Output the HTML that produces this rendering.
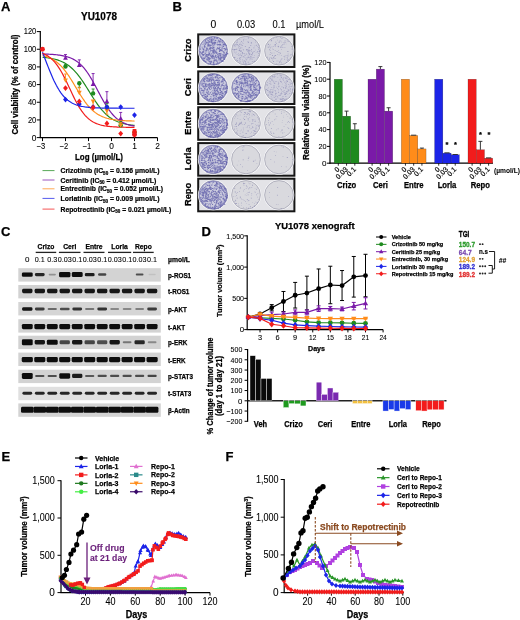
<!DOCTYPE html>
<html><head><meta charset="utf-8"><title>Figure</title>
<style>html,body{margin:0;padding:0;background:#fff;}body{width:520px;height:620px;overflow:hidden;}svg{display:block;}</style>
</head><body>
<svg width="520" height="620" viewBox="0 0 520 620" font-family='"Liberation Sans", Arial, sans-serif' font-weight="bold"><text x="1" y="10.6" font-size="13" stroke="#000" stroke-width="0.25">A</text>
<text x="99" y="20" font-size="11" stroke="#000" stroke-width="0.25" text-anchor="middle" textLength="36" lengthAdjust="spacingAndGlyphs">YU1078</text>
<line x1="40.3" y1="31.08" x2="40.3" y2="138.1" stroke="#000" stroke-width="1.2"/>
<line x1="39.8" y1="137.6" x2="157.5" y2="137.6" stroke="#000" stroke-width="1.2"/>
<line x1="36.8" y1="137.6" x2="40.3" y2="137.6" stroke="#000" stroke-width="1"/>
<text x="36.3" y="140.5" font-size="8.4" stroke="#000" stroke-width="0.08" font-weight="normal" text-anchor="end">0</text>
<line x1="36.8" y1="119.93" x2="40.3" y2="119.93" stroke="#000" stroke-width="1"/>
<text x="36.3" y="122.83" font-size="8.4" stroke="#000" stroke-width="0.08" font-weight="normal" text-anchor="end" textLength="8.41" lengthAdjust="spacingAndGlyphs">20</text>
<line x1="36.8" y1="102.26" x2="40.3" y2="102.26" stroke="#000" stroke-width="1"/>
<text x="36.3" y="105.16" font-size="8.4" stroke="#000" stroke-width="0.08" font-weight="normal" text-anchor="end" textLength="8.41" lengthAdjust="spacingAndGlyphs">40</text>
<line x1="36.8" y1="84.59" x2="40.3" y2="84.59" stroke="#000" stroke-width="1"/>
<text x="36.3" y="87.49" font-size="8.4" stroke="#000" stroke-width="0.08" font-weight="normal" text-anchor="end" textLength="8.41" lengthAdjust="spacingAndGlyphs">60</text>
<line x1="36.8" y1="66.92" x2="40.3" y2="66.92" stroke="#000" stroke-width="1"/>
<text x="36.3" y="69.82" font-size="8.4" stroke="#000" stroke-width="0.08" font-weight="normal" text-anchor="end" textLength="8.41" lengthAdjust="spacingAndGlyphs">80</text>
<line x1="36.8" y1="49.25" x2="40.3" y2="49.25" stroke="#000" stroke-width="1"/>
<text x="36.3" y="52.15" font-size="8.4" stroke="#000" stroke-width="0.08" font-weight="normal" text-anchor="end" textLength="12.61" lengthAdjust="spacingAndGlyphs">100</text>
<line x1="36.8" y1="31.58" x2="40.3" y2="31.58" stroke="#000" stroke-width="1"/>
<text x="36.3" y="34.48" font-size="8.4" stroke="#000" stroke-width="0.08" font-weight="normal" text-anchor="end" textLength="12.61" lengthAdjust="spacingAndGlyphs">120</text>
<line x1="42.5" y1="137.6" x2="42.5" y2="141.1" stroke="#000" stroke-width="1"/>
<text x="41" y="149.4" font-size="8.4" stroke="#000" stroke-width="0.08" font-weight="normal" text-anchor="middle" textLength="8.62" lengthAdjust="spacingAndGlyphs">−3</text>
<line x1="65.5" y1="137.6" x2="65.5" y2="141.1" stroke="#000" stroke-width="1"/>
<text x="64" y="149.4" font-size="8.4" stroke="#000" stroke-width="0.08" font-weight="normal" text-anchor="middle" textLength="8.62" lengthAdjust="spacingAndGlyphs">−2</text>
<line x1="88.5" y1="137.6" x2="88.5" y2="141.1" stroke="#000" stroke-width="1"/>
<text x="87" y="149.4" font-size="8.4" stroke="#000" stroke-width="0.08" font-weight="normal" text-anchor="middle" textLength="8.62" lengthAdjust="spacingAndGlyphs">−1</text>
<line x1="111.5" y1="137.6" x2="111.5" y2="141.1" stroke="#000" stroke-width="1"/>
<text x="111.5" y="149.4" font-size="8.4" stroke="#000" stroke-width="0.08" font-weight="normal" text-anchor="middle">0</text>
<line x1="134.5" y1="137.6" x2="134.5" y2="141.1" stroke="#000" stroke-width="1"/>
<text x="134.5" y="149.4" font-size="8.4" stroke="#000" stroke-width="0.08" font-weight="normal" text-anchor="middle">1</text>
<line x1="157.5" y1="137.6" x2="157.5" y2="141.1" stroke="#000" stroke-width="1"/>
<text x="157.5" y="149.4" font-size="8.4" stroke="#000" stroke-width="0.08" font-weight="normal" text-anchor="middle">2</text>
<text x="99" y="160.3" font-size="9" stroke="#000" stroke-width="0.25" text-anchor="middle" textLength="48" lengthAdjust="spacingAndGlyphs">Log (µmol/L)</text>
<text x="18.3" y="84.5" font-size="8.2" stroke="#000" stroke-width="0.25" text-anchor="middle" transform="rotate(-90 18.3 84.5)" textLength="100" lengthAdjust="spacingAndGlyphs">Cell viability (% of control)</text>
<path d="M42.5 57.27 L43.65 57.38 L44.8 57.49 L45.95 57.62 L47.1 57.76 L48.25 57.92 L49.4 58.09 L50.55 58.29 L51.7 58.5 L52.85 58.73 L54 58.99 L55.15 59.28 L56.3 59.59 L57.45 59.94 L58.6 60.32 L59.75 60.74 L60.9 61.2 L62.05 61.7 L63.2 62.25 L64.35 62.85 L65.5 63.5 L66.65 64.21 L67.8 64.98 L68.95 65.82 L70.1 66.72 L71.25 67.69 L72.4 68.74 L73.55 69.85 L74.7 71.04 L75.85 72.31 L77 73.65 L78.15 75.07 L79.3 76.56 L80.45 78.11 L81.6 79.73 L82.75 81.41 L83.9 83.14 L85.05 84.91 L86.2 86.71 L87.35 88.54 L88.5 90.39 L89.65 92.25 L90.8 94.09 L91.95 95.93 L93.1 97.74 L94.25 99.51 L95.4 101.24 L96.55 102.92 L97.7 104.55 L98.85 106.11 L100 107.6 L101.15 109.02 L102.3 110.37 L103.45 111.64 L104.6 112.84 L105.75 113.96 L106.9 115.01 L108.05 115.99 L109.2 116.9 L110.35 117.74 L111.5 118.51 L112.65 119.23 L113.8 119.89 L114.95 120.49 L116.1 121.04 L117.25 121.55 L118.4 122.01 L119.55 122.43 L120.7 122.82 L121.85 123.17 L123 123.48 L124.15 123.77 L125.3 124.03 L126.45 124.27 L127.6 124.48 L128.75 124.68 L129.9 124.85 L131.05 125.01 L132.2 125.15 L133.35 125.28 L134.5 125.4" stroke="#1f8a1f" stroke-width="1.2" fill="none"/>
<path d="M42.5 54 L43.65 54.04 L44.8 54.07 L45.95 54.11 L47.1 54.15 L48.25 54.2 L49.4 54.26 L50.55 54.32 L51.7 54.39 L52.85 54.47 L54 54.56 L55.15 54.66 L56.3 54.77 L57.45 54.9 L58.6 55.04 L59.75 55.2 L60.9 55.37 L62.05 55.57 L63.2 55.79 L64.35 56.04 L65.5 56.32 L66.65 56.62 L67.8 56.97 L68.95 57.35 L70.1 57.78 L71.25 58.25 L72.4 58.78 L73.55 59.36 L74.7 60.01 L75.85 60.72 L77 61.5 L78.15 62.36 L79.3 63.3 L80.45 64.33 L81.6 65.44 L82.75 66.65 L83.9 67.96 L85.05 69.37 L86.2 70.88 L87.35 72.48 L88.5 74.18 L89.65 75.98 L90.8 77.86 L91.95 79.82 L93.1 81.85 L94.25 83.94 L95.4 86.07 L96.55 88.24 L97.7 90.42 L98.85 92.61 L100 94.79 L101.15 96.93 L102.3 99.04 L103.45 101.09 L104.6 103.07 L105.75 104.98 L106.9 106.8 L108.05 108.53 L109.2 110.17 L110.35 111.71 L111.5 113.15 L112.65 114.49 L113.8 115.73 L114.95 116.88 L116.1 117.93 L117.25 118.9 L118.4 119.78 L119.55 120.59 L120.7 121.32 L121.85 121.99 L123 122.59 L124.15 123.13 L125.3 123.62 L126.45 124.07 L127.6 124.46 L128.75 124.82 L129.9 125.14 L131.05 125.43 L132.2 125.68 L133.35 125.91 L134.5 126.12" stroke="#7a1aa8" stroke-width="1.2" fill="none"/>
<path d="M42.5 55.49 L43.65 55.78 L44.8 56.1 L45.95 56.45 L47.1 56.85 L48.25 57.28 L49.4 57.76 L50.55 58.29 L51.7 58.87 L52.85 59.51 L54 60.21 L55.15 60.98 L56.3 61.81 L57.45 62.72 L58.6 63.7 L59.75 64.77 L60.9 65.91 L62.05 67.14 L63.2 68.45 L64.35 69.84 L65.5 71.32 L66.65 72.87 L67.8 74.5 L68.95 76.2 L70.1 77.96 L71.25 79.78 L72.4 81.64 L73.55 83.53 L74.7 85.45 L75.85 87.38 L77 89.3 L78.15 91.21 L79.3 93.1 L80.45 94.95 L81.6 96.75 L82.75 98.5 L83.9 100.18 L85.05 101.79 L86.2 103.32 L87.35 104.77 L88.5 106.14 L89.65 107.43 L90.8 108.63 L91.95 109.75 L93.1 110.79 L94.25 111.76 L95.4 112.64 L96.55 113.46 L97.7 114.2 L98.85 114.89 L100 115.51 L101.15 116.08 L102.3 116.59 L103.45 117.06 L104.6 117.48 L105.75 117.87 L106.9 118.21 L108.05 118.52 L109.2 118.81 L110.35 119.06 L111.5 119.29 L112.65 119.49 L113.8 119.68 L114.95 119.84 L116.1 119.99 L117.25 120.12 L118.4 120.24 L119.55 120.35 L120.7 120.44 L121.85 120.53 L123 120.61 L124.15 120.67 L125.3 120.74 L126.45 120.79 L127.6 120.84 L128.75 120.88 L129.9 120.92 L131.05 120.96 L132.2 120.99 L133.35 121.02 L134.5 121.04" stroke="#ff8c1a" stroke-width="1.2" fill="none"/>
<path d="M42.5 52.32 L43.65 55.25 L44.8 58.23 L45.95 61.21 L47.1 64.18 L48.25 67.12 L49.4 70.01 L50.55 72.83 L51.7 75.55 L52.85 78.17 L54 80.67 L55.15 83.03 L56.3 85.27 L57.45 87.36 L58.6 89.31 L59.75 91.12 L60.9 92.8 L62.05 94.33 L63.2 95.74 L64.35 97.03 L65.5 98.2 L66.65 99.26 L67.8 100.22 L68.95 101.08 L70.1 101.86 L71.25 102.56 L72.4 103.19 L73.55 103.75 L74.7 104.25 L75.85 104.7 L77 105.1 L78.15 105.46 L79.3 105.78 L80.45 106.06 L81.6 106.31 L82.75 106.53 L83.9 106.73 L85.05 106.91 L86.2 107.06 L87.35 107.2 L88.5 107.32 L89.65 107.43 L90.8 107.53 L91.95 107.61 L93.1 107.69 L94.25 107.76 L95.4 107.82 L96.55 107.87 L97.7 107.91 L98.85 107.96 L100 107.99 L101.15 108.02 L102.3 108.05 L103.45 108.08 L104.6 108.1 L105.75 108.12 L106.9 108.14 L108.05 108.15 L109.2 108.16 L110.35 108.18 L111.5 108.19 L112.65 108.2 L113.8 108.2 L114.95 108.21 L116.1 108.22 L117.25 108.22 L118.4 108.23 L119.55 108.23 L120.7 108.24 L121.85 108.24 L123 108.24 L124.15 108.25 L125.3 108.25 L126.45 108.25 L127.6 108.25 L128.75 108.26 L129.9 108.26 L131.05 108.26 L132.2 108.26 L133.35 108.26 L134.5 108.26" stroke="#1c24e8" stroke-width="1.2" fill="none"/>
<path d="M42.5 53.32 L43.65 53.79 L44.8 54.32 L45.95 54.91 L47.1 55.58 L48.25 56.31 L49.4 57.13 L50.55 58.04 L51.7 59.03 L52.85 60.13 L54 61.34 L55.15 62.66 L56.3 64.09 L57.45 65.64 L58.6 67.31 L59.75 69.1 L60.9 71.01 L62.05 73.03 L63.2 75.15 L64.35 77.37 L65.5 79.67 L66.65 82.03 L67.8 84.45 L68.95 86.9 L70.1 89.36 L71.25 91.81 L72.4 94.24 L73.55 96.62 L74.7 98.95 L75.85 101.19 L77 103.34 L78.15 105.4 L79.3 107.34 L80.45 109.17 L81.6 110.88 L82.75 112.47 L83.9 113.94 L85.05 115.29 L86.2 116.53 L87.35 117.67 L88.5 118.7 L89.65 119.63 L90.8 120.48 L91.95 121.24 L93.1 121.92 L94.25 122.54 L95.4 123.09 L96.55 123.58 L97.7 124.02 L98.85 124.41 L100 124.76 L101.15 125.07 L102.3 125.34 L103.45 125.58 L104.6 125.8 L105.75 125.99 L106.9 126.16 L108.05 126.31 L109.2 126.44 L110.35 126.56 L111.5 126.66 L112.65 126.76 L113.8 126.84 L114.95 126.91 L116.1 126.97 L117.25 127.03 L118.4 127.07 L119.55 127.12 L120.7 127.16 L121.85 127.19 L123 127.22 L124.15 127.25 L125.3 127.27 L126.45 127.29 L127.6 127.31 L128.75 127.32 L129.9 127.34 L131.05 127.35 L132.2 127.36 L133.35 127.37 L134.5 127.38" stroke="#f21c1c" stroke-width="1.2" fill="none"/>
<line x1="65.5" y1="66.48" x2="65.5" y2="64.71" stroke="#1f8a1f" stroke-width="0.9"/>
<line x1="64" y1="64.71" x2="67" y2="64.71" stroke="#1f8a1f" stroke-width="0.9"/>
<circle cx="65.5" cy="66.48" r="2.2" fill="#1f8a1f"/>
<line x1="79.3" y1="83.26" x2="79.3" y2="87.68" stroke="#1f8a1f" stroke-width="0.9"/>
<line x1="77.8" y1="87.68" x2="80.8" y2="87.68" stroke="#1f8a1f" stroke-width="0.9"/>
<circle cx="79.3" cy="83.26" r="2.2" fill="#1f8a1f"/>
<line x1="93.1" y1="93.42" x2="93.1" y2="89.01" stroke="#1f8a1f" stroke-width="0.9"/>
<line x1="91.6" y1="89.01" x2="94.6" y2="89.01" stroke="#1f8a1f" stroke-width="0.9"/>
<circle cx="93.1" cy="93.42" r="2.2" fill="#1f8a1f"/>
<line x1="106.9" y1="107.12" x2="106.9" y2="103.59" stroke="#1f8a1f" stroke-width="0.9"/>
<line x1="105.4" y1="103.59" x2="108.4" y2="103.59" stroke="#1f8a1f" stroke-width="0.9"/>
<circle cx="106.9" cy="107.12" r="2.2" fill="#1f8a1f"/>
<line x1="120.7" y1="125.23" x2="120.7" y2="121.7" stroke="#1f8a1f" stroke-width="0.9"/>
<line x1="119.2" y1="121.7" x2="122.2" y2="121.7" stroke="#1f8a1f" stroke-width="0.9"/>
<circle cx="120.7" cy="125.23" r="2.2" fill="#1f8a1f"/>
<line x1="134.5" y1="132.3" x2="134.5" y2="129.65" stroke="#1f8a1f" stroke-width="0.9"/>
<line x1="133" y1="129.65" x2="136" y2="129.65" stroke="#1f8a1f" stroke-width="0.9"/>
<circle cx="134.5" cy="132.3" r="2.2" fill="#1f8a1f"/>
<line x1="65.5" y1="58.08" x2="65.5" y2="54.55" stroke="#7a1aa8" stroke-width="0.9"/>
<line x1="64" y1="54.55" x2="67" y2="54.55" stroke="#7a1aa8" stroke-width="0.9"/>
<path d="M65.5 55.44L67.92 59.84L63.08 59.84Z" fill="#7a1aa8"/>
<line x1="79.3" y1="65.15" x2="79.3" y2="59.85" stroke="#7a1aa8" stroke-width="0.9"/>
<line x1="77.8" y1="59.85" x2="80.8" y2="59.85" stroke="#7a1aa8" stroke-width="0.9"/>
<path d="M79.3 62.51L81.72 66.91L76.88 66.91Z" fill="#7a1aa8"/>
<line x1="93.1" y1="84.15" x2="93.1" y2="73.55" stroke="#7a1aa8" stroke-width="0.9"/>
<line x1="91.6" y1="73.55" x2="94.6" y2="73.55" stroke="#7a1aa8" stroke-width="0.9"/>
<path d="M93.1 81.51L95.52 85.91L90.68 85.91Z" fill="#7a1aa8"/>
<line x1="106.9" y1="101.38" x2="106.9" y2="91.66" stroke="#7a1aa8" stroke-width="0.9"/>
<line x1="105.4" y1="91.66" x2="108.4" y2="91.66" stroke="#7a1aa8" stroke-width="0.9"/>
<path d="M106.9 98.74L109.32 103.14L104.48 103.14Z" fill="#7a1aa8"/>
<line x1="120.7" y1="118.6" x2="120.7" y2="112.42" stroke="#7a1aa8" stroke-width="0.9"/>
<line x1="119.2" y1="112.42" x2="122.2" y2="112.42" stroke="#7a1aa8" stroke-width="0.9"/>
<path d="M120.7 115.96L123.12 120.36L118.28 120.36Z" fill="#7a1aa8"/>
<line x1="134.5" y1="133.18" x2="134.5" y2="130.53" stroke="#7a1aa8" stroke-width="0.9"/>
<line x1="133" y1="130.53" x2="136" y2="130.53" stroke="#7a1aa8" stroke-width="0.9"/>
<path d="M134.5 130.54L136.92 134.94L132.08 134.94Z" fill="#7a1aa8"/>
<line x1="65.5" y1="80.17" x2="65.5" y2="73.99" stroke="#ff8c1a" stroke-width="0.9"/>
<line x1="64" y1="73.99" x2="67" y2="73.99" stroke="#ff8c1a" stroke-width="0.9"/>
<path d="M65.5 82.81L67.92 78.41L63.08 78.41Z" fill="#ff8c1a"/>
<line x1="79.3" y1="92.54" x2="79.3" y2="87.24" stroke="#ff8c1a" stroke-width="0.9"/>
<line x1="77.8" y1="87.24" x2="80.8" y2="87.24" stroke="#ff8c1a" stroke-width="0.9"/>
<path d="M79.3 95.18L81.72 90.78L76.88 90.78Z" fill="#ff8c1a"/>
<line x1="93.1" y1="101.38" x2="93.1" y2="105.79" stroke="#ff8c1a" stroke-width="0.9"/>
<line x1="91.6" y1="105.79" x2="94.6" y2="105.79" stroke="#ff8c1a" stroke-width="0.9"/>
<path d="M93.1 104.02L95.52 99.62L90.68 99.62Z" fill="#ff8c1a"/>
<line x1="106.9" y1="110.65" x2="106.9" y2="114.19" stroke="#ff8c1a" stroke-width="0.9"/>
<line x1="105.4" y1="114.19" x2="108.4" y2="114.19" stroke="#ff8c1a" stroke-width="0.9"/>
<path d="M106.9 113.29L109.32 108.89L104.48 108.89Z" fill="#ff8c1a"/>
<line x1="120.7" y1="125.23" x2="120.7" y2="122.58" stroke="#ff8c1a" stroke-width="0.9"/>
<line x1="119.2" y1="122.58" x2="122.2" y2="122.58" stroke="#ff8c1a" stroke-width="0.9"/>
<path d="M120.7 127.87L123.12 123.47L118.28 123.47Z" fill="#ff8c1a"/>
<line x1="134.5" y1="133.18" x2="134.5" y2="131.42" stroke="#ff8c1a" stroke-width="0.9"/>
<line x1="133" y1="131.42" x2="136" y2="131.42" stroke="#ff8c1a" stroke-width="0.9"/>
<path d="M134.5 135.82L136.92 131.42L132.08 131.42Z" fill="#ff8c1a"/>
<path d="M65.5 96.75L67.92 99.61L65.5 102.47L63.08 99.61Z" fill="#1c24e8"/>
<path d="M79.3 101.17L81.72 104.03L79.3 106.89L76.88 104.03Z" fill="#1c24e8"/>
<path d="M93.1 104.26L95.52 107.12L93.1 109.98L90.68 107.12Z" fill="#1c24e8"/>
<path d="M106.9 104.26L109.32 107.12L106.9 109.98L104.48 107.12Z" fill="#1c24e8"/>
<path d="M120.7 104.26L123.12 107.12L120.7 109.98L118.28 107.12Z" fill="#1c24e8"/>
<path d="M134.5 112.21L136.92 115.07L134.5 117.93L132.08 115.07Z" fill="#1c24e8"/>
<path d="M65.5 85.26L67.92 88.12L65.5 90.98L63.08 88.12Z" fill="#f21c1c"/>
<path d="M79.3 98.52L81.72 101.38L79.3 104.24L76.88 101.38Z" fill="#f21c1c"/>
<path d="M93.1 104.7L95.52 107.56L93.1 110.42L90.68 107.56Z" fill="#f21c1c"/>
<path d="M106.9 120.6L109.32 123.46L106.9 126.32L104.48 123.46Z" fill="#f21c1c"/>
<path d="M120.7 130.76L123.12 133.62L120.7 136.48L118.28 133.62Z" fill="#f21c1c"/>
<path d="M134.5 132.09L136.92 134.95L134.5 137.81L132.08 134.95Z" fill="#f21c1c"/>
<circle cx="42.5" cy="49.25" r="2.4" fill="#f21c1c"/>
<rect x="132.6" y="132.61" width="3.8" height="3.8" fill="#f21c1c"/>
<rect x="132.6" y="130.84" width="3.8" height="3.8" fill="#f21c1c"/>
<rect x="132.6" y="129.07" width="3.8" height="3.8" fill="#f21c1c"/>
<line x1="42.5" y1="170.6" x2="54.5" y2="170.6" stroke="#1f8a1f" stroke-width="1" opacity="0.75"/>
<text x="60.5" y="173.2" font-size="7.5" stroke="#000" stroke-width="0.22" textLength="99" lengthAdjust="spacingAndGlyphs">Crizotinib (IC<tspan font-size="5" dy="1.7">50</tspan><tspan dy="-1.7"> = 0.156 µmol/L)</tspan></text>
<line x1="42.5" y1="180" x2="54.5" y2="180" stroke="#7a1aa8" stroke-width="1" opacity="0.75"/>
<text x="60.5" y="182.6" font-size="7.5" stroke="#000" stroke-width="0.22" textLength="95.7" lengthAdjust="spacingAndGlyphs">Ceritinib (IC<tspan font-size="5" dy="1.7">50</tspan><tspan dy="-1.7"> = 0.412 µmol/L)</tspan></text>
<line x1="42.5" y1="188.8" x2="54.5" y2="188.8" stroke="#ff8c1a" stroke-width="1" opacity="0.75"/>
<text x="60.5" y="191.4" font-size="7.5" stroke="#000" stroke-width="0.22" textLength="102.5" lengthAdjust="spacingAndGlyphs">Entrectinib (IC<tspan font-size="5" dy="1.7">50</tspan><tspan dy="-1.7"> = 0.052 µmol/L)</tspan></text>
<line x1="42.5" y1="198.4" x2="54.5" y2="198.4" stroke="#1c24e8" stroke-width="1" opacity="0.75"/>
<text x="60.5" y="201" font-size="7.5" stroke="#000" stroke-width="0.22" textLength="99" lengthAdjust="spacingAndGlyphs">Lorlatinib (IC<tspan font-size="5" dy="1.7">50</tspan><tspan dy="-1.7"> = 0.009 µmol/L)</tspan></text>
<line x1="42.5" y1="209.1" x2="54.5" y2="209.1" stroke="#f21c1c" stroke-width="1" opacity="0.75"/>
<text x="60.5" y="211.7" font-size="7.5" stroke="#000" stroke-width="0.22" textLength="110.7" lengthAdjust="spacingAndGlyphs">Repotrectinib (IC<tspan font-size="5" dy="1.7">50</tspan><tspan dy="-1.7"> = 0.021 µmol/L)</tspan></text>
<text x="172.5" y="10.6" font-size="13" stroke="#000" stroke-width="0.25">B</text>
<text x="213.5" y="27.8" font-size="10.4" stroke="#000" stroke-width="0.08" font-weight="normal" text-anchor="middle">0</text>
<text x="246" y="27.8" font-size="10.4" stroke="#000" stroke-width="0.08" font-weight="normal" text-anchor="middle" textLength="18.22" lengthAdjust="spacingAndGlyphs">0.03</text>
<text x="279" y="27.8" font-size="10.4" stroke="#000" stroke-width="0.08" font-weight="normal" text-anchor="middle" textLength="13.01" lengthAdjust="spacingAndGlyphs">0.1</text>
<text x="296" y="27.8" font-size="10" stroke="#000" stroke-width="0.08" font-weight="normal" textLength="28" lengthAdjust="spacingAndGlyphs">µmol/L</text>
<rect x="198.2" y="34.4" width="96.2" height="32.6" fill="#e3e3e7" stroke="#161616" stroke-width="2"/>
<text x="191.3" y="50.1" font-size="9.3" stroke="#000" stroke-width="0.25" text-anchor="middle" transform="rotate(-90 191.3 50.1)">Crizo</text>
<circle cx="213.2" cy="50.7" r="15.3" fill="#fafafc"/>
<circle cx="213.2" cy="50.7" r="14.4" fill="#cbcbde" stroke="#9c9cac" stroke-width="0.7"/>
<path d="M217.78 57.08h0.6v0.6h-0.6zM223.58 57.67h1.5v0.6h-1.5zM216.1 63.54h0.6v1.2h-0.6zM213.72 59.61h1.5v1.2h-1.5zM210.12 49.36h0.8v0.6h-0.8zM204.85 57.04h0.8v0.6h-0.8zM220.1 58.34h1.2v0.8h-1.2zM204.04 46.33h1.5v0.8h-1.5zM209.21 48.78h0.8v1h-0.8zM212.18 46.51h1.5v0.6h-1.5zM202.35 50.94h1.5v1.2h-1.5zM201.32 53.31h1.2v1h-1.2zM215.28 43.44h0.8v0.6h-0.8zM202.87 49.05h1v1.2h-1zM220.55 49.78h0.6v1.2h-0.6zM210.14 55.39h1.2v1.2h-1.2zM211.86 48.32h1.5v1h-1.5zM208.46 57.21h1.2v1.2h-1.2zM216.21 52.71h1v1.2h-1zM223.77 55.28h1v1.2h-1zM207.65 55.54h1v0.6h-1zM204.97 61.25h1.5v0.6h-1.5zM215.12 60.2h1v0.8h-1zM203.7 57.8h1.2v0.6h-1.2zM208.61 53.96h1v0.8h-1zM221.4 41.28h1v1.2h-1zM207.58 38.2h1.2v0.8h-1.2zM215.6 55.5h0.8v0.8h-0.8zM213.94 49.38h0.8v1h-0.8zM217.67 56.51h1.5v1h-1.5zM208.7 60.49h0.8v0.6h-0.8zM219.63 43.94h1.5v1.2h-1.5zM206.35 56.07h1.2v1.2h-1.2zM216.34 52.11h0.8v1.2h-0.8zM210.22 55.39h0.6v0.6h-0.6zM213.32 50.87h0.6v1h-0.6zM222.97 55.32h0.8v1.2h-0.8zM213.12 56.02h1v1h-1zM220.31 57h1.2v1.2h-1.2zM209.58 59.55h0.8v0.6h-0.8zM212.48 38.77h1.2v0.8h-1.2zM215.95 60.23h1.5v1h-1.5zM208.11 49.28h0.6v1h-0.6zM222.12 40.37h1v1h-1zM205.09 61.06h0.8v1h-0.8zM204.86 43.51h0.8v0.8h-0.8zM212.41 38.24h0.8v0.8h-0.8zM207.09 58.52h0.6v0.6h-0.6zM201.12 52.83h0.8v1h-0.8zM221.72 47.14h1v1h-1zM216.34 53.04h1.2v0.8h-1.2zM205.23 51.57h1.5v0.6h-1.5zM207.73 42.87h0.6v0.6h-0.6zM215.85 37.81h0.8v1.2h-0.8zM201.29 55.95h1v0.6h-1zM225.35 48.51h1.2v1.2h-1.2zM221.46 47.83h0.8v0.8h-0.8zM226.75 53.07h1.5v1.2h-1.5zM220.72 60.55h1.5v1.2h-1.5zM206.6 59.73h1.5v0.8h-1.5zM213.82 48.78h0.6v0.8h-0.6zM219.49 44.14h0.8v0.6h-0.8zM211.35 57.37h0.8v1h-0.8zM207.06 54.12h0.8v0.6h-0.8zM205.21 61.16h1.2v1.2h-1.2zM222.25 42h0.8v0.8h-0.8zM223.12 51.87h1.2v0.8h-1.2zM214.95 40.08h0.8v0.8h-0.8zM209.4 47.17h0.6v0.6h-0.6zM205.37 49.79h1.5v1.2h-1.5zM222.8 58.26h1.5v0.6h-1.5zM212.04 57.48h0.6v1.2h-0.6zM213.85 40.38h0.6v1.2h-0.6zM220.96 49.39h1.5v0.8h-1.5zM202.23 54.09h1.5v1.2h-1.5zM213.34 60.53h1.5v1h-1.5zM223.56 42.43h0.8v1.2h-0.8zM216.89 54.24h1.2v1h-1.2zM213.42 54.41h0.6v0.8h-0.6zM215.59 39.66h0.8v1h-0.8zM217.07 47.2h1.2v0.8h-1.2zM223.1 57.35h1.2v0.8h-1.2zM220 38.77h0.8v1.2h-0.8zM201.88 58.52h1.2v0.8h-1.2zM220.1 55.21h1v0.6h-1zM205.45 52.76h0.6v1.2h-0.6zM207.54 45.12h1.5v0.6h-1.5zM217.24 48.43h0.8v0.6h-0.8zM212.65 54.66h0.8v1h-0.8zM218.29 39.84h1v1.2h-1zM217.86 48.11h1.5v1.2h-1.5zM222.97 56.86h0.6v0.8h-0.6zM221.28 54.66h0.6v0.6h-0.6zM223.88 56.91h0.8v0.6h-0.8zM218.32 55.61h0.6v1h-0.6zM201.24 57.5h1v0.8h-1zM212.48 47.92h0.6v0.8h-0.6zM216.16 57.11h1v1h-1zM215.95 60.37h1.2v0.8h-1.2zM215.58 43.93h1v0.6h-1zM213.02 49h1.5v0.8h-1.5zM213.47 60.59h1.2v0.6h-1.2zM206.62 41.64h1.2v1.2h-1.2zM208.37 63.41h0.8v0.8h-0.8zM217.19 43.68h0.8v1.2h-0.8zM226.84 49.14h0.8v0.6h-0.8zM212.99 47.04h1v1.2h-1zM218.01 53.52h1.2v1h-1.2zM209.44 40.71h0.6v1.2h-0.6zM212.49 56.6h0.6v1h-0.6zM209.24 58.02h1.5v1h-1.5zM219.86 49.24h1v0.8h-1zM221.44 50.76h1.2v0.6h-1.2zM203.69 50.53h0.8v0.8h-0.8zM223 51h1v0.6h-1zM208.73 47.98h1.2v0.6h-1.2zM208.02 45.2h0.6v0.8h-0.6zM210.83 39.76h1.5v1.2h-1.5zM210.99 38.84h1.2v0.8h-1.2zM207.8 45.71h0.8v0.6h-0.8zM210.47 38.47h1.5v1.2h-1.5zM217.7 39.77h0.8v0.6h-0.8zM202.36 44.38h0.8v0.6h-0.8zM214.83 52.51h1v0.6h-1zM205.12 53.25h0.6v0.6h-0.6zM208.59 40.8h1.2v1h-1.2zM213.43 49.94h1.5v0.6h-1.5zM223.45 55.22h1.2v1h-1.2zM220.25 40.48h0.8v0.8h-0.8zM209.3 45.34h1.2v1.2h-1.2zM224.44 56.58h1v0.6h-1zM206.44 42.23h0.6v0.8h-0.6zM208.59 44.22h1v0.8h-1zM214.63 51.27h1v0.6h-1zM208.03 40.45h1v1h-1zM204 52.67h0.6v0.8h-0.6zM219.81 54.66h1.2v0.6h-1.2zM219.79 54.13h1.5v1.2h-1.5zM202.77 59.68h0.8v0.6h-0.8zM219.82 58.88h1.5v1h-1.5zM222.26 60.67h1.5v1h-1.5zM209.44 38.26h0.8v1.2h-0.8zM200.17 51.84h0.6v0.8h-0.6zM212.37 50.74h1.2v1.2h-1.2zM218.01 56.56h1v1.2h-1zM217.37 44.16h0.6v1h-0.6zM219.55 40.57h0.6v0.8h-0.6zM222.69 43.94h1v1h-1zM206.62 55.95h1.5v0.6h-1.5zM205.74 54.32h1v0.6h-1zM220.13 53.03h1v0.8h-1zM212.52 57.56h1.5v1h-1.5zM208.99 55h1.2v0.6h-1.2zM204.74 41.59h1.5v0.8h-1.5zM224.35 54.28h1.2v1.2h-1.2zM220.17 58.98h1v1.2h-1zM215.94 49.34h0.8v0.8h-0.8zM207.94 58.59h1v1h-1zM224.93 48.94h1v1.2h-1zM209.69 61.31h1.5v1.2h-1.5zM210.23 46.96h0.6v0.8h-0.6zM216.9 41.66h1.5v0.8h-1.5zM208.58 58.76h1.2v1.2h-1.2zM215.03 55.52h0.6v0.8h-0.6zM219.98 55.07h0.8v1h-0.8zM206.85 47.73h0.6v1.2h-0.6zM212.98 42.16h0.8v1.2h-0.8zM213.3 43.53h1.2v1h-1.2zM206.53 58.75h1.5v0.8h-1.5zM216.55 48.16h1.2v1.2h-1.2zM203.11 55.31h1v0.6h-1zM208.81 52.93h1.2v1.2h-1.2zM213.06 50.82h1.5v1.2h-1.5zM213.33 64.31h0.6v0.8h-0.6zM207.83 49.94h0.6v1.2h-0.6zM213.88 46.73h0.6v0.8h-0.6zM219.03 47.49h1v0.8h-1zM202.45 48.77h1.2v0.6h-1.2zM211.85 54.84h1.5v0.8h-1.5zM214.62 59.18h1.5v0.6h-1.5zM212.75 52.04h1.2v1h-1.2zM204.89 40.04h0.8v1.2h-0.8zM203.62 47.79h0.6v1.2h-0.6zM209.11 61.54h0.6v0.8h-0.6zM208.75 42.04h1.2v0.6h-1.2zM209.73 44.62h1v0.8h-1zM209.97 41.57h1.2v1h-1.2zM216.85 61.5h1v0.6h-1zM219.34 49.52h1v0.8h-1zM214.38 57.22h1v0.6h-1zM199.74 51.06h0.8v0.8h-0.8zM221.33 45.57h0.6v0.8h-0.6zM225.68 55.14h0.6v0.8h-0.6zM210.98 42.09h0.8v1.2h-0.8zM211.01 41.71h1v0.6h-1zM225.73 44.96h1v0.8h-1zM218.67 48.37h1.2v0.6h-1.2zM212.01 43.09h1v1h-1zM220.31 56.5h0.6v1h-0.6zM209.76 52.59h0.6v0.8h-0.6zM214.2 42.25h1v1.2h-1zM212.07 46.77h0.8v1h-0.8zM203.62 54.06h1v1h-1zM201.5 52.59h1.2v0.8h-1.2zM214.5 38.33h0.6v1.2h-0.6zM215.58 51.69h0.6v1h-0.6zM218.82 53.04h1.5v1h-1.5zM208.97 57.86h1.5v0.6h-1.5zM211.73 43.79h1v1h-1zM211.86 43.29h1.5v0.6h-1.5zM213.42 52.84h1.2v1.2h-1.2zM203.01 59.52h1v1.2h-1zM221.57 59.92h1.2v0.8h-1.2zM214.37 50.16h1v0.8h-1zM208.15 60.19h1v1.2h-1zM214.87 42.57h0.6v0.8h-0.6zM217.83 57.99h1.2v0.6h-1.2zM202.15 51.98h1.5v1h-1.5zM208.25 53.16h0.6v0.6h-0.6zM219.33 54.28h0.6v1.2h-0.6zM210.76 41.27h1.2v0.8h-1.2zM207.41 54.03h1.5v0.8h-1.5zM220.03 40.91h0.6v1h-0.6zM206.37 47.65h1v1h-1zM216.92 61.96h0.8v0.8h-0.8zM217.1 56.31h1.5v0.8h-1.5zM206.94 55.49h0.8v0.8h-0.8zM222.18 57.27h1.2v0.6h-1.2zM208.84 51.4h0.8v1.2h-0.8zM225.97 54.01h1v0.8h-1zM214.97 55.13h1.5v0.8h-1.5zM203.95 60.27h0.8v1.2h-0.8zM214.88 40.12h0.6v0.6h-0.6zM210.44 40.03h1v0.8h-1zM211.77 52.95h0.6v0.8h-0.6zM226.6 53.98h0.8v0.6h-0.8zM202.7 57.46h1v0.8h-1zM222.8 55.81h0.6v1.2h-0.6zM222.62 54.66h0.6v1.2h-0.6zM219.55 59.98h1.5v0.6h-1.5zM204.27 57.38h1v1.2h-1zM206.43 38.77h1.2v0.6h-1.2zM206.15 47.57h1v1.2h-1zM219.06 43.99h1v0.8h-1zM206.07 55.55h0.6v1.2h-0.6zM201.57 56.74h0.6v1.2h-0.6zM206.28 58.58h0.8v0.8h-0.8zM211.61 50.17h1.2v0.6h-1.2zM222.57 46.09h1.5v0.8h-1.5zM212.11 55.86h1.5v0.8h-1.5zM223.49 59.08h1.2v0.8h-1.2zM217.15 44.23h0.6v1.2h-0.6zM207.16 45.86h1.2v0.6h-1.2zM203.65 41.7h0.8v0.8h-0.8zM205.03 43.52h0.8v1.2h-0.8zM214.37 56.48h1.2v0.8h-1.2zM219.32 56.67h0.8v0.8h-0.8zM210.61 49.63h0.6v1h-0.6zM209.36 47.93h1.5v1h-1.5zM209.22 61.08h0.8v1.2h-0.8zM207.41 57.07h1.5v1.2h-1.5zM219.03 50.83h1.2v1.2h-1.2zM213.77 44.03h1.2v0.8h-1.2zM203.13 57.98h0.6v0.8h-0.6zM207.72 56.89h1.2v0.6h-1.2zM215.1 52.73h1v0.6h-1zM209.99 50.62h1.2v0.8h-1.2zM215.23 51.6h1.5v0.6h-1.5zM219.23 50h1.2v1h-1.2zM224.86 43.91h0.8v0.8h-0.8zM211.11 53.55h1v0.8h-1zM207.26 45.56h1.2v0.8h-1.2zM219.98 49.15h1.2v0.8h-1.2zM205.27 43.64h0.8v1h-0.8zM215.86 58.69h1.2v0.8h-1.2zM211.26 61.54h1v1.2h-1zM214.43 45.17h0.6v0.6h-0.6zM206.19 59.19h1.2v0.6h-1.2zM206.45 49.16h1.2v1h-1.2zM220.29 50.28h1.5v0.8h-1.5zM213.96 42.45h1.2v0.8h-1.2zM212.97 44.9h0.6v1h-0.6zM212.91 63.19h1.5v1h-1.5zM212.99 38.89h0.8v0.8h-0.8zM207.96 45.42h1.2v1h-1.2zM222.02 60.33h0.8v0.6h-0.8zM215.26 50.73h1v1h-1zM210.39 54.22h0.8v1.2h-0.8zM204.27 45.1h0.8v1h-0.8zM202.43 52.41h0.8v0.6h-0.8zM213.74 64.04h0.8v1.2h-0.8zM210.44 47.44h1v1.2h-1zM225.37 48.15h0.6v1h-0.6zM203.83 45.66h1.5v1.2h-1.5zM218.85 46.78h0.6v0.6h-0.6zM204.84 56.3h0.8v0.8h-0.8zM213.8 47.42h0.6v0.8h-0.6zM214.82 55.65h1.5v1.2h-1.5zM218.88 61.78h1v0.6h-1zM220.41 52.97h1.2v0.6h-1.2zM205.41 53.98h1.2v0.6h-1.2zM201.84 54.2h0.8v0.6h-0.8zM208.84 45.15h0.6v1h-0.6zM224.81 44.8h1v0.6h-1zM206.49 48.34h1.2v1h-1.2zM219.96 47.44h0.8v0.6h-0.8zM226.09 51.94h1v0.8h-1zM216.9 62.81h0.8v1h-0.8zM208.57 54.59h1.5v0.8h-1.5zM218.28 43.88h1.5v1.2h-1.5zM203.89 48.89h0.6v0.6h-0.6zM211.75 41.69h1.5v1h-1.5zM203.68 58.42h1.5v0.6h-1.5zM218.11 59.84h0.6v0.6h-0.6zM209.87 47.5h0.8v1h-0.8zM209.04 37.71h0.6v0.6h-0.6zM210.02 46.67h0.6v0.6h-0.6zM224.05 55.46h1.5v1h-1.5zM219.11 48.97h1.5v0.6h-1.5zM213.67 37.77h1.2v0.6h-1.2zM215.19 57.26h0.6v0.6h-0.6zM224.6 43.58h0.6v1h-0.6zM219.61 57.76h0.8v1h-0.8zM206.28 54.29h0.6v1h-0.6zM211.78 57.55h1v1h-1zM203.5 43.46h1.2v1h-1.2zM223.85 52.8h1.2v0.6h-1.2zM214.51 41.68h1v1.2h-1zM201.94 47.97h0.8v0.6h-0.8zM210.78 60.88h1.2v0.6h-1.2zM210.82 60.4h0.6v0.6h-0.6zM219.91 55.3h0.8v1.2h-0.8zM223.44 47.88h1.5v1h-1.5zM218.88 59.52h0.8v0.8h-0.8zM220.71 56.91h0.6v1.2h-0.6zM209.21 39.12h0.6v1h-0.6zM206.5 55.48h1.2v0.6h-1.2zM207.74 43.59h1v0.8h-1zM206.37 54.02h1.5v0.8h-1.5zM219.54 45.04h0.8v1.2h-0.8zM209.12 47.96h1.5v0.6h-1.5zM209.43 57.92h0.8v1.2h-0.8zM212.63 39.49h0.8v1.2h-0.8zM214.54 41.66h1.5v0.8h-1.5zM208.44 51.86h0.8v0.8h-0.8zM213.41 43.57h1.5v0.8h-1.5zM224.79 48.85h1v1h-1zM210.59 55.58h0.8v1h-0.8zM211.38 37.19h0.6v0.8h-0.6zM224.07 58.77h1.2v0.8h-1.2zM217.01 37.55h1v1.2h-1zM218.78 55.28h0.6v1h-0.6zM208.41 54.75h0.6v0.6h-0.6zM215.42 42.27h0.8v1h-0.8zM219.1 58.01h1.5v1.2h-1.5zM213.25 51.72h1.2v1.2h-1.2zM206.94 39.66h1.5v0.8h-1.5zM206.03 41.86h1.2v1.2h-1.2zM207.85 45.13h0.6v1.2h-0.6zM207.7 54.69h0.8v1h-0.8zM200.56 52.08h0.6v1.2h-0.6zM207.94 42.28h0.8v1h-0.8zM203.88 58.54h1.2v0.6h-1.2zM210.6 49.97h0.8v0.8h-0.8zM221.2 56.6h1.5v1.2h-1.5zM211.13 40.76h1.5v0.6h-1.5zM218.45 41h1.5v1h-1.5zM221.57 47.86h0.8v0.8h-0.8zM213.89 42.08h0.6v1h-0.6zM213.03 61.72h1.2v1.2h-1.2zM216.25 52.26h1.2v1h-1.2zM221.33 57.36h1v1.2h-1zM200.01 48.43h0.8v1.2h-0.8zM218 58.76h0.6v0.8h-0.6zM204.46 47.11h0.8v0.8h-0.8zM207.93 44.42h1.2v1.2h-1.2zM214.06 36.95h0.8v1.2h-0.8zM218.06 44.07h1v1.2h-1zM224.58 49.47h0.8v1.2h-0.8zM213.07 49.99h1v1h-1zM211.02 57.17h1.2v1.2h-1.2zM207.32 43.84h1v0.8h-1zM221.31 40.16h0.6v0.6h-0.6zM223.62 43.69h0.8v1h-0.8zM224.13 51.73h0.6v0.8h-0.6zM205.7 39.52h1v0.6h-1zM219.59 42.37h0.8v1.2h-0.8zM217.86 57.35h1.2v0.8h-1.2zM209.11 40.73h0.6v1h-0.6zM211.04 44.96h1.5v0.6h-1.5zM202.19 55.17h0.6v0.6h-0.6zM213.9 57.76h0.8v1.2h-0.8zM222.24 54.18h1.2v0.8h-1.2zM213.45 62.25h0.8v0.6h-0.8zM210.83 55.69h1.5v1.2h-1.5zM219.27 41.22h1v1.2h-1zM221.86 48.51h0.6v0.8h-0.6zM205.97 42.39h0.6v0.6h-0.6zM208.77 40.88h1v0.6h-1zM203.38 51.65h0.8v0.6h-0.8zM207.7 53.92h0.8v1h-0.8zM210.91 47.13h1v1.2h-1zM201.72 46.64h0.8v1h-0.8zM205.16 54.97h1.5v0.6h-1.5zM209.86 62.79h1.2v1.2h-1.2zM221.13 49.91h1.5v1h-1.5zM205.51 39.45h0.6v1h-0.6zM211.81 44.81h0.8v0.6h-0.8zM225.04 53.74h1.5v1.2h-1.5zM222.9 53.83h1v0.6h-1zM213.6 51.71h1.2v0.6h-1.2zM223.54 44.12h1.5v1.2h-1.5zM205.62 42.95h1.5v0.6h-1.5zM210.03 45.18h1.2v0.8h-1.2zM215.04 54.69h0.6v1.2h-0.6zM223.62 44.46h0.6v1h-0.6zM221.49 60.56h1v1h-1zM218.31 62.45h0.6v1h-0.6zM211.4 49.9h1.5v0.6h-1.5zM203.56 49.35h0.6v1.2h-0.6zM222.33 45.58h1.2v0.6h-1.2zM211.96 51.77h1.5v0.8h-1.5zM205.09 55.68h0.6v0.6h-0.6zM215.8 61.47h0.8v0.6h-0.8zM222.2 51.23h0.6v0.6h-0.6zM217.86 55.15h1.2v0.6h-1.2zM206.63 47.66h1.2v0.8h-1.2zM204.38 60.6h0.8v0.6h-0.8zM206.21 48.06h1.2v1.2h-1.2zM221.9 43.5h0.6v0.6h-0.6z" fill="#5250a2" opacity="0.72"/>
<circle cx="213.2" cy="50.7" r="13.9" fill="none" stroke="#5a58b0" stroke-width="0.9" opacity="0.55"/>
<circle cx="246" cy="50.7" r="15.3" fill="#fafafc"/>
<circle cx="246" cy="50.7" r="14.4" fill="#d0d0dc" stroke="#9c9cac" stroke-width="0.7"/>
<path d="M247.47 50.84h0.9v0.9h-0.9zM256.94 56.69h0.7v0.7h-0.7zM251.94 60.88h0.7v0.9h-0.7zM243.73 53.19h0.9v0.9h-0.9zM241.95 42.51h0.5v0.5h-0.5zM240.9 44.13h0.9v0.7h-0.9zM247.67 41.32h0.7v0.7h-0.7zM234.84 45.72h0.7v0.7h-0.7zM249.35 50.15h0.9v0.9h-0.9zM239.74 45.79h0.5v0.5h-0.5zM242.15 60.68h0.7v0.5h-0.7zM242.63 42.93h0.9v0.5h-0.9zM243.42 62.83h0.5v0.7h-0.5zM239.74 54.01h0.9v0.5h-0.9zM250.7 56.43h0.9v0.5h-0.9zM250.29 44.89h0.9v0.9h-0.9zM233.84 50.7h0.9v0.5h-0.9zM235.91 51.67h0.7v0.5h-0.7zM243.87 38.64h0.5v0.7h-0.5zM241.28 41.04h0.7v0.9h-0.7zM245.81 56.97h0.5v0.7h-0.5zM253.97 55.6h0.7v0.5h-0.7zM240.16 47.51h0.7v0.9h-0.7zM238.19 50.4h0.5v0.5h-0.5zM251.33 54.18h0.9v0.7h-0.9zM238.36 47.43h0.7v0.9h-0.7zM246.3 63.47h0.7v0.7h-0.7zM237.11 59.97h0.7v0.5h-0.7zM241.53 47.57h0.7v0.7h-0.7zM255.86 51.98h0.5v0.5h-0.5zM255.15 40.46h0.7v0.9h-0.7zM245.24 61.07h0.7v0.7h-0.7zM241.94 52.11h0.9v0.9h-0.9zM245.66 64.24h0.5v0.7h-0.5zM248.61 56.31h0.5v0.5h-0.5zM243.08 49.6h0.9v0.7h-0.9zM251.44 42.76h0.5v0.9h-0.5zM255.74 45.51h0.9v0.5h-0.9zM239.57 47.94h0.9v0.5h-0.9zM239.48 38.88h0.7v0.5h-0.7zM250.96 58.49h0.5v0.9h-0.5zM252.31 52.26h0.7v0.7h-0.7zM242.82 49.6h0.5v0.5h-0.5zM239.02 50.11h0.9v0.9h-0.9zM234.02 51.95h0.5v0.5h-0.5zM253.77 50.98h0.5v0.9h-0.5zM235.91 44.32h0.7v0.9h-0.7zM243.99 54.71h0.7v0.7h-0.7zM241.17 51.27h0.5v0.7h-0.5zM250.19 55.98h0.9v0.5h-0.9zM254.05 45.77h0.5v0.5h-0.5zM248.45 63.76h0.9v0.7h-0.9zM254.31 60.71h0.7v0.5h-0.7zM236.03 59.48h0.5v0.9h-0.5zM249.73 50.05h0.7v0.5h-0.7zM239.39 43.82h0.5v0.7h-0.5zM252.09 52.97h0.9v0.7h-0.9zM252.31 58.8h0.5v0.7h-0.5zM246.18 59.62h0.5v0.7h-0.5zM242.99 60.68h0.5v0.7h-0.5zM241.99 59.5h0.7v0.5h-0.7zM240.61 50.24h0.9v0.9h-0.9zM233.66 45.82h0.7v0.5h-0.7zM248.1 57.39h0.7v0.7h-0.7zM259.74 50.53h0.5v0.5h-0.5zM238.56 55.06h0.5v0.5h-0.5zM258.48 49.01h0.5v0.9h-0.5zM246.61 49.06h0.7v0.9h-0.7zM251.17 50.76h0.9v0.7h-0.9zM240.54 53.05h0.7v0.5h-0.7zM249.06 57.28h0.5v0.9h-0.5zM243.11 38.94h0.5v0.9h-0.5zM249.31 52.73h0.9v0.9h-0.9zM244.55 60.3h0.5v0.5h-0.5zM243.17 40.28h0.5v0.9h-0.5zM253.64 51.18h0.9v0.9h-0.9zM251.39 42.34h0.5v0.9h-0.5zM239.66 61.39h0.9v0.7h-0.9zM242.5 52.93h0.7v0.5h-0.7zM244.69 63.52h0.5v0.9h-0.5zM237.55 60.03h0.5v0.9h-0.5zM239.04 45.98h0.5v0.7h-0.5zM236.62 54.03h0.9v0.5h-0.9zM244.94 46.02h0.7v0.9h-0.7zM234.59 44.77h0.5v0.7h-0.5zM258.36 47.03h0.7v0.7h-0.7zM236.29 48.82h0.9v0.5h-0.9zM247.94 50.3h0.5v0.9h-0.5zM250.71 54.24h0.7v0.9h-0.7zM258.25 53.04h0.5v0.9h-0.5zM245.15 62.53h0.9v0.9h-0.9zM235.63 49.2h0.9v0.7h-0.9zM249.02 47.46h0.9v0.5h-0.9zM248.1 52.75h0.7v0.9h-0.7zM244.19 60.3h0.5v0.5h-0.5zM251.73 57.36h0.9v0.5h-0.9zM253.71 60.93h0.9v0.7h-0.9zM252.11 60.94h0.5v0.9h-0.5zM238.45 54.82h0.9v0.9h-0.9zM248.58 50.22h0.5v0.7h-0.5zM246.49 58.71h0.7v0.9h-0.7zM255.04 49.63h0.7v0.7h-0.7zM257.99 54.89h0.9v0.5h-0.9zM258.37 45.28h0.5v0.7h-0.5zM257.21 51.52h0.5v0.9h-0.5zM243.31 56.04h0.5v0.9h-0.5zM247.73 61.85h0.7v0.7h-0.7zM257.22 46.01h0.9v0.5h-0.9zM255.28 42.45h0.5v0.5h-0.5zM236.69 41.86h0.9v0.9h-0.9zM239.04 48.81h0.5v0.9h-0.5zM249.16 53.73h0.5v0.7h-0.5zM252.51 52.35h0.5v0.7h-0.5zM250.05 57.75h0.5v0.9h-0.5zM257.89 44.27h0.7v0.5h-0.7zM236.79 48.71h0.5v0.7h-0.5zM249.29 54.27h0.7v0.7h-0.7zM244.42 61.07h0.9v0.5h-0.9zM243.25 62.25h0.7v0.9h-0.7zM248.04 62.02h0.7v0.5h-0.7zM239.15 58.29h0.9v0.7h-0.9zM235.4 52.79h0.7v0.5h-0.7zM247.21 57.38h0.9v0.9h-0.9zM238.67 46.32h0.5v0.7h-0.5zM251.31 49.05h0.7v0.9h-0.7zM245.02 58.51h0.5v0.7h-0.5zM249.26 51.15h0.9v0.5h-0.9zM239.8 59.47h0.9v0.5h-0.9zM251.01 42.14h0.7v0.9h-0.7zM234.05 49.12h0.9v0.9h-0.9zM234.45 57.36h0.9v0.7h-0.9zM247.52 55.64h0.9v0.7h-0.9zM233.57 49.31h0.9v0.9h-0.9zM259.25 50.33h0.7v0.9h-0.7zM255.99 44.77h0.5v0.7h-0.5zM258.87 51.05h0.9v0.9h-0.9zM242.22 53.54h0.9v0.5h-0.9zM247.87 41.98h0.9v0.9h-0.9zM248.74 47.01h0.9v0.7h-0.9zM241.55 56.62h0.7v0.7h-0.7zM237.74 45.05h0.9v0.7h-0.9zM245.97 49.57h0.7v0.7h-0.7zM249.69 59.12h0.7v0.5h-0.7zM239.48 57.06h0.5v0.5h-0.5zM239.97 61.66h0.9v0.5h-0.9zM249.83 63.66h0.7v0.5h-0.7zM245.91 52.91h0.7v0.7h-0.7zM247.95 37.61h0.9v0.9h-0.9zM232.29 49.19h0.9v0.9h-0.9zM237.22 58.01h0.7v0.5h-0.7zM239.68 59.27h0.5v0.9h-0.5zM246.47 54.28h0.7v0.7h-0.7zM240.19 42.85h0.9v0.5h-0.9zM258.62 47.83h0.7v0.7h-0.7zM239.51 44.24h0.9v0.7h-0.9zM245.75 39.23h0.5v0.5h-0.5zM240.44 56.88h0.5v0.7h-0.5zM253.59 57.02h0.7v0.9h-0.7zM253.43 47.51h0.9v0.7h-0.9zM235.16 49.05h0.9v0.5h-0.9zM249.72 59.77h0.5v0.5h-0.5zM237.27 44.09h0.7v0.9h-0.7zM237 40.29h0.5v0.9h-0.5zM248.07 42.09h0.7v0.9h-0.7zM257.47 50.98h0.7v0.7h-0.7zM235.15 44.17h0.9v0.5h-0.9zM239.88 50.78h0.9v0.9h-0.9zM241.7 45.03h0.9v0.9h-0.9zM233.7 44.49h0.7v0.9h-0.7zM248.66 54.71h0.9v0.5h-0.9zM248.09 51.78h0.9v0.7h-0.9zM236.51 42.54h0.5v0.9h-0.5zM246.2 49.17h0.7v0.5h-0.7zM238.91 59.97h0.5v0.5h-0.5zM251.78 54.87h0.9v0.5h-0.9zM238.25 53.23h0.7v0.5h-0.7zM248.49 48.65h0.9v0.5h-0.9zM239.34 44.43h0.5v0.5h-0.5zM248.62 49.48h0.5v0.7h-0.5zM246.73 49.9h0.7v0.7h-0.7zM245.89 59.63h0.7v0.5h-0.7zM240.76 55.04h0.9v0.9h-0.9zM243.64 56.75h0.9v0.7h-0.9zM247.4 49.18h0.5v0.5h-0.5zM241.88 54.62h0.5v0.7h-0.5zM240.34 57.29h0.7v0.9h-0.7zM239.38 61.75h0.9v0.5h-0.9zM234.05 57.05h0.7v0.9h-0.7zM248.47 57.07h0.7v0.7h-0.7zM252.56 52.16h0.9v0.5h-0.9zM250.49 57.39h0.9v0.5h-0.9zM245.48 54.87h0.5v0.9h-0.5zM250.74 42.83h0.5v0.5h-0.5z" fill="#6c6aa4" opacity="0.55"/>
<circle cx="279" cy="50.7" r="15.3" fill="#fafafc"/>
<circle cx="279" cy="50.7" r="14.4" fill="#d4d4dc" stroke="#9c9cac" stroke-width="0.7"/>
<path d="M280.75 58.89h0.7v0.7h-0.7zM269.43 45.38h0.7v0.7h-0.7zM280.4 60.41h0.7v0.9h-0.7zM277.65 45.89h0.7v0.9h-0.7zM267.84 43.86h0.7v0.9h-0.7zM273.67 46.39h0.5v0.5h-0.5zM288.24 59.69h0.9v0.5h-0.9zM277.7 60.78h0.7v0.5h-0.7zM268.81 46.08h0.7v0.5h-0.7zM286.39 55.13h0.5v0.5h-0.5zM274.92 44.03h0.5v0.5h-0.5zM272.33 58.61h0.9v0.7h-0.9zM277.82 44.76h0.5v0.5h-0.5zM282.02 43.93h0.7v0.7h-0.7zM283.6 43.87h0.7v0.9h-0.7zM287.34 40.78h0.5v0.7h-0.5zM275.12 55.01h0.9v0.9h-0.9zM272.02 54.97h0.9v0.9h-0.9zM279.11 62.24h0.7v0.7h-0.7zM289.74 58.27h0.7v0.5h-0.7zM273.43 46.16h0.5v0.9h-0.5zM269.62 57.1h0.9v0.5h-0.9zM279.4 41.65h0.5v0.7h-0.5zM267.78 46.87h0.9v0.9h-0.9zM266.7 45.42h0.5v0.9h-0.5zM269.35 49.43h0.7v0.9h-0.7zM272.35 59.98h0.5v0.5h-0.5zM281.09 38.27h0.7v0.5h-0.7zM267.89 44.12h0.9v0.5h-0.9zM273.28 38.34h0.5v0.7h-0.5zM284.43 47.46h0.9v0.5h-0.9zM278.66 41.79h0.9v0.9h-0.9zM276.56 63.02h0.5v0.7h-0.5zM267.08 56.87h0.7v0.9h-0.7zM275.31 41.64h0.9v0.9h-0.9zM287.75 53.81h0.9v0.5h-0.9zM269.99 50.03h0.5v0.7h-0.5zM290.59 53.97h0.9v0.9h-0.9zM272.24 48.67h0.9v0.5h-0.9zM279.02 60.88h0.5v0.5h-0.5zM271.98 55.05h0.5v0.9h-0.5zM284.03 56.52h0.9v0.7h-0.9zM279.86 61.97h0.5v0.5h-0.5zM269.68 54.05h0.9v0.7h-0.9zM286.71 59.27h0.9v0.5h-0.9zM279.61 61.26h0.9v0.5h-0.9zM279.67 40.5h0.5v0.9h-0.5zM269.83 44.15h0.7v0.7h-0.7zM288.46 58.99h0.7v0.5h-0.7zM281.24 58.68h0.5v0.7h-0.5zM284.84 55.57h0.7v0.7h-0.7zM286.16 62.19h0.7v0.7h-0.7zM276.44 60.79h0.9v0.5h-0.9zM276.11 51.28h0.7v0.5h-0.7zM273.14 61.09h0.9v0.9h-0.9zM274.65 45.09h0.7v0.7h-0.7zM273.21 49.09h0.5v0.7h-0.5zM270.86 40.27h0.9v0.9h-0.9zM271.33 39.78h0.7v0.9h-0.7zM283.41 55.94h0.5v0.5h-0.5zM285.48 40.43h0.7v0.7h-0.7zM275.15 46.16h0.9v0.5h-0.9zM278.14 46.37h0.7v0.9h-0.7zM271.13 58.15h0.9v0.7h-0.9zM273.71 56.44h0.9v0.7h-0.9zM278.72 63.33h0.5v0.5h-0.5zM280.47 46.43h0.9v0.7h-0.9zM291.35 46.25h0.7v0.7h-0.7zM284.36 58.85h0.7v0.9h-0.7zM288.21 55.78h0.9v0.5h-0.9zM273.77 52.65h0.7v0.5h-0.7zM287.07 39.69h0.7v0.5h-0.7zM274.51 55.33h0.5v0.9h-0.5zM281.93 38.28h0.7v0.5h-0.7zM275.13 44.46h0.9v0.9h-0.9zM274.26 58.3h0.7v0.5h-0.7zM284.18 40.7h0.9v0.5h-0.9zM287.49 50.92h0.9v0.9h-0.9zM281.74 58.37h0.5v0.9h-0.5zM271.39 52.63h0.9v0.9h-0.9zM291.67 48.64h0.9v0.9h-0.9zM280.44 47.04h0.9v0.9h-0.9zM274.68 44.03h0.9v0.9h-0.9zM272.93 57.28h0.9v0.9h-0.9zM282.38 46.88h0.9v0.9h-0.9zM279.86 52.83h0.9v0.9h-0.9zM286.94 55.41h0.9v0.9h-0.9zM271.64 46.61h0.7v0.7h-0.7zM269.78 46.72h0.7v0.7h-0.7zM280.97 54.93h0.5v0.9h-0.5zM281.15 62.46h0.7v0.9h-0.7zM274.83 49.88h0.7v0.9h-0.7zM269.9 47.49h0.5v0.9h-0.5zM286.92 57.51h0.9v0.9h-0.9zM285.19 42.35h0.9v0.5h-0.9zM287.21 59.92h0.9v0.9h-0.9zM284.19 42.35h0.5v0.9h-0.5zM276.56 37.18h0.5v0.7h-0.5zM269.21 58.59h0.5v0.5h-0.5zM280.62 40.47h0.5v0.7h-0.5zM290.37 55h0.5v0.5h-0.5zM287.38 51.5h0.9v0.5h-0.9zM285.8 57.13h0.5v0.7h-0.5zM290.21 57.59h0.5v0.9h-0.5zM278.36 46.07h0.7v0.5h-0.7zM283.54 43.68h0.9v0.9h-0.9zM278.95 52.19h0.5v0.7h-0.5zM269.23 49.17h0.7v0.9h-0.7zM282.92 41.88h0.7v0.5h-0.7zM275.15 57.98h0.9v0.5h-0.9zM281.16 49.34h0.5v0.7h-0.5zM276.17 42.99h0.5v0.9h-0.5zM281.34 41.85h0.7v0.5h-0.7zM278.8 54.44h0.5v0.9h-0.5zM288.34 41.21h0.9v0.7h-0.9zM268.27 44.05h0.7v0.9h-0.7zM279.99 36.95h0.7v0.7h-0.7zM278.11 52.06h0.5v0.7h-0.5zM285.83 43.7h0.5v0.5h-0.5zM281.45 45.34h0.9v0.9h-0.9zM270.45 52.01h0.5v0.9h-0.5zM269.05 58.57h0.9v0.9h-0.9zM277.18 54.04h0.5v0.7h-0.5zM267.95 43.76h0.5v0.5h-0.5zM275.35 55.06h0.7v0.7h-0.7zM271.01 57.49h0.7v0.7h-0.7zM278.06 50.19h0.7v0.5h-0.7zM277.09 51.2h0.9v0.5h-0.9zM277.42 39.85h0.5v0.7h-0.5z" fill="#6c6aa4" opacity="0.55"/>
<rect x="198.2" y="71.4" width="96.2" height="32.6" fill="#e3e3e7" stroke="#161616" stroke-width="2"/>
<text x="191.3" y="87.1" font-size="9.3" stroke="#000" stroke-width="0.25" text-anchor="middle" transform="rotate(-90 191.3 87.1)">Ceri</text>
<circle cx="213.2" cy="87.7" r="15.3" fill="#fafafc"/>
<circle cx="213.2" cy="87.7" r="14.4" fill="#cbcbde" stroke="#9c9cac" stroke-width="0.7"/>
<path d="M221.08 91.02h1v1h-1zM202.95 85.87h0.8v0.6h-0.8zM224.01 80.12h0.6v0.8h-0.6zM205.06 78.69h0.6v1h-0.6zM216.48 75.87h0.8v0.8h-0.8zM209.41 98.44h1v1h-1zM206.7 80.31h1v1.2h-1zM210.94 80.05h1v1.2h-1zM220.91 81.66h0.8v1h-0.8zM214.68 92.85h1.2v1.2h-1.2zM204.83 83.84h1v0.8h-1zM219.74 96h1v1h-1zM202.04 83.98h1v0.6h-1zM201.73 81.08h0.6v0.8h-0.6zM208.59 93.76h1.2v1h-1.2zM208.22 75.05h0.6v1.2h-0.6zM216.73 94.65h1v0.6h-1zM204.78 79.12h0.8v0.6h-0.8zM207.99 91.5h0.8v1h-0.8zM205.54 77.41h0.8v0.8h-0.8zM224.71 84.99h1.5v0.6h-1.5zM214.62 84.08h1.5v1h-1.5zM224.9 88.07h1v0.6h-1zM222.97 82.56h0.8v1h-0.8zM213.17 79.81h1.2v1.2h-1.2zM216.55 77.46h0.8v0.6h-0.8zM216.87 75.42h0.6v1h-0.6zM225.32 86.77h1.2v1h-1.2zM222.56 78.14h0.6v1h-0.6zM223.53 86.89h0.6v1.2h-0.6zM211.45 77.03h1v0.8h-1zM215.55 91.21h0.8v0.6h-0.8zM207.87 94h1v0.8h-1zM204.21 81.03h1v0.8h-1zM212.62 99.57h1.2v0.6h-1.2zM208.78 99.02h1.5v1.2h-1.5zM206.55 95.6h1.5v1h-1.5zM218.2 87.98h1.2v0.6h-1.2zM214.89 76.66h1v0.8h-1zM215.08 101.3h0.6v0.6h-0.6zM221.05 95.28h1.5v0.8h-1.5zM217.47 97.05h1.5v1h-1.5zM222.91 80.91h0.8v0.6h-0.8zM211.15 79.79h1.2v1.2h-1.2zM218.63 84.37h1.2v1.2h-1.2zM214.77 81.54h0.6v0.6h-0.6zM224.36 88.79h1.2v1h-1.2zM210.09 86.37h1.2v1.2h-1.2zM203.84 78.09h0.8v0.6h-0.8zM212.66 94.61h1.2v0.8h-1.2zM215.12 94.05h1.2v1h-1.2zM220.73 87.43h0.8v0.8h-0.8zM221.92 83.85h1v0.8h-1zM210.66 99.96h1v0.6h-1zM220.65 81.62h0.8v1h-0.8zM203.87 81.14h1.2v0.8h-1.2zM220.98 80.65h0.8v1h-0.8zM213.64 84.77h1.2v0.8h-1.2zM219.01 94.7h1v0.6h-1zM220.36 97.8h0.6v0.8h-0.6zM220.89 98.4h1v0.6h-1zM201.54 90.35h1.2v0.6h-1.2zM207.63 80.78h1.2v1h-1.2zM226.57 90.5h0.8v0.8h-0.8zM208.64 76.3h0.6v0.8h-0.6zM214.33 97.44h1.2v0.6h-1.2zM224.44 91.22h1v0.6h-1zM222.6 96.58h1.2v0.8h-1.2zM223.2 87.86h0.8v0.8h-0.8zM202.66 84.6h0.6v1h-0.6zM225.39 84.34h0.6v1h-0.6zM221.41 76.86h0.8v0.6h-0.8zM216.38 94.17h1v1h-1zM216.69 88.67h1.5v0.6h-1.5zM204.94 84.63h1v1h-1zM212.66 86.39h1.2v1h-1.2zM209.45 78.19h1v1.2h-1zM204.52 85.47h1.2v0.8h-1.2zM206.74 93.36h1.2v0.8h-1.2zM204.55 77.89h0.8v1h-0.8zM211.76 76.3h0.8v0.8h-0.8zM222.81 93.53h1.5v0.6h-1.5zM225.72 91.73h1.5v1h-1.5zM202.52 91.74h1v1.2h-1zM226.8 87.78h1.2v1h-1.2zM223.81 87.35h0.8v1.2h-0.8zM220.77 90.92h1.5v1h-1.5zM208.43 78.01h1v0.6h-1zM202.65 84.77h0.8v1h-0.8zM217.03 81.76h1v1.2h-1zM223.63 87.66h0.6v1h-0.6zM203.36 85.98h1v0.8h-1zM219.72 96.97h1.2v0.8h-1.2zM218.36 77.94h0.6v1h-0.6zM217.4 80.29h1.2v0.6h-1.2zM210.61 79.25h1.2v0.6h-1.2zM208.87 80.58h1.5v1h-1.5zM221.1 92.58h1.2v1h-1.2zM208.53 74.74h1.2v1.2h-1.2zM218.59 98.19h1.5v0.8h-1.5zM213.92 88.48h1.2v0.8h-1.2zM202.43 86.11h1.2v1h-1.2zM213.76 89.45h1.5v1h-1.5zM214.64 90.69h1.5v1h-1.5zM212.73 100.91h1v1.2h-1zM210.46 84.55h0.6v0.8h-0.6zM217.97 86.42h1v1h-1zM210.51 74.74h1.2v1h-1.2zM213.25 84.88h1.2v1.2h-1.2zM217.34 77.39h1v0.8h-1zM205.66 83.63h1.5v0.8h-1.5zM221.34 76.75h1.5v1h-1.5zM214.21 91.02h0.6v0.6h-0.6zM204.48 95.95h1.5v1.2h-1.5zM221.11 82.05h0.6v0.6h-0.6zM202.87 90.18h1.2v1.2h-1.2zM204.43 89.17h0.6v1.2h-0.6zM218.94 94.24h0.6v0.8h-0.6zM203.52 94.58h0.6v1h-0.6zM214.44 77.5h1.2v0.6h-1.2zM215.59 84.32h1.5v0.6h-1.5zM216.94 90.02h0.8v1.2h-0.8zM211.84 84.76h1v1.2h-1zM201.02 83.71h1.2v0.8h-1.2zM218.82 75.11h0.8v1h-0.8zM205.27 86.79h0.6v0.8h-0.6zM211.08 101.26h1v0.6h-1zM212.96 95.42h1v1.2h-1zM204.55 92.44h0.6v1h-0.6zM218.3 82.04h1.2v1h-1.2zM218.36 93.31h0.8v1h-0.8zM205.8 76.62h1.5v0.8h-1.5zM215.85 79.79h0.8v1.2h-0.8zM200.78 83.13h0.6v1h-0.6zM214.36 88.22h1.5v1h-1.5zM213.69 90.25h1.2v1h-1.2zM214.76 93.68h1.5v1.2h-1.5zM211.98 78.99h0.8v0.8h-0.8zM210.17 89.04h0.6v0.6h-0.6zM216.92 84.2h1.5v1.2h-1.5zM218.37 84.96h1.5v0.8h-1.5zM208.72 79.05h1v0.8h-1zM218.66 96.18h0.8v0.6h-0.8zM216.02 96.69h0.6v0.6h-0.6zM208.39 80.23h1v1.2h-1zM219.63 97.15h0.6v0.8h-0.6zM214.65 85.28h1v0.8h-1zM216.97 75.36h1.5v0.8h-1.5zM212.81 95.37h1.5v0.8h-1.5zM214.84 82.58h0.8v1.2h-0.8zM206.82 99.73h0.8v1h-0.8zM206.95 85.85h0.6v0.8h-0.6zM211.92 78.38h1.2v1h-1.2zM221.76 95.19h1v0.6h-1zM215.95 98.55h1.5v0.6h-1.5zM208.9 93.78h1.2v0.6h-1.2zM212.04 93.77h1v0.6h-1zM207.11 88.84h0.8v1h-0.8zM211.18 86.26h0.6v1h-0.6zM216.71 92.67h1v0.6h-1zM209.83 92.33h1.2v0.8h-1.2zM208 93.67h0.6v1h-0.6zM211.16 75.46h1.2v0.6h-1.2zM222.25 95.47h0.8v1.2h-0.8zM222.36 89.67h1.5v0.6h-1.5zM210.27 79.33h1.2v1h-1.2zM212.67 83.93h0.8v1h-0.8zM218.51 85.66h1v0.6h-1zM222.07 78.66h1.2v1h-1.2zM217.62 90.67h0.8v0.6h-0.8zM212.51 93.05h1.5v0.6h-1.5zM213.4 95.56h1.5v0.6h-1.5zM206.62 94.99h0.8v1h-0.8zM215.73 96.1h0.8v0.8h-0.8zM201.72 85.15h0.8v0.6h-0.8zM214.79 87.11h1.2v0.8h-1.2zM214.69 99.06h0.8v0.8h-0.8zM225.86 87.55h1.2v1.2h-1.2zM221.62 94.63h1.5v0.6h-1.5zM209.67 85.8h0.8v0.8h-0.8zM215.46 77.29h0.6v0.8h-0.6zM211.26 90.88h0.6v0.6h-0.6zM214.12 81.37h0.8v1h-0.8zM216.2 80.21h1.2v0.8h-1.2zM214.53 87.18h1.2v1.2h-1.2zM213.8 85.29h0.8v0.8h-0.8zM210.2 92.15h0.8v0.8h-0.8zM214.36 93.73h1v0.6h-1zM216.76 74.39h1.2v0.6h-1.2zM214.98 78.13h0.6v0.6h-0.6zM208.85 83.34h1v1.2h-1zM212.35 83.59h1v0.8h-1zM200.84 88.28h1.2v0.8h-1.2zM210.76 81.11h1v0.6h-1zM219.1 77.35h1.5v0.8h-1.5zM217.34 79.59h1.5v1h-1.5zM203.27 81.08h0.6v0.6h-0.6zM216.37 74.49h1v0.8h-1zM207.44 84.16h1.5v0.8h-1.5zM201.68 81.83h0.6v1.2h-0.6zM204.33 94.6h1v1.2h-1zM220.71 92.28h1v1.2h-1zM225.48 88.05h1.2v0.6h-1.2zM222.91 78.38h1.2v1.2h-1.2zM210.5 96.12h0.8v1h-0.8zM222.03 92.78h1.2v1.2h-1.2zM210.36 98.18h0.6v1h-0.6zM217.79 83.88h1.2v0.8h-1.2zM211.24 83.32h0.6v1.2h-0.6zM218.24 99.16h1v1h-1zM204.44 97.98h0.8v1h-0.8zM203.18 79.39h1.2v1h-1.2zM222.58 85.02h1.5v0.8h-1.5zM225.72 85.17h1.2v0.6h-1.2zM213.32 87.93h0.8v1.2h-0.8zM207.48 79.04h1v0.6h-1zM211.87 74.07h1.5v1.2h-1.5zM213.31 82.63h1v1.2h-1zM210.5 85.03h1.2v1h-1.2zM204.47 98.01h1.2v0.6h-1.2zM200.06 87.86h1v0.6h-1zM214.87 84.86h0.6v1.2h-0.6zM213.26 78.47h0.8v1.2h-0.8zM212.02 90h0.8v0.6h-0.8zM223.66 79.21h0.8v0.8h-0.8zM203.83 82.79h0.6v1.2h-0.6zM208.34 84.63h1v0.8h-1zM206.04 85.65h1.2v1.2h-1.2zM216.96 77.24h1.2v1.2h-1.2zM209.81 74.59h1v1h-1zM208.26 85.17h0.6v1h-0.6zM217.17 100.13h0.6v0.8h-0.6zM205.6 86.72h1v0.6h-1zM223.61 85.81h1v0.8h-1zM218.78 83.15h1.2v0.8h-1.2zM222.98 82.95h1.2v0.6h-1.2zM205.84 96.4h1v1.2h-1zM201.09 89.81h0.6v0.8h-0.6zM203.68 78.45h1.5v1.2h-1.5zM215.17 76.86h1v0.6h-1zM213.44 82.32h1.2v1.2h-1.2zM211.3 99.52h1v1.2h-1zM210.8 97.45h0.6v1h-0.6zM222.43 88.38h1.5v1h-1.5zM220.83 84.68h1v0.8h-1zM222.42 78.55h0.6v1.2h-0.6zM210.2 75.46h1v0.8h-1zM224.05 85.44h0.6v1.2h-0.6zM221.27 84.53h1v1.2h-1zM216.17 79.58h1v0.8h-1zM220.43 96.83h1.5v1.2h-1.5zM222.4 81.15h0.8v0.8h-0.8zM220.55 90.93h1.2v0.6h-1.2zM219.04 79.86h0.8v1.2h-0.8zM205.36 83.78h1v0.8h-1zM210.66 82.97h0.8v0.6h-0.8zM223.72 79.93h1.2v1h-1.2zM211.78 82.91h1.2v1h-1.2zM214.77 76.16h1.5v1h-1.5zM222.05 81.59h1v0.6h-1zM205.69 84.22h0.6v1h-0.6zM211.11 87.47h0.6v1h-0.6zM206.98 89.39h0.8v1.2h-0.8zM219.94 90.33h1.2v0.6h-1.2zM214.48 85.27h0.6v1.2h-0.6zM208.71 82.95h1v1h-1zM214.44 97.68h1.5v0.8h-1.5zM220.43 86.5h1.5v0.6h-1.5zM216.23 93.47h1.5v1h-1.5zM221.49 91.17h1v0.6h-1zM204.66 93.9h1.5v1.2h-1.5zM217.62 82.85h0.6v1h-0.6zM206.72 99.58h1v0.6h-1zM203.37 82.64h1.2v1.2h-1.2zM223.13 78.42h1.5v1.2h-1.5zM208.7 83.69h0.6v1.2h-0.6zM213.54 82.09h0.6v0.6h-0.6zM216.15 96.35h0.8v1h-0.8zM213.42 81.51h1v0.6h-1zM210.93 74.66h0.6v0.6h-0.6zM206.06 91.75h1.5v1h-1.5zM206.03 80.3h1.5v1h-1.5zM208.48 100.61h0.6v0.8h-0.6zM203.11 93.16h0.6v1.2h-0.6zM206.51 97.82h0.8v1h-0.8zM201.23 89.89h0.6v1h-0.6zM201.03 89.53h0.8v0.6h-0.8zM213.12 97.73h1.2v0.8h-1.2zM208.64 80.87h0.8v1h-0.8zM226.52 86.06h1.2v1.2h-1.2zM217.6 84.34h1.2v0.8h-1.2zM217.13 91h1.5v1.2h-1.5zM214.09 85.59h0.6v1.2h-0.6zM216.68 99.38h1.5v0.6h-1.5zM206.45 98.56h1.5v1.2h-1.5zM207.05 80.32h0.8v0.6h-0.8zM218.85 83.9h1.2v0.6h-1.2zM216.31 84.69h0.8v1.2h-0.8zM205.19 82.93h1.2v0.6h-1.2zM211.2 77.47h1.2v0.8h-1.2zM209.13 79.97h0.8v1.2h-0.8zM201.9 89.73h0.8v0.6h-0.8zM202.51 80.03h0.6v0.8h-0.6zM222.67 79.79h0.6v1.2h-0.6zM212.89 77.32h0.8v0.6h-0.8zM218.89 83.99h0.8v0.6h-0.8zM215.77 88.51h0.8v0.8h-0.8zM224.89 91.03h1.5v1.2h-1.5zM217.24 93.51h0.6v1.2h-0.6zM222.74 94.99h0.6v0.8h-0.6zM208.06 86.75h1.5v1h-1.5zM214.23 83.33h1.2v0.6h-1.2zM216.84 88.39h0.6v0.6h-0.6zM207.08 77.85h1.5v1h-1.5zM208.74 79.5h1.5v0.8h-1.5zM214.23 85.82h1.2v0.8h-1.2zM210.37 83.8h0.8v1.2h-0.8zM202.8 78.8h0.6v1h-0.6zM222.87 93.66h0.8v0.6h-0.8zM212.58 91.79h1v1h-1zM209.04 84.41h1v0.8h-1zM214.22 88.22h0.6v0.8h-0.6zM203.63 90.44h1.2v0.8h-1.2zM211.77 74.57h0.6v0.6h-0.6zM210.58 75.35h0.6v0.8h-0.6zM201.66 93.06h0.6v0.8h-0.6zM210.28 98.15h1v0.8h-1zM211.03 94.29h1v0.6h-1zM219.71 92.11h1.2v0.8h-1.2zM205.45 76.44h1.2v1h-1.2zM213.21 94.93h1.2v0.6h-1.2zM205.45 85.5h1v1h-1zM213.28 87.13h0.8v1h-0.8zM201.15 85.24h0.6v0.6h-0.6zM208.32 99.25h1v1h-1zM215.72 90.12h1.2v0.8h-1.2zM219.19 89.79h1.5v0.8h-1.5zM202.03 95.04h1.5v0.6h-1.5zM215.41 98.58h0.6v1h-0.6zM219.87 93.83h0.8v1.2h-0.8zM218.62 97.06h1v1.2h-1zM212.89 94.57h0.6v0.6h-0.6zM216.11 98.8h1v0.8h-1zM204.07 81.25h1.2v1h-1.2zM212.71 83.88h1.5v0.6h-1.5zM216.54 89.39h1.5v0.6h-1.5zM206.21 78.28h1.5v1h-1.5zM200.61 91.79h0.6v1h-0.6zM206.81 91.81h0.8v1.2h-0.8zM223.09 78.18h1.2v1h-1.2zM215.34 95.24h1.2v0.8h-1.2zM214.35 92.06h1v1h-1zM220.46 88.15h0.8v0.6h-0.8zM220.37 98.7h1.5v1h-1.5zM217.94 97.87h0.8v1.2h-0.8zM217.47 87.23h1.2v1h-1.2zM203.1 82.98h0.8v0.6h-0.8zM216.7 88.03h0.8v1h-0.8zM211.78 79.5h0.8v1h-0.8zM213.07 99.95h1v0.8h-1zM220.83 94.13h0.8v0.8h-0.8zM207.8 92.72h0.6v0.8h-0.6zM221.61 80.44h1.2v1h-1.2zM218.5 83.48h1v0.6h-1zM211.6 85.04h1v0.8h-1zM205.98 88.96h1.2v0.6h-1.2zM208.9 86.14h1.2v0.6h-1.2zM204.46 88.53h0.8v0.8h-0.8zM221.56 91.05h0.8v0.6h-0.8zM206.52 90.16h0.8v1h-0.8zM222.46 92.16h0.8v1.2h-0.8zM202.21 83.12h1.2v0.6h-1.2zM210.13 89.1h0.6v0.8h-0.6zM203.26 87.04h1v0.8h-1zM208.85 88.32h1.2v1.2h-1.2zM221.47 96.7h1.2v1h-1.2zM212.37 91.94h1v0.6h-1zM217.95 87.23h1.2v1h-1.2zM219.04 88.1h1.5v0.6h-1.5zM208.93 77.49h0.6v0.8h-0.6zM206.99 77.28h0.8v1h-0.8zM214.94 82.74h1v0.6h-1zM204.59 97.14h0.8v0.8h-0.8zM211.53 88.15h0.6v1.2h-0.6zM219.47 89.14h1.2v0.8h-1.2zM208.96 99.61h1v0.8h-1zM202.28 95.43h0.8v0.6h-0.8zM204.96 88.52h0.6v1.2h-0.6zM218.3 80.98h1.2v0.8h-1.2zM215.48 98.34h1.2v0.8h-1.2zM214.84 80.2h1v0.8h-1zM213.7 74.08h0.6v1.2h-0.6zM208.23 90.72h0.6v1h-0.6zM214.08 99.78h0.6v0.8h-0.6zM212.67 98.44h1.2v1.2h-1.2zM210.74 77.65h0.8v1h-0.8zM218.12 92.35h1.2v0.8h-1.2zM226.37 87.57h0.8v1h-0.8zM225.37 92.25h0.8v1.2h-0.8zM208.35 84.81h1.2v1.2h-1.2zM206.92 84.74h0.8v0.8h-0.8zM211.6 101.1h1.2v0.6h-1.2zM215.9 86.1h0.6v0.6h-0.6zM225.05 93.33h0.8v0.8h-0.8zM204.41 86.06h1v0.6h-1zM203.98 87.72h1.5v1h-1.5zM225.92 84.64h0.8v1.2h-0.8zM216.24 85.42h1.5v1.2h-1.5zM211.11 82.21h1v0.8h-1zM221.73 85.3h1v0.6h-1zM224.02 91.76h1.2v0.8h-1.2zM216.67 76.93h0.6v1.2h-0.6zM209.04 79.14h0.8v1.2h-0.8zM216.2 74.53h0.8v1.2h-0.8zM217.25 86.95h1.5v1.2h-1.5zM219.02 94.22h0.8v1h-0.8zM205.68 96.83h1.2v1h-1.2zM214.05 92.56h0.8v1h-0.8zM208.57 87.41h1.2v1.2h-1.2zM202.31 89.81h1.2v1h-1.2zM206.74 95.95h1.2v1h-1.2zM207.46 88.36h0.6v0.8h-0.6zM219.62 93.52h1v0.8h-1zM210.13 77.15h0.8v1h-0.8zM209.41 99.17h1v0.8h-1zM203.13 80.28h1.5v0.6h-1.5zM219.32 88.28h1.5v1.2h-1.5zM211.55 99.34h0.6v0.6h-0.6zM224.04 94.18h0.8v0.6h-0.8zM215.83 92.82h0.8v0.6h-0.8z" fill="#5250a2" opacity="0.72"/>
<circle cx="213.2" cy="87.7" r="13.9" fill="none" stroke="#5a58b0" stroke-width="0.9" opacity="0.55"/>
<circle cx="246" cy="87.7" r="15.3" fill="#fafafc"/>
<circle cx="246" cy="87.7" r="14.4" fill="#cbcbde" stroke="#9c9cac" stroke-width="0.7"/>
<path d="M247.85 88.76h0.6v0.8h-0.6zM243.28 92.27h1.5v1h-1.5zM239.22 91.57h1.2v1h-1.2zM253.15 84.18h1v0.8h-1zM252.55 90.46h0.6v1h-0.6zM249.39 84.01h1v1h-1zM252.18 95.27h1.5v0.6h-1.5zM252.34 77.56h1.2v1.2h-1.2zM253.46 88.48h1v0.6h-1zM256.26 94.6h1.5v0.8h-1.5zM244.42 81.88h1.2v0.8h-1.2zM250.93 77.99h1.2v1.2h-1.2zM247.81 92.5h1.5v0.8h-1.5zM242.98 84.32h0.8v1h-0.8zM236.32 86.36h1v0.6h-1zM245.61 85.31h0.8v1h-0.8zM244.73 81.48h1.2v0.8h-1.2zM249.68 100.28h1v1h-1zM250.62 89.6h1.2v1h-1.2zM243.36 75.43h1v1.2h-1zM244.6 80.08h0.6v1h-0.6zM249.93 88.95h1.5v0.8h-1.5zM250.88 85.47h0.8v1.2h-0.8zM244.97 89.87h1.5v1h-1.5zM234.7 89.38h1v0.6h-1zM250.07 89.62h1.2v1.2h-1.2zM245.84 97.29h1.5v0.8h-1.5zM251.55 80.29h1.2v1h-1.2zM247.88 77.78h1v0.6h-1zM241.7 88.93h1v0.8h-1zM248.65 87.38h1.5v0.8h-1.5zM244.6 84.52h0.6v1h-0.6zM252.71 78.75h1v1.2h-1zM252.11 95.56h0.6v0.6h-0.6zM248.08 86.38h0.8v0.6h-0.8zM241.35 98.27h1.5v1.2h-1.5zM248.62 92.73h1.2v1h-1.2zM252.44 82.45h1.2v0.6h-1.2zM249.91 86.23h1.2v1.2h-1.2zM248.61 93.73h1v1.2h-1zM248.58 95.96h0.8v0.8h-0.8zM232.82 88.44h1.5v1h-1.5zM258.17 89.84h1.5v1.2h-1.5zM241.81 75.98h1.5v1h-1.5zM245 80.04h1v0.8h-1zM256.51 91.59h0.6v0.8h-0.6zM256.44 88.38h1v0.6h-1zM258.5 83.81h1v0.8h-1zM251.33 76.16h1v1h-1zM240.41 82.59h1.2v1.2h-1.2zM252.88 85.11h0.6v1.2h-0.6zM247.48 75.79h1.5v0.8h-1.5zM238.31 77.88h0.6v0.8h-0.6zM250.62 76.64h1v1h-1zM250.55 80.5h0.8v0.8h-0.8zM240.77 96.38h0.6v1h-0.6zM252.1 99.25h1v0.8h-1zM258.26 84.11h1.5v0.6h-1.5zM252.76 77.43h1.2v1h-1.2zM236.81 89.95h0.8v1h-0.8zM253.63 90.95h0.6v1h-0.6zM256.66 80.26h0.6v0.8h-0.6zM239.71 82.15h1.2v0.6h-1.2zM240.03 89.15h1.2v1h-1.2zM257.85 84.18h1v1.2h-1zM241.62 94.14h1v1h-1zM254.22 94.15h1.5v0.6h-1.5zM237.69 92.51h0.8v0.8h-0.8zM239.93 86.03h0.6v0.6h-0.6zM237.5 83.75h0.6v0.8h-0.6zM253.56 92.66h1.5v1h-1.5zM249.02 75.57h1v0.6h-1zM245.79 81.2h0.6v0.8h-0.6zM253.81 84.73h1.2v0.8h-1.2zM243.88 79.46h1.2v0.8h-1.2zM253.88 87.28h1.5v0.8h-1.5zM246.13 78.03h0.6v0.8h-0.6zM238.27 95.14h1.5v0.8h-1.5zM250.99 84.54h1.5v0.6h-1.5zM237.7 97.52h0.6v0.8h-0.6zM253.98 82h0.8v1.2h-0.8zM233.61 82.8h0.8v0.8h-0.8zM249.61 77.35h1.2v0.8h-1.2zM245.39 98.39h1v0.8h-1zM237.08 86.96h1.2v0.6h-1.2zM250.19 87.85h1v0.8h-1zM246.97 99.6h1v0.8h-1zM250.48 96.55h1.5v0.8h-1.5zM249.9 100.23h1.5v0.6h-1.5zM243.18 76.09h0.8v1h-0.8zM234.78 93.47h1.5v0.6h-1.5zM255.64 87.81h0.6v0.6h-0.6zM233.82 82.94h1.2v0.8h-1.2zM249.69 94.58h0.8v1h-0.8zM244.44 79.02h0.8v0.8h-0.8zM241.32 90.67h1.5v1.2h-1.5zM249.99 94.16h0.8v1.2h-0.8zM247.41 91.47h1v0.6h-1zM249.97 96.66h1.2v1.2h-1.2zM235.87 81.09h1.2v1h-1.2zM249.04 96.67h1.5v0.8h-1.5zM247.05 97.4h1v1.2h-1zM234.85 95.44h1v1.2h-1zM243.77 80.02h1.2v0.8h-1.2zM250.77 79.59h1.5v0.6h-1.5zM246.6 84.95h1.2v1h-1.2zM243.69 78.13h1.2v1.2h-1.2zM252.02 96.74h0.6v0.8h-0.6zM241.22 77.88h1.2v1h-1.2zM241.32 78.19h1v0.8h-1zM237.63 93.58h0.8v1h-0.8zM249.75 84.89h0.6v1h-0.6zM234.45 92.2h1v1h-1zM255.89 88.94h1.5v1h-1.5zM235.08 89.29h1v1h-1zM239.36 82.26h1v0.6h-1zM239.61 93.15h1v0.6h-1zM242.41 94h1.2v0.8h-1.2zM236.41 97.02h0.6v0.8h-0.6zM245.47 81.4h0.8v0.8h-0.8zM247.48 95.25h1.2v1h-1.2zM250.74 86.83h0.6v0.8h-0.6zM255.04 82.88h0.6v0.8h-0.6zM249.19 96.21h1.2v1.2h-1.2zM239.84 81.18h0.8v0.8h-0.8zM259.25 90.93h0.6v0.8h-0.6zM250.82 88.36h0.8v0.6h-0.8zM253.35 93.56h0.8v1h-0.8zM257.11 85.55h1v0.6h-1zM233.49 93.17h1.2v1.2h-1.2zM246.76 94.6h0.6v0.8h-0.6zM250.39 84.2h1v0.6h-1zM239.37 81.3h0.6v1.2h-0.6zM253.63 80.92h0.6v1.2h-0.6zM255.05 89.02h1v1.2h-1zM251.93 95.59h0.6v0.8h-0.6zM242.33 78.69h0.8v0.6h-0.8zM254.64 83.15h1.5v0.6h-1.5zM237.8 97.37h0.8v1.2h-0.8zM236.1 94.09h1.2v0.8h-1.2zM240.46 93.13h1v0.8h-1zM248.91 75.77h0.6v1h-0.6zM246.37 79.92h1v1h-1zM249.44 83.42h1.2v1h-1.2zM258.75 86.8h1.2v0.6h-1.2zM246.37 82.38h1.5v1.2h-1.5zM234.75 80.9h1.2v0.6h-1.2zM246.69 83.68h0.6v1.2h-0.6zM251.48 92.45h1.2v1.2h-1.2zM250.74 75.63h0.6v1.2h-0.6zM255.09 94.1h1.2v1h-1.2zM242.38 82.43h1v1h-1zM239.75 87.39h1.5v1.2h-1.5zM241.73 76.38h1v1.2h-1zM241.43 97.78h1.2v0.6h-1.2zM247.53 85.15h1v0.6h-1zM253.08 79.67h0.8v1h-0.8zM238.14 95.41h0.8v1h-0.8zM258.19 90.28h1.2v0.6h-1.2zM248.42 84.43h0.6v0.8h-0.6zM236.77 89.52h0.6v1h-0.6zM253.37 84.39h0.8v0.8h-0.8zM246.54 76.63h0.8v1h-0.8zM250.13 94.56h0.8v1.2h-0.8zM248.09 100.31h1v0.6h-1zM251.4 84.1h1.5v1h-1.5zM247.8 74.22h1.2v1.2h-1.2zM240.5 90.89h1.2v1h-1.2zM245.62 76.31h0.8v1.2h-0.8zM236.6 85.91h0.8v1h-0.8zM243.77 82.64h1.5v1h-1.5zM250.34 95.34h0.8v1.2h-0.8zM254.64 83.85h1.5v1h-1.5zM241.66 87.77h1.5v1h-1.5zM250.19 84.05h1v1.2h-1zM259.43 86.15h0.8v1.2h-0.8zM256.3 85.52h1.2v0.8h-1.2zM253.61 89.08h0.8v1.2h-0.8zM244.96 92.45h1v1h-1zM254.65 83.6h0.8v0.8h-0.8zM239.45 82.63h1v1h-1zM246.49 101.28h1.5v0.6h-1.5zM248.25 96.36h0.6v0.8h-0.6zM240.83 79.25h0.8v0.6h-0.8zM256.22 82.62h0.8v0.6h-0.8zM253.04 86.58h0.6v1h-0.6zM238.98 84.48h0.6v1.2h-0.6zM243.98 79.79h1.5v0.8h-1.5zM246.46 89.21h0.8v0.8h-0.8zM250.01 85.88h1v1h-1zM237.54 95.24h0.6v0.6h-0.6zM242.56 77.61h1.2v0.6h-1.2zM255.8 79.83h1.5v0.8h-1.5zM252.21 81.15h0.6v0.6h-0.6zM259.75 87.15h1.5v1.2h-1.5zM245.17 82.22h1.5v0.8h-1.5zM252.69 82.84h1v0.8h-1zM249.22 92.24h0.6v0.6h-0.6zM240.48 87.6h1.5v0.6h-1.5zM237.18 93.09h1.5v0.6h-1.5zM247.02 99.43h0.8v0.8h-0.8zM259.27 88.18h1v0.8h-1zM252.17 77.25h1.5v1.2h-1.5zM237.06 89.04h0.6v0.8h-0.6zM259.62 87.06h0.6v1.2h-0.6zM246.96 101.38h0.6v0.8h-0.6zM245.62 93.83h1v0.6h-1zM253.07 91.52h1v0.6h-1zM255.1 83.87h0.8v0.8h-0.8zM240.79 90.07h0.6v1.2h-0.6zM234.64 80.78h1.2v0.6h-1.2zM244.7 74.03h0.8v0.6h-0.8zM253.14 89.52h0.6v0.6h-0.6zM245.88 77.74h0.8v1.2h-0.8zM243.26 82.75h1.2v1h-1.2zM255.42 93.8h1.2v0.6h-1.2zM239.92 77.87h0.6v0.8h-0.6zM237.41 85.71h1v1h-1zM245.19 95.65h1v0.8h-1zM243.67 89.04h1.2v0.6h-1.2zM250.92 90.03h1.5v0.8h-1.5zM258.03 81.08h0.6v1.2h-0.6zM236.25 88.41h0.8v0.6h-0.8zM234.71 88.01h1.2v1h-1.2zM243.06 85.85h1.2v0.8h-1.2zM240.84 88.23h0.8v0.6h-0.8zM235.84 82.27h0.6v0.6h-0.6zM243.97 91.87h0.6v0.8h-0.6zM244.22 77.31h1v0.8h-1zM238.3 96.25h1v0.8h-1zM233.38 92.89h0.6v0.8h-0.6zM245.38 83.57h0.8v0.8h-0.8zM245.25 98.88h0.6v0.6h-0.6zM256.39 94.47h0.8v0.6h-0.8zM249.8 83.86h0.6v1h-0.6zM240.27 100.23h1.5v1.2h-1.5zM237.61 77.01h1.5v0.8h-1.5zM248.19 95.08h1v0.8h-1zM237.58 87.14h1.5v0.8h-1.5zM240.15 78.55h0.8v0.6h-0.8zM241.41 80.04h0.8v0.6h-0.8zM244.38 97.63h1.2v1h-1.2zM246.06 97.63h1.5v1.2h-1.5zM243.28 97.51h0.6v1h-0.6zM244.87 78.18h0.8v1.2h-0.8zM242.76 75.3h1.2v1h-1.2zM243.41 90.82h0.8v0.8h-0.8zM233.54 93.36h1v1h-1zM244.36 99.07h0.6v1h-0.6zM254.12 89.37h1.5v1h-1.5zM247.61 99.97h1v1.2h-1zM247.29 83.34h0.8v1.2h-0.8zM247.44 91.87h1.2v0.6h-1.2zM255.22 80.58h1.2v1.2h-1.2zM250.15 93.84h0.8v0.8h-0.8zM239.02 97.03h0.6v0.8h-0.6zM250.74 81.32h0.6v1.2h-0.6zM251.17 95.05h1v0.6h-1zM245.38 92.26h1.5v1.2h-1.5zM259.73 86.7h0.6v1.2h-0.6zM239.74 93.63h0.6v1h-0.6zM243.99 91.9h0.8v0.6h-0.8zM250.12 97.8h0.6v0.8h-0.6zM248.3 94.82h0.8v0.8h-0.8zM247.32 78.32h1v0.6h-1zM244.8 90.04h1.5v0.6h-1.5zM253.08 94.55h0.8v1.2h-0.8zM239.34 91.56h1v0.6h-1zM255.78 96.43h1.2v0.8h-1.2zM236.14 92.93h1v0.8h-1zM254.24 89.7h1.5v1h-1.5zM247.17 80.64h1.2v1.2h-1.2zM258.92 92.29h1.2v1.2h-1.2zM241.34 83.04h1.5v1.2h-1.5zM238.24 94.35h0.6v1h-0.6zM245.84 75.68h0.6v1h-0.6zM248.19 96.82h0.6v0.6h-0.6zM249.55 89.98h1v0.6h-1zM236.93 87.26h1v1h-1zM255.85 86.57h0.8v0.6h-0.8zM236.15 88.09h1v1h-1zM249.22 100.09h1.2v1h-1.2zM235.81 80.1h1.5v1h-1.5zM252.34 91.42h1v0.6h-1zM254.31 86.87h1v0.8h-1zM250.45 81.16h1v0.8h-1zM254.59 85.31h1v0.8h-1zM250.6 95.15h0.8v1.2h-0.8zM245.56 95.98h0.8v1.2h-0.8zM250.85 84.91h0.6v0.6h-0.6zM252.44 82.2h1v1.2h-1zM234.66 87.91h1.2v0.8h-1.2zM255.26 91.88h0.8v0.8h-0.8zM241.68 82.17h0.8v0.8h-0.8zM253.65 79.52h1v0.8h-1zM244.73 76.09h0.6v0.8h-0.6zM243.73 94.55h0.8v0.8h-0.8zM245.5 76.4h1v0.8h-1zM238.14 96.73h1.2v0.8h-1.2zM238.83 77.45h0.6v0.6h-0.6zM256.56 89.94h1.5v0.8h-1.5zM250.04 81.82h0.8v0.6h-0.8zM247.34 86.6h1.2v0.6h-1.2zM241.26 76.05h1.5v0.8h-1.5zM249.73 99.96h1v0.6h-1zM242.51 91.29h0.6v0.6h-0.6zM253.91 95.2h0.8v1h-0.8zM242.46 98.44h0.6v0.8h-0.6zM233.23 92.74h1v0.6h-1zM244.61 75.35h0.8v1h-0.8zM249.72 85.81h1.5v1.2h-1.5zM252.99 79.47h0.8v1.2h-0.8zM234.75 90.29h1.2v0.8h-1.2zM248.47 100.85h1v0.8h-1zM244.28 92.43h0.6v0.8h-0.6zM242.05 89.27h1v1.2h-1zM236.15 87.62h0.6v1h-0.6zM250.69 95.08h1.2v1.2h-1.2zM246.49 82.27h1.2v0.8h-1.2zM236.53 87.29h0.8v0.8h-0.8zM249.14 80.12h0.6v1h-0.6zM241.23 82.24h1.2v1h-1.2zM238.54 83.68h0.8v1h-0.8zM255.13 87.81h1v1h-1zM253.96 97.06h1.5v0.8h-1.5zM251.57 97.82h0.6v1.2h-0.6zM234.51 92.53h1.2v0.8h-1.2zM253.07 98.26h0.8v0.8h-0.8zM241.21 81.57h1.2v1.2h-1.2zM251.89 91.96h1.5v0.8h-1.5zM241.25 84.84h0.8v1.2h-0.8zM234.95 88.66h0.6v0.6h-0.6zM255.44 77.82h1.2v0.6h-1.2zM238.09 77.36h0.6v1.2h-0.6zM247.25 81.38h1v0.8h-1zM252.3 99.5h1v1h-1zM247.56 83.53h0.8v1h-0.8zM240.87 86.01h0.6v0.6h-0.6zM254.68 78.51h0.6v0.8h-0.6zM251.94 91.17h1v0.6h-1zM248.92 94.15h0.6v1h-0.6zM248.22 100.73h0.8v1.2h-0.8zM246.77 92.3h0.6v0.6h-0.6zM252.16 92.68h1.2v0.6h-1.2zM249.51 101.02h0.6v1h-0.6zM235.79 94.02h1.5v1.2h-1.5zM240.32 90.92h1.5v1.2h-1.5zM236.22 81.93h1.5v1.2h-1.5zM249.4 81.32h1.2v0.8h-1.2zM235.56 83.59h1.2v0.8h-1.2zM232.25 86.96h0.6v0.6h-0.6zM255.21 80.94h1.2v0.6h-1.2zM244.89 86.56h0.8v0.8h-0.8zM252.43 94.64h1v1.2h-1zM244.42 76.16h0.8v0.8h-0.8zM239.88 78.48h1v0.6h-1zM244.41 79.32h1.5v0.8h-1.5zM251.55 93.47h0.6v1h-0.6zM245.2 90.45h1.5v0.8h-1.5zM245.45 83.04h0.6v1h-0.6zM245.64 85.54h1v0.8h-1zM238.92 79.5h1.2v0.6h-1.2zM241.38 88.76h1.2v1.2h-1.2zM238.15 91.08h0.8v1.2h-0.8zM240.08 99.93h1.2v1.2h-1.2zM236.67 84.26h0.6v0.6h-0.6zM245.12 98.81h0.8v0.8h-0.8zM246.74 78.57h1v1h-1zM240.65 87.05h1.2v0.8h-1.2zM256.68 79.66h0.8v0.6h-0.8zM237.06 92.89h0.6v1.2h-0.6zM248.78 76.81h1.5v1.2h-1.5zM256.73 92.19h0.6v1.2h-0.6zM244.39 80.3h0.6v1.2h-0.6zM248.5 79.76h0.6v0.6h-0.6zM243.73 87.65h0.6v0.6h-0.6zM237.87 81.44h0.6v0.8h-0.6zM253.29 86.26h1.2v1h-1.2zM241.94 97.45h0.6v0.6h-0.6zM240.35 79.24h1v0.6h-1zM256.35 95.27h0.6v0.8h-0.6zM244.08 77.3h1v1.2h-1zM239.37 84.35h0.6v1h-0.6zM241.75 96h1.5v1h-1.5zM234.99 87.07h0.6v1.2h-0.6zM240.53 93.61h1v1h-1zM237.78 96.04h1.2v1h-1.2zM237.32 81.53h0.8v1.2h-0.8zM245.4 101.09h1.5v0.8h-1.5zM241.16 86.21h0.8v0.6h-0.8zM248.54 84.75h0.8v1h-0.8zM240.77 83.01h0.8v1.2h-0.8zM243.87 78.56h0.6v1h-0.6zM254.89 94.55h1.2v1.2h-1.2zM247.04 90.37h1.2v1.2h-1.2z" fill="#5250a2" opacity="0.72"/>
<circle cx="246" cy="87.7" r="13.9" fill="none" stroke="#5a58b0" stroke-width="0.9" opacity="0.55"/>
<circle cx="279" cy="87.7" r="15.3" fill="#fafafc"/>
<circle cx="279" cy="87.7" r="14.4" fill="#d0d0dc" stroke="#9c9cac" stroke-width="0.7"/>
<path d="M282.82 98.46h0.9v0.9h-0.9zM289.23 86.16h0.7v0.7h-0.7zM269.95 94.29h0.7v0.5h-0.7zM284.46 94.37h0.9v0.7h-0.9zM265.57 90.65h0.5v0.5h-0.5zM289.13 92.95h0.9v0.5h-0.9zM288.15 79.04h0.7v0.7h-0.7zM275.36 96.49h0.7v0.5h-0.7zM272.85 76.61h0.5v0.5h-0.5zM274.04 85.44h0.5v0.7h-0.5zM285.4 92.51h0.5v0.5h-0.5zM280.93 99.23h0.7v0.7h-0.7zM278.17 95.25h0.7v0.5h-0.7zM281.53 100.91h0.7v0.5h-0.7zM272.79 80.97h0.5v0.5h-0.5zM280.83 101.1h0.7v0.5h-0.7zM280.74 88.96h0.9v0.7h-0.9zM268.48 87.43h0.5v0.7h-0.5zM286.26 86.32h0.7v0.9h-0.7zM289.39 78.73h0.5v0.9h-0.5zM278.51 85.76h0.9v0.7h-0.9zM282.94 78.26h0.5v0.9h-0.5zM273.69 95.44h0.5v0.5h-0.5zM283.12 87.28h0.9v0.9h-0.9zM271.69 90.94h0.5v0.7h-0.5zM274.22 96.92h0.9v0.7h-0.9zM288.54 90.03h0.7v0.9h-0.7zM290.15 83.54h0.7v0.9h-0.7zM272.46 90.77h0.9v0.7h-0.9zM269.95 89.6h0.9v0.7h-0.9zM274.02 75.43h0.5v0.5h-0.5zM276.22 81.41h0.9v0.5h-0.9zM280.61 93.81h0.9v0.7h-0.9zM276.01 92.88h0.9v0.7h-0.9zM288.17 90.46h0.5v0.5h-0.5zM284.12 90.35h0.7v0.5h-0.7zM277.17 87.92h0.7v0.9h-0.7zM267.46 94.66h0.5v0.5h-0.5zM279.81 98.24h0.7v0.9h-0.7zM271.35 93.63h0.9v0.9h-0.9zM280.3 88.01h0.7v0.5h-0.7zM285.47 87.16h0.5v0.5h-0.5zM286.65 77.61h0.7v0.9h-0.7zM272.21 94.61h0.5v0.9h-0.5zM275.6 95.48h0.7v0.9h-0.7zM273.88 82.84h0.5v0.7h-0.5zM271.79 94.86h0.7v0.5h-0.7zM286.03 92.95h0.9v0.7h-0.9zM268.93 80.56h0.5v0.9h-0.5zM286.36 79.96h0.7v0.5h-0.7zM269.55 92.8h0.9v0.7h-0.9zM290.28 87.9h0.7v0.5h-0.7zM270.98 89.31h0.5v0.7h-0.5zM270.28 81.08h0.5v0.7h-0.5zM279.73 95.31h0.9v0.7h-0.9zM266.93 82.38h0.9v0.5h-0.9zM285.71 81.62h0.9v0.9h-0.9zM285.38 96.06h0.9v0.7h-0.9zM285.22 83.32h0.5v0.9h-0.5zM275.27 81.28h0.5v0.7h-0.5zM275.49 76.62h0.5v0.5h-0.5zM285.72 99.02h0.7v0.5h-0.7zM285.16 77.62h0.9v0.9h-0.9zM290.6 86.2h0.7v0.9h-0.7zM289.14 84.72h0.5v0.5h-0.5zM285.91 81.71h0.7v0.5h-0.7zM284.62 98.72h0.9v0.7h-0.9zM292.26 89.26h0.7v0.7h-0.7zM281.27 89.89h0.5v0.7h-0.5zM273.74 76.23h0.9v0.5h-0.9zM286.11 91.11h0.7v0.5h-0.7zM266.14 84.24h0.5v0.9h-0.5zM286.81 77.39h0.7v0.9h-0.7zM267.08 88.66h0.5v0.5h-0.5zM286.39 98.4h0.7v0.5h-0.7zM291.36 92.08h0.7v0.5h-0.7zM284.42 99.6h0.7v0.9h-0.7zM282.49 78.37h0.7v0.5h-0.7zM273.85 99.9h0.9v0.7h-0.9zM285.64 78.42h0.9v0.7h-0.9zM278.93 94.94h0.9v0.5h-0.9zM282.22 83.78h0.5v0.5h-0.5zM290.41 89.17h0.5v0.5h-0.5zM280.25 75.59h0.7v0.7h-0.7zM278.14 91.94h0.9v0.7h-0.9zM267 84.59h0.7v0.5h-0.7zM275.57 90.13h0.5v0.5h-0.5zM284.73 85.12h0.5v0.5h-0.5zM268.3 95.35h0.5v0.5h-0.5zM287.79 90.72h0.7v0.9h-0.7zM288.08 89.5h0.7v0.5h-0.7zM280.63 81.11h0.9v0.7h-0.9zM267.02 85.28h0.9v0.5h-0.9zM290.79 92.98h0.7v0.7h-0.7zM284.52 92.71h0.7v0.7h-0.7zM282.51 96.2h0.9v0.7h-0.9zM273.54 82.41h0.5v0.5h-0.5zM270.55 83.93h0.7v0.7h-0.7zM271.33 93.64h0.5v0.9h-0.5zM271.69 78.75h0.9v0.7h-0.9zM285.02 87.93h0.7v0.7h-0.7zM285.04 93.63h0.9v0.9h-0.9zM289.52 82.19h0.9v0.5h-0.9zM271.38 86.98h0.7v0.7h-0.7zM269.97 89.53h0.9v0.7h-0.9zM271.19 80.25h0.5v0.7h-0.5zM286.68 79.77h0.7v0.9h-0.7zM292.57 89.85h0.9v0.7h-0.9zM283.01 80.27h0.5v0.7h-0.5zM267.26 90.06h0.7v0.9h-0.7zM280.89 81.88h0.9v0.5h-0.9zM283.08 87.13h0.5v0.7h-0.5zM271.73 92.02h0.9v0.9h-0.9zM291.26 83.3h0.9v0.7h-0.9zM285.51 92.91h0.5v0.7h-0.5zM270.39 82.74h0.7v0.7h-0.7zM268.86 82.9h0.9v0.5h-0.9zM274.28 82.87h0.9v0.9h-0.9zM272.42 99.76h0.7v0.7h-0.7zM277.39 74h0.5v0.7h-0.5zM281.76 97.68h0.5v0.5h-0.5zM278.03 90.83h0.5v0.5h-0.5zM280.27 81.11h0.7v0.9h-0.7zM286.82 91.8h0.9v0.5h-0.9zM280.53 93.23h0.5v0.7h-0.5zM273.69 86.77h0.9v0.7h-0.9zM284.22 94.15h0.7v0.9h-0.7zM285.41 94.06h0.5v0.7h-0.5zM284.06 81.68h0.7v0.9h-0.7zM270.87 96.21h0.5v0.7h-0.5zM281.48 93.11h0.7v0.9h-0.7zM279.74 74.62h0.5v0.9h-0.5zM283.41 76.9h0.9v0.5h-0.9zM284.94 86.71h0.9v0.7h-0.9zM272.52 79.99h0.5v0.9h-0.5zM279.97 95.62h0.7v0.5h-0.7zM278.51 86.45h0.7v0.9h-0.7zM275.28 98.79h0.5v0.9h-0.5zM275.51 98.74h0.9v0.9h-0.9zM279.54 79.55h0.9v0.7h-0.9zM291.41 86.58h0.7v0.5h-0.7zM292.68 88.56h0.5v0.9h-0.5zM271.22 94.28h0.9v0.7h-0.9zM270.06 91.55h0.9v0.9h-0.9zM281.69 98.03h0.5v0.7h-0.5zM281.41 99.58h0.7v0.5h-0.7zM275.99 98.81h0.9v0.5h-0.9zM268.68 91.54h0.9v0.9h-0.9zM282.08 98.56h0.9v0.7h-0.9zM277.58 77.12h0.5v0.7h-0.5zM287.62 88.92h0.7v0.7h-0.7zM283.62 100.07h0.5v0.5h-0.5zM277.04 96.36h0.7v0.9h-0.7zM283.36 90.72h0.7v0.9h-0.7zM273.45 80.78h0.7v0.7h-0.7zM273.77 76.82h0.9v0.7h-0.9zM285.62 85.53h0.9v0.5h-0.9zM279.84 94.15h0.5v0.7h-0.5zM275.13 93.62h0.9v0.9h-0.9zM286.64 88.35h0.7v0.5h-0.7zM283.72 91.95h0.7v0.7h-0.7zM281.04 92.01h0.7v0.5h-0.7zM269.1 91.18h0.7v0.7h-0.7zM280.51 77.81h0.9v0.5h-0.9zM286.04 83.71h0.7v0.9h-0.7zM273.12 87.74h0.5v0.5h-0.5zM268.91 79.53h0.5v0.5h-0.5zM289.07 79.05h0.5v0.5h-0.5zM279.86 99.22h0.9v0.9h-0.9zM271.56 97.87h0.7v0.7h-0.7zM282.99 98.22h0.9v0.5h-0.9zM287.94 86.71h0.5v0.5h-0.5zM290.25 90.68h0.7v0.7h-0.7zM281.81 91.51h0.9v0.5h-0.9zM269.86 77.8h0.9v0.9h-0.9zM275.21 91.44h0.7v0.5h-0.7zM273.67 96.79h0.5v0.7h-0.5zM272.57 92.5h0.7v0.5h-0.7zM289.51 79.12h0.5v0.5h-0.5zM288.51 84.02h0.5v0.9h-0.5zM280.93 75.13h0.9v0.5h-0.9zM287.65 93.99h0.5v0.5h-0.5zM273.38 85.53h0.9v0.7h-0.9zM286.32 91.61h0.5v0.9h-0.5zM281.63 86.53h0.7v0.7h-0.7zM282.62 78.94h0.7v0.9h-0.7zM283.81 99.32h0.5v0.5h-0.5zM275.52 92.87h0.9v0.7h-0.9zM278.14 81.77h0.5v0.9h-0.5zM277.87 83.9h0.9v0.5h-0.9zM289.69 88.76h0.7v0.7h-0.7zM271.87 76.37h0.7v0.7h-0.7zM267.83 94.74h0.9v0.7h-0.9zM277.69 97.64h0.7v0.5h-0.7zM281.96 99.19h0.5v0.5h-0.5zM272.33 76.45h0.9v0.7h-0.9zM274.73 90.29h0.5v0.7h-0.5zM287.37 90.83h0.5v0.7h-0.5zM286.31 76.38h0.9v0.5h-0.9zM284.77 94.33h0.7v0.5h-0.7zM273.76 87.3h0.5v0.9h-0.5zM267.68 93.93h0.7v0.5h-0.7zM272.47 89.39h0.9v0.7h-0.9zM287.03 81.06h0.9v0.9h-0.9zM288.86 87.01h0.5v0.5h-0.5zM278.16 89.27h0.7v0.5h-0.7zM274.77 90.09h0.5v0.5h-0.5zM265.82 89h0.9v0.9h-0.9zM282.14 100.23h0.7v0.7h-0.7zM270.98 78.83h0.5v0.9h-0.5zM267.9 90.27h0.7v0.5h-0.7zM276.33 86.73h0.5v0.7h-0.5zM289.05 96.94h0.5v0.7h-0.5zM278.26 83.26h0.9v0.7h-0.9zM281.05 76.78h0.9v0.9h-0.9z" fill="#6c6aa4" opacity="0.55"/>
<rect x="198.2" y="107.2" width="96.2" height="32.6" fill="#e3e3e7" stroke="#161616" stroke-width="2"/>
<text x="191.3" y="122.9" font-size="9.3" stroke="#000" stroke-width="0.25" text-anchor="middle" transform="rotate(-90 191.3 122.9)">Entre</text>
<circle cx="213.2" cy="123.5" r="15.3" fill="#fafafc"/>
<circle cx="213.2" cy="123.5" r="14.4" fill="#cbcbde" stroke="#9c9cac" stroke-width="0.7"/>
<path d="M222.3 118.57h0.6v1h-0.6zM202.62 123.91h1.2v0.6h-1.2zM208.77 125.73h1.2v0.6h-1.2zM204.78 120.11h1v1.2h-1zM212.83 128.79h1v0.6h-1zM209.13 131.7h0.6v1.2h-0.6zM217.61 132.16h0.6v1h-0.6zM210.77 122.44h0.8v0.6h-0.8zM210.21 136.53h1.2v1h-1.2zM224.25 116.35h0.8v0.8h-0.8zM217.42 115.28h1.2v1.2h-1.2zM214.09 132.04h1v0.6h-1zM216.55 116.06h1.2v0.8h-1.2zM201.12 129.69h0.8v0.6h-0.8zM202.15 127.47h1.5v1.2h-1.5zM224.49 118.75h1.5v0.8h-1.5zM209.5 121.2h1.2v1.2h-1.2zM219.41 120.51h0.6v0.8h-0.6zM215.06 132.46h1v0.6h-1zM216.75 115.07h0.8v1h-0.8zM211.22 110.08h0.6v1h-0.6zM226 125.03h1v1.2h-1zM219.25 135.4h1.5v1h-1.5zM201.2 127.57h1v0.8h-1zM211.23 128.86h1.5v0.8h-1.5zM200.16 122.25h1v1h-1zM211.8 114.38h1v1h-1zM215.88 134.74h1.5v0.8h-1.5zM203.27 127.14h0.8v1h-0.8zM215.6 118.28h1v1.2h-1zM225.85 121.96h0.8v1h-0.8zM201.5 129.42h1v0.8h-1zM199.73 121.34h0.8v1.2h-0.8zM219.48 111.36h0.8v1h-0.8zM218.99 110.98h1.5v0.8h-1.5zM210.04 119.48h1.5v1h-1.5zM213.04 122.85h1.2v0.8h-1.2zM212.98 127.12h0.8v0.6h-0.8zM201.29 119.63h1v0.8h-1zM219.4 111.28h1v0.6h-1zM221.85 115.87h0.6v0.6h-0.6zM211.29 122.66h1.5v0.6h-1.5zM202.46 117.08h1.2v0.8h-1.2zM219.95 122.72h1v1.2h-1zM216.14 123.16h1v0.6h-1zM214.82 114.95h1.5v1h-1.5zM212.94 111.88h1.5v1h-1.5zM212.17 130.76h0.6v0.8h-0.6zM226.39 127.19h1.5v1.2h-1.5zM216.36 131.03h1.2v1h-1.2zM213.39 136.81h0.8v1h-0.8zM217.31 119.34h0.6v0.8h-0.6zM211.57 125.28h1.5v1.2h-1.5zM218.05 121.96h1.2v1.2h-1.2zM209.3 127.53h0.6v0.6h-0.6zM218.97 113.98h0.6v0.6h-0.6zM221.62 132.33h1v0.6h-1zM218.57 131.72h1.2v0.8h-1.2zM210.35 133.26h0.8v0.8h-0.8zM204.49 126.61h0.8v0.8h-0.8zM218.2 129.21h1v0.8h-1zM215.92 115.16h0.6v1h-0.6zM202.85 126.37h0.6v0.6h-0.6zM205.17 116.9h0.8v1h-0.8zM206.65 127.8h1.5v0.6h-1.5zM212 119.28h1.2v1h-1.2zM217.95 129.66h1v0.6h-1zM208.55 130.51h0.8v1.2h-0.8zM216.76 114.84h1v1h-1zM205.41 122.85h1v0.6h-1zM210.35 115.81h1.2v1h-1.2zM201.89 119.4h1v1.2h-1zM218.61 118.72h1v0.6h-1zM206.85 113.92h1.2v0.6h-1.2zM215.68 122.28h1v0.8h-1zM204.93 120.39h0.6v0.8h-0.6zM223.76 131.47h0.8v1.2h-0.8zM217.05 113.15h0.6v0.8h-0.6zM216.33 123.71h0.8v0.8h-0.8zM219.38 117.7h0.8v0.8h-0.8zM221.2 113.59h1.5v1.2h-1.5zM218.11 110.84h0.6v0.8h-0.6zM209.4 134.23h1.2v0.6h-1.2zM219.32 117.86h1.5v1.2h-1.5zM209.18 120.6h1.5v1h-1.5zM226.71 124.11h1.2v0.8h-1.2zM211.91 123.68h1.2v1h-1.2zM223.44 125.29h1.2v0.6h-1.2zM200.24 126.05h0.6v1.2h-0.6zM212.65 131.31h1.2v0.6h-1.2zM204.27 121.26h1.5v1.2h-1.5zM202.88 121.51h1.5v1h-1.5zM218.78 115.66h0.8v1.2h-0.8zM215.9 126.15h1v0.8h-1zM222.09 118.58h0.8v0.8h-0.8zM214.34 129.9h0.6v1.2h-0.6zM219.97 126.01h1.5v1.2h-1.5zM209.71 116.79h1.5v1.2h-1.5zM209.91 133.65h1.5v0.8h-1.5zM203.97 125.63h1v1.2h-1zM210.5 124.09h1.5v1h-1.5zM217 118.91h0.6v1.2h-0.6zM214.73 136.26h1v0.6h-1zM206.31 119.6h1v1.2h-1zM221.32 130.42h1v1h-1zM206.92 135.06h1v0.8h-1zM218.85 122.26h1.5v0.6h-1.5zM222.52 122.5h1v0.8h-1zM223.81 131.61h1v0.8h-1zM199.74 120.5h1v1h-1zM222.19 128.08h1.5v1h-1.5zM205.91 114.59h0.6v1.2h-0.6zM212.65 136.41h0.6v1h-0.6zM221.56 120.44h1v0.6h-1zM205.92 119.39h0.8v1.2h-0.8zM216.93 121.45h0.6v1h-0.6zM218.25 129.89h0.6v1.2h-0.6zM214.01 132.72h0.8v1h-0.8zM206.04 134.76h1.2v1h-1.2zM204.97 120.31h0.8v0.6h-0.8zM225.84 125.47h1.5v0.6h-1.5zM217.86 121.02h1.2v1h-1.2zM208.16 126.63h1.5v1h-1.5zM222.24 123.67h0.6v0.8h-0.6zM208.58 125.23h1.5v0.8h-1.5zM224.81 122.37h0.6v1h-0.6zM220.45 126.39h1v0.8h-1zM218.54 127.69h1.2v0.8h-1.2zM204.67 113.26h0.8v0.6h-0.8zM218.59 127.35h1.5v0.6h-1.5zM210.04 130.7h1.2v0.8h-1.2zM201.1 125.73h0.8v1h-0.8zM205.14 126.23h1.5v0.6h-1.5zM222.54 130h1.5v1.2h-1.5zM213.09 119.03h1v0.8h-1zM211.41 119.92h1.2v1.2h-1.2zM203.41 132.99h0.8v1.2h-0.8zM221.99 119.35h1v0.6h-1zM226.26 123.07h1.5v0.8h-1.5zM214.55 131.29h0.8v0.8h-0.8zM216.99 115.1h1.2v1.2h-1.2zM207.94 116.05h0.8v0.8h-0.8zM216.52 117.81h1v0.6h-1zM215.92 125.98h0.8v1.2h-0.8zM223.11 118.82h1.2v0.6h-1.2zM205.51 119.3h1.5v1.2h-1.5zM219.15 122.91h0.8v0.8h-0.8zM206.51 133.46h1v0.8h-1zM207.18 117.85h1.5v1h-1.5zM218.28 119.94h0.8v1h-0.8zM219.92 113.67h0.6v0.6h-0.6zM224.42 124.47h0.6v0.6h-0.6zM203.79 131.23h1.5v1.2h-1.5zM205.82 132.86h0.6v1.2h-0.6zM218.26 124.64h1.2v1h-1.2zM214.26 113.12h1.5v1.2h-1.5zM212.15 125.14h1v0.6h-1zM216.75 123.01h1.2v0.6h-1.2zM219.41 115.68h1.2v0.6h-1.2zM222.11 131.95h0.6v1.2h-0.6zM215.51 119.98h1.5v0.8h-1.5zM214.74 132.04h1v0.6h-1zM201.83 122.13h1.5v0.8h-1.5zM215.3 109.95h0.6v0.6h-0.6zM213.82 129.26h0.8v1h-0.8zM202.5 132.19h0.6v1h-0.6zM219.51 130.06h1.2v0.8h-1.2zM201.73 122.04h0.8v1h-0.8zM216.93 136.65h1.2v0.8h-1.2zM217.64 117.24h1.2v0.8h-1.2zM205.15 119.9h0.6v0.6h-0.6zM211.58 127.49h0.6v1.2h-0.6zM212.57 120.52h1.5v0.6h-1.5zM212.1 117.33h1.5v0.8h-1.5zM203.64 128.69h0.8v1h-0.8zM208.11 117.19h1v1.2h-1zM219.47 135.26h1v1.2h-1zM212.12 126.68h1.5v0.8h-1.5zM221.27 118.35h1.5v1h-1.5zM212.07 112.44h1.5v0.8h-1.5zM216.94 123.33h0.8v0.6h-0.8zM216.16 128.18h1.5v1h-1.5zM216.72 115.93h1.2v0.6h-1.2zM208.3 112.05h1v0.8h-1zM207.54 130.35h1v0.8h-1zM214.2 121.87h1.5v1.2h-1.5zM206.62 114.4h0.6v1.2h-0.6zM215.78 132.47h1.2v0.8h-1.2zM208.38 123.47h1.5v0.6h-1.5zM213.6 124.41h1.5v0.8h-1.5zM205.24 116h1.2v0.6h-1.2zM216.95 134.05h1.5v1h-1.5zM213.66 119.72h0.8v1.2h-0.8zM215.69 131.23h1.2v1h-1.2zM212.36 136.82h1.5v0.6h-1.5zM214.36 134.76h1.2v1.2h-1.2zM214.46 119.32h0.8v0.8h-0.8zM212.31 128.51h0.8v0.8h-0.8zM222.47 120.66h0.8v0.8h-0.8zM208.61 127.26h1.2v1h-1.2zM208.35 133.93h0.6v0.8h-0.6zM216.35 122h0.6v0.6h-0.6zM203.09 118.38h1.5v0.6h-1.5zM210.14 126.76h1.5v1.2h-1.5zM207.82 131.98h1.2v1.2h-1.2zM223.53 123.34h0.8v0.6h-0.8zM214.05 109.93h0.8v0.8h-0.8zM203.54 127.36h0.8v1.2h-0.8zM215.4 135.5h0.6v1.2h-0.6zM202.75 129.86h1v1h-1zM226.93 123.41h1v1.2h-1zM224.29 126.58h1.2v1h-1.2zM207.64 115.48h0.8v1h-0.8zM205.67 124h0.6v0.6h-0.6zM201.17 128.32h1v1.2h-1zM203.62 121.66h1.2v0.8h-1.2zM206.63 116.85h0.6v1h-0.6zM208.83 129.37h1v1h-1zM201.32 124.01h0.6v0.8h-0.6zM214.57 128.34h1v0.8h-1zM206.64 129.25h1.5v1.2h-1.5zM202.73 122.22h0.6v0.8h-0.6zM220.98 125.29h0.8v0.6h-0.8zM208.51 135.72h1.2v1.2h-1.2zM219.6 119.89h1v0.8h-1zM218.89 119.02h0.8v1.2h-0.8zM206.04 124.09h1.5v0.6h-1.5zM200.02 126.09h0.6v1.2h-0.6zM209.59 114.38h1v0.6h-1zM216.84 120.48h1v1.2h-1zM200.94 125.7h1.2v1h-1.2zM217.29 129.19h1.2v0.8h-1.2zM214.78 126.14h0.8v1.2h-0.8zM220.68 133.91h1.2v1h-1.2zM220.56 129.42h1v0.8h-1zM205.59 117.25h0.6v1h-0.6zM223.31 126.81h0.8v0.8h-0.8zM204.94 116.11h1.5v1.2h-1.5zM218.24 123.8h0.8v1h-0.8zM217.05 116.86h0.6v1h-0.6zM225.63 129.25h1.2v1h-1.2zM212.81 132.75h0.6v0.8h-0.6zM219.96 122.37h0.8v1.2h-0.8zM210.99 128.69h1v1.2h-1zM217.98 134.76h1v1.2h-1zM212.05 122.54h0.6v0.6h-0.6zM202.6 129.02h0.8v0.8h-0.8zM222.6 130.75h0.8v0.6h-0.8zM208.69 117.07h1.2v1h-1.2zM211.8 119.42h1.5v0.8h-1.5zM221.47 129.35h1.5v1.2h-1.5zM223.69 130.51h1v0.6h-1zM216.96 126.46h0.6v0.8h-0.6zM208.57 118.14h0.6v1h-0.6zM222.31 132.54h1.2v0.8h-1.2zM221.06 130.73h0.8v0.8h-0.8zM213.83 124.21h0.6v0.6h-0.6zM214.93 126.92h1.5v1h-1.5zM218.68 120.36h0.6v1h-0.6zM201.12 118.52h1.5v0.6h-1.5zM215.17 129.04h1.2v0.6h-1.2zM214 128.09h0.6v0.6h-0.6zM210.34 135.03h1.2v1.2h-1.2zM221.23 121.64h1.5v0.8h-1.5zM209.72 124.6h0.6v1h-0.6zM202.13 126.08h1.2v1.2h-1.2zM208.09 120.6h1v1.2h-1zM214.11 124.75h1.5v1h-1.5zM206.92 118.99h1.2v0.6h-1.2zM212.92 130.91h1.5v0.6h-1.5zM214.88 133.43h1.2v0.8h-1.2zM213.01 131.73h1v1h-1zM219.4 126.47h1.5v0.6h-1.5zM214.86 122.01h1v1h-1zM212.3 134.3h1v0.8h-1zM214.28 131.92h0.6v1.2h-0.6zM221.61 129.88h0.8v1h-0.8zM209.05 135.59h1.5v1.2h-1.5zM200.7 119.05h1.2v1.2h-1.2zM212.1 124.98h0.6v1.2h-0.6zM216.21 122.45h1.2v0.6h-1.2zM220.78 121.57h0.6v0.6h-0.6zM203.47 125h0.8v0.8h-0.8zM217.2 124.28h1.2v0.6h-1.2zM202.05 123.47h0.6v1.2h-0.6zM217.94 115.53h1.5v0.8h-1.5zM215.26 125.54h0.6v0.8h-0.6zM216.44 118.38h0.6v1h-0.6zM216.68 114.77h1v0.8h-1zM208.04 120.65h1v0.6h-1zM217.57 121.63h1.5v1.2h-1.5zM223.4 131.43h1.5v1h-1.5zM210.3 128.62h0.8v1.2h-0.8zM222.45 116.44h0.8v0.8h-0.8zM223.96 129.03h1.5v1.2h-1.5zM199.86 124.17h0.6v1h-0.6zM218.57 133.76h1.5v0.8h-1.5zM208.72 132.09h1v0.8h-1zM211.7 132.74h1.2v1h-1.2zM214.78 135.06h0.8v1h-0.8zM207.95 115.46h0.6v1h-0.6zM222.09 126.98h1v0.6h-1zM209.17 123.85h1v0.6h-1zM226.33 119.25h1.2v1.2h-1.2zM216.42 135.42h1.5v0.8h-1.5zM209.52 124.18h1v1h-1zM201.62 118.21h1.5v1.2h-1.5zM205.98 129.95h1.5v0.6h-1.5zM204.8 131.13h1v0.6h-1zM219.28 132.85h0.8v1h-0.8zM220.1 129.49h0.8v1h-0.8zM216.07 116.58h0.8v1h-0.8zM212.19 124.58h1.5v0.6h-1.5zM202.34 118.26h1v1.2h-1zM204.11 122.9h1.2v0.6h-1.2zM216.05 124.9h0.8v0.6h-0.8zM212.67 133.22h0.8v0.6h-0.8zM220.64 120.42h1v1h-1zM216.34 133.75h0.6v1h-0.6zM206 121.63h0.6v1.2h-0.6zM205.3 132.6h1v0.6h-1zM203.77 116.56h0.8v0.6h-0.8zM209.17 112.84h0.8v1.2h-0.8zM208.12 136.23h1v1h-1zM207.16 135.07h0.6v0.6h-0.6zM216.85 132.47h1v1.2h-1zM226.93 124.72h1.5v0.8h-1.5zM210.03 122.22h1.5v0.8h-1.5zM216.52 119.78h1v0.8h-1zM210.41 110.36h1.5v1.2h-1.5zM217.54 111.75h1.5v0.8h-1.5zM224.86 128.9h1.2v0.8h-1.2zM220.63 123.21h0.6v0.6h-0.6zM211.59 126.53h0.6v0.8h-0.6zM206.89 128.84h0.6v0.8h-0.6zM203.01 127.54h1.2v1h-1.2zM209.12 113.11h0.8v0.8h-0.8zM207.93 123.28h1.2v1.2h-1.2zM210.8 125.07h0.8v0.6h-0.8zM200.22 119.29h1v1.2h-1zM208.78 124.55h1.2v1h-1.2zM204.52 122.36h1v0.6h-1zM218.13 136.04h0.8v1h-0.8zM209.72 128.47h1v1h-1zM218.64 121.27h1.2v0.8h-1.2zM205.6 121.88h1v1.2h-1zM210.9 114.95h1v0.8h-1zM204.47 120.23h1.5v1.2h-1.5zM210.66 132.09h1.2v0.8h-1.2zM207.01 118.19h1v0.8h-1zM214.52 136.58h0.8v0.8h-0.8zM210.33 114.56h1.5v1h-1.5zM216.78 125.27h1.2v1.2h-1.2zM214.45 110.71h1.5v1.2h-1.5zM220.1 113.84h1.2v1h-1.2zM217.42 125.62h1.2v0.6h-1.2zM204.24 132.68h1v1h-1zM214.5 121.99h0.6v0.8h-0.6zM226.32 120.35h1.2v0.8h-1.2zM225.68 125.44h0.8v0.8h-0.8zM222.77 113.79h1.5v1h-1.5zM203.2 127.73h1.2v0.8h-1.2zM201.93 123.98h0.8v0.6h-0.8zM206.61 126.67h1.5v1h-1.5zM205.93 113.26h0.6v0.6h-0.6zM209.42 118.45h1.5v1h-1.5zM215.03 126.23h1.5v0.8h-1.5zM204.76 122.84h0.8v0.6h-0.8zM208.77 118.54h0.6v0.6h-0.6zM200.02 119.88h1v0.6h-1zM208.98 132.45h1.2v0.6h-1.2zM204.26 123.2h0.6v1.2h-0.6zM201.82 117.28h1v0.6h-1zM216.04 130.29h1.2v0.6h-1.2zM216.36 133.26h0.6v0.8h-0.6zM219.37 133.6h1.5v0.6h-1.5zM217.49 116.04h0.8v0.6h-0.8zM205.85 111.9h1.5v0.8h-1.5zM214.73 123.09h1.2v0.6h-1.2zM219.23 121.39h0.6v0.8h-0.6zM214.49 118.86h1.5v1.2h-1.5zM211.27 117.34h0.8v1.2h-0.8zM204.72 115.78h1.2v1h-1.2zM222.29 126.06h1v0.8h-1zM219.11 119.64h0.6v0.8h-0.6zM216.71 116.28h1.2v1.2h-1.2zM209.76 136.37h1.2v0.8h-1.2zM215.65 123.71h1.2v0.6h-1.2zM220.19 130.72h0.6v0.8h-0.6zM210.25 126.48h1.2v0.6h-1.2zM222.93 120.24h1.5v0.6h-1.5zM203.35 125.9h1.2v0.8h-1.2zM221.96 130.89h1.2v0.6h-1.2zM207.05 131.6h0.6v0.6h-0.6zM213.46 113.48h1.5v0.8h-1.5zM205.07 125.21h0.8v1.2h-0.8zM208.05 124.51h0.8v1h-0.8zM223.89 122.1h0.8v1.2h-0.8zM217.43 115.68h1.2v1.2h-1.2zM211.9 124.45h1.2v1.2h-1.2zM205.71 132.35h1.2v0.6h-1.2zM209.5 128.7h1.5v1h-1.5zM216.83 136.52h0.6v0.6h-0.6zM216.78 128.63h0.6v0.8h-0.6zM212.82 126.3h1.5v1h-1.5zM211.2 128.9h1.2v0.8h-1.2zM222.89 131.57h1.5v0.6h-1.5zM222.63 129.38h1.5v1.2h-1.5zM212.94 115.83h1.5v0.8h-1.5zM202.91 115.29h0.8v1.2h-0.8zM211.5 117.81h0.8v0.6h-0.8zM222.96 125.87h1.2v0.6h-1.2zM211.11 135.39h1.5v1.2h-1.5zM219.51 126.73h0.8v0.8h-0.8zM216.17 114.44h0.6v1h-0.6zM211.17 111.89h1v0.6h-1zM221.74 132.47h0.6v0.6h-0.6zM224 127.51h0.8v1h-0.8zM214.02 124.31h1v1h-1zM209.26 124.22h1v1.2h-1zM201.35 124.03h1.5v0.6h-1.5zM218.16 120.67h0.8v0.8h-0.8zM210.75 128.63h0.8v0.8h-0.8zM221.08 124.71h0.6v1h-0.6zM218.07 114.26h0.6v1h-0.6zM200.51 122.89h0.8v1.2h-0.8zM223.42 120.59h1v0.8h-1zM215.81 117.5h0.6v0.8h-0.6zM202.67 120.41h0.6v1h-0.6zM212.1 123.4h1.5v0.6h-1.5z" fill="#5250a2" opacity="0.72"/>
<circle cx="213.2" cy="123.5" r="13.9" fill="none" stroke="#5a58b0" stroke-width="0.9" opacity="0.55"/>
<circle cx="246" cy="123.5" r="15.3" fill="#fafafc"/>
<circle cx="246" cy="123.5" r="14.4" fill="#d4d4dc" stroke="#9c9cac" stroke-width="0.7"/>
<path d="M253.71 134.91h0.9v0.9h-0.9zM247.91 130.26h0.5v0.7h-0.5zM237.46 133.37h0.5v0.9h-0.5zM244.58 137h0.5v0.9h-0.5zM254.33 130.62h0.9v0.7h-0.9zM246.68 114.06h0.9v0.9h-0.9zM255.77 128.3h0.7v0.5h-0.7zM244.17 116.11h0.7v0.5h-0.7zM247.9 120.37h0.5v0.5h-0.5zM241.21 112.11h0.7v0.7h-0.7zM250.31 111.12h0.7v0.9h-0.7zM240.43 122.57h0.7v0.9h-0.7zM236.27 123.02h0.5v0.7h-0.5zM251.29 131.64h0.7v0.9h-0.7zM252.41 126.89h0.9v0.9h-0.9zM240.17 122.82h0.7v0.7h-0.7zM249.73 136.57h0.7v0.5h-0.7zM245.88 127.34h0.5v0.5h-0.5zM239.81 119.21h0.7v0.5h-0.7zM252.36 120.58h0.7v0.9h-0.7zM254.82 120.68h0.9v0.7h-0.9zM254.76 130.78h0.5v0.9h-0.5zM251.59 127.88h0.5v0.9h-0.5zM240.12 111.34h0.5v0.9h-0.5zM251.89 113.46h0.5v0.9h-0.5zM248.92 111.25h0.9v0.5h-0.9zM239.86 133.19h0.5v0.7h-0.5zM234.53 128.16h0.5v0.5h-0.5zM249.61 121.38h0.5v0.5h-0.5zM253.66 130.39h0.9v0.5h-0.9zM245.99 116.38h0.7v0.9h-0.7zM253.26 114.09h0.9v0.9h-0.9zM235.81 114.27h0.7v0.9h-0.7zM245.17 137.11h0.7v0.9h-0.7zM242.41 131.71h0.9v0.9h-0.9zM244.15 119.09h0.9v0.9h-0.9zM251.75 115.54h0.5v0.7h-0.5zM248.38 113.1h0.7v0.9h-0.7zM255.52 130.98h0.7v0.9h-0.7zM237.42 129.99h0.7v0.5h-0.7zM237.4 118.17h0.7v0.7h-0.7zM251.91 119.16h0.9v0.5h-0.9zM255.98 125.26h0.5v0.5h-0.5zM257.52 124.69h0.9v0.7h-0.9zM241.45 136.47h0.5v0.5h-0.5zM252.41 123h0.9v0.7h-0.9zM234.37 118.52h0.5v0.5h-0.5zM254.72 118.93h0.5v0.5h-0.5zM253.97 115.16h0.9v0.5h-0.9zM235.34 124h0.5v0.9h-0.5zM254.3 130.39h0.7v0.5h-0.7zM252.87 130.03h0.7v0.5h-0.7zM247.82 118.94h0.9v0.5h-0.9zM236.62 128.35h0.5v0.9h-0.5zM238.53 124.22h0.7v0.7h-0.7zM235.75 132.37h0.9v0.9h-0.9zM237.71 115.57h0.5v0.7h-0.5zM248.38 110.73h0.9v0.5h-0.9zM235.41 124.01h0.9v0.9h-0.9zM247.47 130.45h0.5v0.7h-0.5zM245.04 123.37h0.9v0.5h-0.9zM239.7 123.17h0.9v0.9h-0.9zM235.83 126.11h0.9v0.9h-0.9zM255.32 123.91h0.5v0.5h-0.5zM254.32 131.27h0.7v0.7h-0.7zM241.3 129.63h0.7v0.7h-0.7zM246.3 132.89h0.7v0.7h-0.7zM235.9 123.47h0.7v0.5h-0.7zM242.81 135.18h0.7v0.9h-0.7zM250.28 111.3h0.7v0.9h-0.7zM247.82 118.58h0.7v0.7h-0.7zM238.04 125.34h0.9v0.7h-0.9zM257.3 116.97h0.7v0.5h-0.7zM254.34 133.58h0.5v0.5h-0.5zM252.67 119.52h0.9v0.7h-0.9zM243.77 114.07h0.9v0.7h-0.9zM243.28 129.46h0.5v0.7h-0.5zM249.56 117.18h0.5v0.9h-0.5zM242.48 135.95h0.7v0.5h-0.7zM252.98 132.66h0.9v0.5h-0.9zM255.69 126.75h0.7v0.7h-0.7zM245.06 112.56h0.9v0.9h-0.9zM247.43 112.51h0.5v0.9h-0.5zM258.19 122.39h0.5v0.5h-0.5zM252.16 126.6h0.9v0.9h-0.9zM247.48 127.14h0.5v0.5h-0.5zM249.26 110.67h0.7v0.5h-0.7zM253.33 134.96h0.5v0.5h-0.5zM248.91 115.49h0.5v0.5h-0.5zM249.05 113.79h0.7v0.9h-0.7zM248.3 125.15h0.9v0.5h-0.9zM246.85 113.71h0.5v0.7h-0.5zM247.75 130.58h0.9v0.9h-0.9zM249.28 126.81h0.5v0.9h-0.5zM245.58 132.92h0.9v0.9h-0.9zM259.14 125.5h0.7v0.5h-0.7zM239.86 130.75h0.7v0.5h-0.7zM247.67 118.17h0.9v0.7h-0.9zM254.91 132.89h0.7v0.9h-0.7zM234.52 126.62h0.7v0.5h-0.7zM240.02 123.64h0.5v0.7h-0.5zM258.19 125.78h0.7v0.9h-0.7zM243.23 117.73h0.5v0.9h-0.5zM241.14 123.02h0.9v0.5h-0.9zM236.74 131.44h0.5v0.9h-0.5zM239.84 114.66h0.7v0.5h-0.7zM246.99 125.69h0.7v0.9h-0.7zM241.01 121.8h0.9v0.9h-0.9zM251.05 123.38h0.9v0.9h-0.9zM249.95 133.41h0.5v0.7h-0.5zM244.28 112.04h0.9v0.9h-0.9zM239.06 124.07h0.7v0.9h-0.7zM254.52 121.55h0.7v0.5h-0.7zM244.88 122.38h0.9v0.5h-0.9zM244.76 116.28h0.5v0.5h-0.5zM235.04 116.36h0.5v0.9h-0.5zM258.09 118.61h0.7v0.9h-0.7zM249.85 128.49h0.5v0.7h-0.5zM242.92 127.71h0.9v0.5h-0.9zM233.93 129.48h0.9v0.5h-0.9zM249.6 124.95h0.5v0.5h-0.5zM251.16 135.79h0.7v0.9h-0.7zM236.12 121.92h0.5v0.9h-0.5zM243.96 119.39h0.7v0.5h-0.7zM241.85 124.06h0.7v0.5h-0.7zM255.44 128.57h0.9v0.9h-0.9zM256.1 125.22h0.7v0.5h-0.7zM239.26 122.84h0.7v0.9h-0.7zM243.88 123.93h0.9v0.7h-0.9z" fill="#6c6aa4" opacity="0.55"/>
<circle cx="279" cy="123.5" r="15.3" fill="#fafafc"/>
<circle cx="279" cy="123.5" r="14.4" fill="#d9d9de" stroke="#9c9cac" stroke-width="0.7"/>
<path d="M271.85 121.06h0.5v0.9h-0.5zM282.98 115.81h0.5v0.5h-0.5zM270.29 123.17h0.7v0.7h-0.7zM270.3 131.54h0.9v0.9h-0.9zM274.43 119.36h0.5v0.9h-0.5zM281.75 128.9h0.7v0.9h-0.7zM282.42 120.2h0.5v0.5h-0.5zM291.77 119.26h0.9v0.5h-0.9zM266.33 127.81h0.5v0.5h-0.5zM275.5 118.63h0.7v0.7h-0.7zM283.62 126.17h0.9v0.7h-0.9zM274.88 113.58h0.5v0.9h-0.5zM280.71 131.47h0.5v0.7h-0.5zM272.69 111.53h0.7v0.7h-0.7zM269.39 114.1h0.5v0.5h-0.5zM281.06 113.29h0.7v0.7h-0.7zM268.82 124.54h0.9v0.9h-0.9zM266.17 124.1h0.5v0.9h-0.5zM282.61 136.04h0.5v0.7h-0.5zM273.16 132.83h0.7v0.9h-0.7zM289.1 122.38h0.9v0.7h-0.9zM270.21 121.9h0.5v0.9h-0.5zM271.02 133.31h0.7v0.7h-0.7zM289.62 117.82h0.9v0.7h-0.9zM268.03 120.02h0.5v0.9h-0.5zM287.64 127.08h0.5v0.7h-0.5zM286.06 114.22h0.7v0.5h-0.7zM278.42 135.99h0.9v0.5h-0.9zM275.98 129.46h0.5v0.9h-0.5zM268.85 117.75h0.7v0.7h-0.7zM276.48 115.95h0.7v0.9h-0.7zM282.41 132.53h0.7v0.9h-0.7zM283.71 111.72h0.7v0.7h-0.7zM287.21 122.28h0.5v0.7h-0.5zM285.52 124.03h0.7v0.5h-0.7zM287.93 120.95h0.9v0.7h-0.9zM288.26 128h0.9v0.7h-0.9zM283.91 132.15h0.5v0.7h-0.5zM273.01 124.36h0.5v0.5h-0.5zM281.37 111.46h0.7v0.7h-0.7zM273.92 132.89h0.5v0.5h-0.5zM283.44 117.23h0.5v0.5h-0.5zM287.58 116.1h0.5v0.5h-0.5zM268.4 129.21h0.5v0.5h-0.5zM270.96 127.96h0.9v0.9h-0.9zM277.89 128.36h0.5v0.9h-0.5zM279.35 110.22h0.7v0.5h-0.7zM292.4 121.64h0.5v0.9h-0.5zM281.51 129.99h0.9v0.7h-0.9zM268.43 122.28h0.5v0.9h-0.5zM281.86 122.3h0.5v0.5h-0.5z" fill="#6c6aa4" opacity="0.55"/>
<rect x="198.2" y="143.1" width="96.2" height="32.6" fill="#e3e3e7" stroke="#161616" stroke-width="2"/>
<text x="191.3" y="158.8" font-size="9.3" stroke="#000" stroke-width="0.25" text-anchor="middle" transform="rotate(-90 191.3 158.8)">Lorla</text>
<circle cx="213.2" cy="159.4" r="15.3" fill="#fafafc"/>
<circle cx="213.2" cy="159.4" r="14.4" fill="#cbcbde" stroke="#9c9cac" stroke-width="0.7"/>
<path d="M223.4 167.42h1.5v0.8h-1.5zM218 151.71h1v0.8h-1zM204.54 153.46h1v1h-1zM217.11 157.3h0.6v0.6h-0.6zM223.85 155.86h1.5v0.8h-1.5zM203.38 152.64h0.8v0.8h-0.8zM213.03 155.53h1.2v1.2h-1.2zM208.66 157.63h1v1.2h-1zM218.23 154.44h1.5v1.2h-1.5zM211.49 152.65h0.8v1h-0.8zM220.6 162.43h1.2v1h-1.2zM207.3 148.85h0.8v0.6h-0.8zM212.28 165.08h0.8v1h-0.8zM221.85 162.99h1v0.8h-1zM219.8 166.45h1v1.2h-1zM219.71 168.5h1.5v1h-1.5zM213.45 155.01h1.5v0.6h-1.5zM218.64 152.63h0.6v0.8h-0.6zM218.13 159.97h1.5v1h-1.5zM214.6 169.28h1.5v1.2h-1.5zM214.01 159.59h1.5v0.6h-1.5zM204.97 156.5h1v0.8h-1zM205.21 149.59h0.8v1.2h-0.8zM215.27 155.17h1v1h-1zM216.61 146.61h1.2v0.6h-1.2zM215.23 149.62h0.6v1h-0.6zM203.98 155.19h1v1h-1zM209.65 151.65h0.6v1h-0.6zM209.6 155.14h1.2v1h-1.2zM203.77 166.77h1.5v1.2h-1.5zM218.57 158.67h1.5v0.6h-1.5zM203.15 165.57h0.6v1h-0.6zM205.48 155.68h0.6v1h-0.6zM201.53 152.29h1.2v1h-1.2zM213.25 161.74h1v0.8h-1zM207.47 159.94h1v1h-1zM201.82 158.12h1v0.6h-1zM210.81 150.81h1.5v1h-1.5zM205.24 170.13h0.6v0.8h-0.6zM205.9 153.05h1.2v0.8h-1.2zM204.35 161.99h1.2v1h-1.2zM208.73 160.47h0.8v1h-0.8zM212.79 162.59h1.5v1h-1.5zM221.79 163.48h0.6v1h-0.6zM219.01 168.26h1.2v0.8h-1.2zM207.18 165.17h1.5v1.2h-1.5zM202.3 152.99h1.5v0.6h-1.5zM224.48 160.76h1.2v1h-1.2zM219.23 166.87h0.8v1h-0.8zM210.73 150.34h0.6v1.2h-0.6zM223.84 154.92h1.2v0.8h-1.2zM222.93 150.83h0.8v0.8h-0.8zM218.57 159.34h0.6v0.6h-0.6zM209.88 170.8h0.6v1h-0.6zM207.82 170.46h0.6v1h-0.6zM225.01 159.28h1.5v1h-1.5zM209.23 166.74h1.2v1h-1.2zM217.07 171.05h1.2v1.2h-1.2zM216.53 150.54h0.8v1.2h-0.8zM218.56 163.05h1v1.2h-1zM219.33 149.42h1v1h-1zM218.6 149.15h1.5v1.2h-1.5zM209.98 164.3h1v1h-1zM220 169.48h0.6v1h-0.6zM210.88 168.44h1v0.6h-1zM207.93 149.38h1.2v0.6h-1.2zM208.24 157.16h1.2v0.8h-1.2zM200.83 159.84h1.2v1.2h-1.2zM222.16 152.39h1.2v1h-1.2zM215.8 169.63h1.2v0.6h-1.2zM225.37 154.6h0.6v1.2h-0.6zM221.71 148.98h1.5v0.6h-1.5zM210.67 171.13h1.5v0.6h-1.5zM216.87 146.64h0.8v1h-0.8zM210.92 147.89h1.2v1.2h-1.2zM216.89 169.61h1.5v0.8h-1.5zM215.57 170.88h1.2v1.2h-1.2zM206.7 166.86h1.2v1.2h-1.2zM204.2 160.16h0.8v0.8h-0.8zM219.71 161.13h1.5v1h-1.5zM209.89 152.6h1v1.2h-1zM212.8 148.85h0.6v1h-0.6zM210.76 165.55h0.6v0.6h-0.6zM218.57 149.7h1.2v1.2h-1.2zM202.61 168.11h0.8v1h-0.8zM210.22 171.43h1v0.8h-1zM218.31 152.16h0.6v0.8h-0.6zM216.66 146.12h1.5v1h-1.5zM222.06 169.43h1.2v1.2h-1.2zM214.28 147.2h0.6v1.2h-0.6zM206.65 149.58h0.6v1h-0.6zM210.96 170.76h0.6v0.6h-0.6zM212.58 167.24h1v0.8h-1zM204.72 167.82h0.6v0.6h-0.6zM204.22 154.46h1.5v1.2h-1.5zM214.47 159.15h1.5v1.2h-1.5zM213.87 167.56h1.2v0.8h-1.2zM212.23 158.45h1.2v0.8h-1.2zM215.35 168.72h0.8v1h-0.8zM214.44 155.07h1v1h-1zM218.36 153.59h0.8v1.2h-0.8zM208.02 164.71h1v1h-1zM201.25 156.73h1v0.6h-1zM204.21 159.51h0.6v0.8h-0.6zM207.78 170.88h1v0.6h-1zM217.23 165.4h0.6v0.8h-0.6zM211.19 150.88h0.6v1h-0.6zM225.82 162.19h1.2v1h-1.2zM207.7 151.21h1.2v1.2h-1.2zM216.72 146.58h1.2v1h-1.2zM205.8 162.7h1.2v0.8h-1.2zM216.63 157.39h0.8v1.2h-0.8zM218.2 163.52h1.5v0.8h-1.5zM208.53 159.8h0.8v0.8h-0.8zM208.34 149.43h0.8v1.2h-0.8zM211.03 165.66h1v1h-1zM204.85 161.7h0.8v1.2h-0.8zM202.31 160.09h1.2v0.8h-1.2zM209.14 148.03h1.5v1.2h-1.5zM217.15 169.13h1.5v1.2h-1.5zM211 147.25h1v1.2h-1zM207.55 155.42h0.6v0.8h-0.6zM206.96 166.82h0.6v0.6h-0.6zM217.04 162.16h1.2v1.2h-1.2zM222 158.42h1.5v1h-1.5zM217.2 154.58h0.6v1.2h-0.6zM224.85 153.89h0.6v1h-0.6zM221.94 162.37h1.5v0.6h-1.5zM215.68 165.54h0.8v0.6h-0.8zM201.23 154.97h0.6v0.8h-0.6zM222.54 153.81h0.6v0.6h-0.6zM217.31 166.22h1.2v0.8h-1.2zM222.9 166.47h0.8v1h-0.8zM204.12 161.46h0.6v1h-0.6zM216.84 151.89h0.6v0.8h-0.6zM225.32 155.63h1.2v0.8h-1.2zM208.53 158.97h1v0.6h-1zM225.92 155.62h0.8v1.2h-0.8zM226.65 157.98h1.5v0.6h-1.5zM220.82 148.78h1.2v0.6h-1.2zM218.94 151.37h1.2v0.6h-1.2zM220.04 160.77h0.8v0.8h-0.8zM219.69 171.09h0.8v1h-0.8zM214.63 170.5h0.6v1.2h-0.6zM212.81 149.48h1v1h-1zM220.67 168.81h1.5v1h-1.5zM205.88 151.65h1v0.6h-1zM220.85 167.9h0.6v1h-0.6zM214.26 151.14h0.6v1h-0.6zM222.87 155.83h1.2v0.6h-1.2zM206.59 149.66h0.6v1.2h-0.6zM217.38 170.7h0.6v1.2h-0.6zM209.75 158.42h0.6v1h-0.6zM202.25 165.85h1.2v0.6h-1.2zM207.92 162.03h1.5v1h-1.5zM207.31 171.03h0.6v1h-0.6zM206.32 150.26h0.8v1h-0.8zM217.8 157.78h0.6v1h-0.6zM209.63 155.01h1v1h-1zM205.9 154.46h1.2v0.6h-1.2zM219.13 154.63h1.2v1h-1.2zM213.15 146.43h1.5v0.6h-1.5zM226.18 162.05h1.2v0.6h-1.2zM218.46 158.4h0.8v1.2h-0.8zM211.94 160.33h0.6v1.2h-0.6zM220.53 165.92h1.5v0.6h-1.5zM213.94 149.06h0.6v1h-0.6zM213.33 153.29h0.6v0.8h-0.6zM218.18 158.06h1v1.2h-1zM202.07 156.84h1.2v0.6h-1.2zM204.94 164.71h0.8v1h-0.8zM211.08 156.21h0.8v1.2h-0.8zM208.09 168.2h0.6v0.8h-0.6zM211.99 150.36h0.8v0.8h-0.8zM208.91 154.99h1.5v1.2h-1.5zM217.5 169.34h1.2v1.2h-1.2zM203.9 150.87h0.8v1h-0.8zM218.72 152.79h1.5v1.2h-1.5zM221.37 153.63h0.6v0.6h-0.6zM215.25 148.73h1v1.2h-1zM221.98 162.4h0.6v1.2h-0.6zM217.13 170.77h1v0.8h-1zM211.62 162.88h1.5v0.8h-1.5zM225.91 159.26h1.5v0.6h-1.5zM210 149.29h1.2v0.8h-1.2zM213.45 150.77h1.5v0.6h-1.5zM211.26 171.26h0.8v1h-0.8zM210.77 163.48h1v1.2h-1zM215.59 147.79h0.6v0.8h-0.6zM216.89 146.7h1v0.8h-1zM218.37 158.44h0.6v1h-0.6zM202.06 162.16h1.5v0.6h-1.5zM201.68 165.18h1.2v1.2h-1.2zM218.34 166.67h1.5v0.8h-1.5zM224.51 155.64h0.8v0.8h-0.8zM211.97 171.73h1v0.6h-1zM223.37 150.36h1v1h-1zM205.23 154.53h1.2v0.8h-1.2zM215.91 172.2h1.5v0.8h-1.5zM219.35 171.72h0.6v0.6h-0.6zM219.66 148.85h1.2v1.2h-1.2zM207.94 149.68h0.6v1.2h-0.6zM221.05 160.45h0.8v1h-0.8zM209.02 156.52h1.2v1h-1.2zM221.03 151.22h0.6v0.8h-0.6zM221.89 158.75h1.2v1h-1.2zM225.06 156.84h1.5v1h-1.5zM216.57 156.66h0.6v0.6h-0.6zM206.72 165.36h1.2v1.2h-1.2zM211.13 150.45h1.5v0.6h-1.5zM206.22 170.9h1v0.8h-1zM218.02 161.45h0.6v0.8h-0.6zM214.91 171.76h0.8v0.6h-0.8zM208.43 156.97h0.8v1h-0.8zM217.6 167.75h1.5v0.8h-1.5zM208.68 165.22h1.5v0.8h-1.5zM212.21 171.39h1.5v0.8h-1.5zM211.3 162.05h1.5v0.6h-1.5zM208.14 163.71h1.5v0.6h-1.5zM216.61 167h0.8v0.6h-0.8zM213.91 166.48h1.5v0.8h-1.5zM206.99 153.12h1v0.6h-1zM220.12 162.88h1.5v1h-1.5zM209.35 167.1h1.5v0.8h-1.5zM220.22 170.56h1v1.2h-1zM203.79 162.25h1v1.2h-1zM209.83 170.39h0.8v1.2h-0.8zM212.02 152.34h1.2v1.2h-1.2zM221.34 162.95h0.8v1h-0.8zM202.75 163.68h1.2v1.2h-1.2zM225.11 154.76h0.6v1.2h-0.6zM220.09 153.07h1.5v0.6h-1.5zM206.24 156.25h1.2v0.6h-1.2zM214.77 161.66h0.6v1h-0.6zM212.98 149.47h1v1.2h-1zM210.36 154.45h0.6v0.6h-0.6zM223.89 167.83h0.8v0.6h-0.8zM208.38 164.91h1.2v1h-1.2zM209.28 157.43h1.5v1h-1.5zM222.46 163.56h1.2v0.6h-1.2zM221.88 163.41h1v0.8h-1zM201.78 164.4h1.2v0.6h-1.2zM211.54 157.17h0.6v0.8h-0.6zM218.71 152.39h1v0.6h-1zM207.51 167.68h1.5v1.2h-1.5zM208.39 166.56h1.5v1.2h-1.5zM205.39 161.07h1v1h-1zM206.98 149.93h1.2v1.2h-1.2zM219.34 155.7h1v0.8h-1zM207.57 168.13h1.5v0.6h-1.5zM208.57 146.92h0.8v1.2h-0.8zM220.12 167.76h0.6v1h-0.6zM214.16 168.44h1v1h-1zM215.13 145.79h0.6v0.6h-0.6zM221.42 157.03h1.2v1.2h-1.2zM209.98 169.58h1v0.8h-1zM202.78 152.35h1.2v1.2h-1.2zM225.46 161.05h1.2v1h-1.2zM206.48 153.3h1v1.2h-1zM219.84 165.25h0.6v1.2h-0.6zM200.83 161.89h1.2v1h-1.2zM215.1 160.84h0.6v1.2h-0.6zM225.69 163.23h1v1.2h-1zM209.86 159.06h1v0.8h-1zM224.59 167h1v0.6h-1zM214.19 168.45h0.6v1h-0.6zM212.96 152.16h0.8v0.6h-0.8zM223.83 163.14h1.2v1.2h-1.2zM217.12 161.64h0.6v1h-0.6zM214.34 151.6h1.5v0.8h-1.5zM224.56 165.97h1.2v0.6h-1.2zM212.04 160.19h1.2v0.8h-1.2zM200.95 162.42h1.5v1.2h-1.5zM221.09 160.25h0.8v0.8h-0.8zM225.69 162.81h1v0.6h-1zM222.75 161.57h1v0.8h-1zM200.87 155.97h0.8v0.6h-0.8zM203.51 165.65h1.2v0.6h-1.2zM211.15 150.2h0.8v1h-0.8zM219.25 154.23h0.8v1h-0.8zM209.11 156.78h0.8v0.8h-0.8zM216.02 168.11h0.6v0.8h-0.6zM217.87 163.9h0.6v0.8h-0.6zM202.03 155.99h0.6v1.2h-0.6zM218.42 149.52h1.5v0.8h-1.5zM220.1 162.2h1.5v0.6h-1.5zM221.33 154.87h1.2v0.6h-1.2zM218.12 157.84h1v1.2h-1zM207.24 151.48h0.8v1.2h-0.8zM224.68 154.96h1v1h-1zM220.43 153.89h0.8v1h-0.8zM206.92 153.03h1v1h-1zM207.01 167.04h0.8v1h-0.8zM224.87 154.85h1v0.8h-1zM208.68 151.45h1.5v0.8h-1.5zM212.4 170.77h1.2v0.8h-1.2zM210.43 161.58h1v1h-1zM226.46 158.89h1.2v0.6h-1.2zM212.08 170.07h0.8v1.2h-0.8zM213.84 149.49h0.8v1h-0.8zM226.65 157.79h0.6v1h-0.6zM222.94 161.55h1v0.8h-1zM203.56 164.59h1.5v1.2h-1.5zM202.66 154.18h1.2v0.8h-1.2zM209.73 163.41h1v0.6h-1zM204.1 161.52h1.2v0.8h-1.2zM223.79 164.1h0.8v0.6h-0.8zM202.04 163.24h1.2v1h-1.2zM202.48 166.38h1v1.2h-1zM214.92 167.55h1.5v0.6h-1.5zM201.3 158.38h1.5v1.2h-1.5zM214.78 172.74h1.2v0.6h-1.2zM207.96 148.88h0.8v0.8h-0.8zM211.63 152.62h1v1h-1zM214.88 148.88h0.6v0.6h-0.6zM200.69 157.53h0.8v1h-0.8zM205.99 156.83h1.5v0.8h-1.5zM217.18 167.3h1v1.2h-1zM212.06 163.34h1v0.8h-1zM209.13 156.06h1v0.8h-1zM214.01 171.48h0.6v0.8h-0.6zM206.72 147.84h0.8v0.8h-0.8zM204.32 151.62h1.2v0.6h-1.2zM213.93 147.94h0.8v1h-0.8zM221.35 155.36h1.5v1h-1.5zM203.71 157.51h0.8v1.2h-0.8zM211.05 168.32h0.6v0.6h-0.6zM215.28 168.22h1.2v1h-1.2zM204.52 160.35h0.8v0.6h-0.8zM211.24 163.34h1v1.2h-1zM205.08 157.26h0.8v0.6h-0.8zM219.47 153.15h1v1.2h-1zM214.79 172.5h0.6v0.8h-0.6zM210.29 155.36h1.5v1h-1.5zM219.67 160.51h1.5v1.2h-1.5zM218.91 166.25h0.8v0.8h-0.8zM218.54 169.23h1.5v1.2h-1.5zM225.57 164.15h1.5v0.8h-1.5zM205.67 161.47h0.6v0.6h-0.6zM212.35 167.73h0.8v0.6h-0.8zM202.21 164.33h0.8v0.6h-0.8zM220.51 170.02h0.8v0.8h-0.8zM208.11 157.4h0.8v0.6h-0.8zM211.93 153.59h1.5v1.2h-1.5zM204.93 162.86h0.6v0.8h-0.6zM218.07 154.27h1v1h-1zM219.76 148.06h0.8v1.2h-0.8zM213.51 153.57h1v0.8h-1zM203.48 158.48h1.5v0.6h-1.5zM212.84 165.74h1v0.8h-1zM210 160.01h1v1.2h-1zM200.98 160.23h1v0.6h-1zM211.21 155.95h1.2v1h-1.2zM207.6 151.88h1.2v0.6h-1.2zM206.17 155.21h0.8v1.2h-0.8zM226.26 162.75h1.5v0.6h-1.5zM222.98 162.14h0.6v1.2h-0.6zM218.52 166.51h1.5v1.2h-1.5zM205.69 151.88h1v1.2h-1zM216.47 156.04h1.5v1.2h-1.5zM201.26 155.52h1.2v0.8h-1.2zM221.47 166.21h1.2v1h-1.2zM221.56 160.39h1.2v1.2h-1.2zM214.46 171.47h0.6v1.2h-0.6zM217.43 170.34h0.8v1h-0.8zM208.16 158.73h0.8v1.2h-0.8zM215.15 162.04h1.5v1.2h-1.5zM222.69 154.44h0.8v0.6h-0.8zM215.06 151.51h1.2v1.2h-1.2zM204.83 169.85h1.5v1h-1.5zM219.46 155.54h1v1.2h-1zM215.87 166.48h0.6v1h-0.6zM222.41 165.46h1.5v1h-1.5zM224.35 163.31h0.6v0.6h-0.6zM214.44 156.72h1.5v0.6h-1.5zM205.48 150.69h1.2v0.6h-1.2zM220.59 157.33h0.6v0.6h-0.6zM210.56 157.43h1.2v1h-1.2zM221.06 157.13h0.6v1h-0.6zM209.46 156.03h0.8v1.2h-0.8zM215.58 150.35h1v1.2h-1zM212.18 167.39h1v1h-1zM211.41 169.88h0.8v0.6h-0.8zM209.87 169.27h0.6v0.6h-0.6zM203.05 162.71h1v0.6h-1zM219.93 156.57h1.2v1h-1.2zM210.23 170.35h1v1h-1zM207.06 169.25h0.6v1h-0.6zM224.3 156.11h1.2v1h-1.2zM224.52 152.38h1v0.6h-1zM203.84 151.3h0.6v0.8h-0.6zM223.37 161.05h1.2v1h-1.2zM202.68 156.7h0.8v1.2h-0.8zM225.65 157.23h0.6v1.2h-0.6zM205.14 157.14h1.2v0.6h-1.2zM214.03 165h1.2v0.8h-1.2zM206.14 171.18h0.6v1.2h-0.6zM209.37 147.72h1.5v0.8h-1.5zM218.87 150.34h1v1.2h-1zM226.47 157.07h1.5v1.2h-1.5zM208.49 152.9h1v1.2h-1zM204.71 166.91h1.2v1h-1.2zM204.84 158.52h0.6v0.6h-0.6zM212.06 164.98h1v0.6h-1zM205.92 163.61h1.2v1.2h-1.2zM211.72 159.57h1.5v1h-1.5zM211.77 155.38h0.8v0.6h-0.8zM216.74 160.14h1.5v1.2h-1.5zM216.79 157.5h0.8v1.2h-0.8zM220.56 160.44h1v0.6h-1zM215.27 146.59h0.8v1.2h-0.8zM214.56 167.69h0.6v1.2h-0.6zM213.16 164.16h1.2v0.6h-1.2zM208.92 171.38h1v0.8h-1zM207.5 171.77h0.6v0.8h-0.6zM219.6 159.6h1v0.8h-1zM223.79 167.02h1v1h-1zM202.09 152.63h1.2v0.6h-1.2zM212.26 153.87h1.5v0.6h-1.5zM202.78 152.67h1.5v0.6h-1.5zM220.48 160.54h1.5v1h-1.5zM208.07 148.73h1.2v0.8h-1.2zM207.57 153.68h1.2v0.6h-1.2zM207.88 150.28h1.2v1.2h-1.2zM216.79 147.18h0.8v1h-0.8zM208.39 152.68h0.8v1h-0.8zM208.6 153.46h1.2v0.8h-1.2zM212.86 168.47h1.2v0.6h-1.2zM210.81 155.69h0.8v0.8h-0.8zM214.78 162.3h0.6v1.2h-0.6z" fill="#5250a2" opacity="0.72"/>
<circle cx="213.2" cy="159.4" r="13.9" fill="none" stroke="#5a58b0" stroke-width="0.9" opacity="0.55"/>
<circle cx="246" cy="159.4" r="15.3" fill="#fafafc"/>
<circle cx="246" cy="159.4" r="14.4" fill="#d9d9de" stroke="#9c9cac" stroke-width="0.7"/>
<path d="M247.82 160.28h0.5v0.5h-0.5zM242.81 159.26h0.7v0.9h-0.7zM242.67 149.52h0.7v0.5h-0.7zM242.37 150.07h0.9v0.7h-0.9zM242.07 166.35h0.5v0.9h-0.5zM254.96 159.68h0.5v0.7h-0.5zM254.52 160.67h0.5v0.7h-0.5zM242.42 146.88h0.5v0.7h-0.5zM240.17 163.93h0.7v0.7h-0.7zM247.94 158.36h0.9v0.7h-0.9zM252.95 160.79h0.9v0.9h-0.9zM243.39 146.33h0.9v0.9h-0.9zM256.54 163.35h0.7v0.5h-0.7zM236.9 164.7h0.5v0.7h-0.5zM248.38 156.72h0.9v0.9h-0.9zM238.59 160.81h0.5v0.5h-0.5zM247.16 170.28h0.5v0.7h-0.5z" fill="#6c6aa4" opacity="0.55"/>
<circle cx="279" cy="159.4" r="15.3" fill="#fafafc"/>
<circle cx="279" cy="159.4" r="14.4" fill="#d9d9de" stroke="#9c9cac" stroke-width="0.7"/>
<path d="M270.47 159h0.7v0.7h-0.7zM286.83 157.04h0.9v0.9h-0.9zM273.85 151.23h0.7v0.5h-0.7zM282.87 146.75h0.7v0.9h-0.7zM275.98 151.7h0.5v0.5h-0.5zM281.42 165.95h0.5v0.9h-0.5zM292.15 159.2h0.7v0.9h-0.7zM275.28 155.06h0.7v0.7h-0.7zM285.92 166.56h0.5v0.7h-0.5zM282.62 155.91h0.7v0.5h-0.7zM273.99 161.87h0.9v0.5h-0.9zM281.41 146.3h0.5v0.5h-0.5z" fill="#6c6aa4" opacity="0.55"/>
<rect x="198.2" y="178.7" width="96.2" height="32.6" fill="#e3e3e7" stroke="#161616" stroke-width="2"/>
<text x="191.3" y="194.4" font-size="9.3" stroke="#000" stroke-width="0.25" text-anchor="middle" transform="rotate(-90 191.3 194.4)">Repo</text>
<circle cx="213.2" cy="195" r="15.3" fill="#fafafc"/>
<circle cx="213.2" cy="195" r="14.4" fill="#cbcbde" stroke="#9c9cac" stroke-width="0.7"/>
<path d="M218.05 186.67h0.6v0.8h-0.6zM211.56 181.49h0.6v0.8h-0.6zM207.19 188.61h1.5v1.2h-1.5zM216.09 201.65h1v0.8h-1zM213 190.98h1v1.2h-1zM220.17 202.06h1.2v1h-1.2zM225.33 192.4h0.6v0.8h-0.6zM200.4 198.96h1.5v0.6h-1.5zM223.89 188h1v1h-1zM207.02 197.78h1v1h-1zM216.49 186.63h1.5v0.6h-1.5zM204.2 186.94h1.2v1.2h-1.2zM222.34 194.23h1v0.8h-1zM215.51 187.72h0.6v1h-0.6zM201.77 194.65h1.2v0.8h-1.2zM213 181.6h1.2v1h-1.2zM224.41 188.29h1v1.2h-1zM214.4 196.74h1.5v1.2h-1.5zM226.45 196.56h0.6v1h-0.6zM206.77 184.84h1.5v0.8h-1.5zM210.05 188.87h1.5v1.2h-1.5zM220.03 190.43h1.5v0.6h-1.5zM208.45 188.48h0.8v0.6h-0.8zM217.68 191.01h1.2v0.8h-1.2zM220.93 187.19h1.2v1.2h-1.2zM203.54 189.44h1.2v0.8h-1.2zM216.4 201.66h0.8v0.6h-0.8zM208.91 185.15h1v1.2h-1zM206.17 199.89h1.2v1h-1.2zM205.71 200.59h0.8v0.8h-0.8zM214.99 204.21h1.5v0.6h-1.5zM223.76 203.78h1.5v1h-1.5zM219.21 198.65h1.5v1.2h-1.5zM207.22 189.83h1.2v0.8h-1.2zM205.9 206.11h0.8v1.2h-0.8zM204.43 204.86h1.5v1h-1.5zM224.07 191.94h1.2v1.2h-1.2zM204.3 201.09h1.2v0.6h-1.2zM211.98 195.94h1.5v0.8h-1.5zM211.31 191.62h1.5v1.2h-1.5zM206.08 188.66h0.8v0.8h-0.8zM212.06 194.48h1.5v1.2h-1.5zM205.11 196.79h0.8v0.8h-0.8zM211.29 197.97h0.6v1h-0.6zM205.18 198.44h0.6v0.8h-0.6zM206.1 187.8h1v1h-1zM224.01 187.49h1v1h-1zM214.88 190.75h0.6v0.8h-0.6zM210.66 203.27h1.5v0.6h-1.5zM211.78 199.08h0.8v1.2h-0.8zM216.04 183.44h1.5v0.8h-1.5zM216.92 198.54h0.6v1.2h-0.6zM214.01 185.07h1v1h-1zM220.61 191.57h1v1h-1zM205.31 191.84h1.5v0.8h-1.5zM199.81 193.24h1.5v1.2h-1.5zM217.03 188.07h0.6v0.6h-0.6zM210.48 186.97h1.5v0.6h-1.5zM225.72 193.44h1v1h-1zM226.35 195.2h0.8v0.6h-0.8zM218.05 194.69h0.6v1.2h-0.6zM215.23 207.08h0.8v1.2h-0.8zM212.55 196.76h1v0.8h-1zM206.13 197.25h1.2v1.2h-1.2zM205.78 193.33h0.6v1h-0.6zM203.04 200.96h0.6v0.8h-0.6zM216.77 201.45h0.8v0.6h-0.8zM201.58 189.6h1v1h-1zM205.86 194.29h1v0.8h-1zM221.33 201.65h1.5v0.6h-1.5zM221.49 185.83h1.2v1h-1.2zM207.57 197.05h1v0.8h-1zM220.02 184.9h0.6v1.2h-0.6zM201.8 200.19h1.5v1h-1.5zM202.09 201.7h0.6v1.2h-0.6zM206.79 190.48h1v0.6h-1zM209.62 204.04h1.2v0.6h-1.2zM224.13 201.57h0.8v0.6h-0.8zM224.89 189.47h0.6v0.6h-0.6zM211.24 184.53h1v1.2h-1zM203.58 199.82h0.8v0.6h-0.8zM226.22 193.55h1v0.8h-1zM213.84 200.72h0.6v0.6h-0.6zM222.87 202.23h1.5v0.6h-1.5zM216.91 201.09h0.6v1h-0.6zM225.09 199.99h1.2v0.6h-1.2zM207.89 191.32h1.2v0.8h-1.2zM219.07 204.58h1.5v1.2h-1.5zM224.56 198.85h0.8v1.2h-0.8zM214.91 206.6h1v0.6h-1zM215.78 198.13h1v0.6h-1zM210.33 199.45h1v1h-1zM208.66 197.01h0.8v0.8h-0.8zM219.26 192.35h0.8v0.8h-0.8zM206.68 188.77h1.5v0.8h-1.5zM216.16 200.68h1v1h-1zM206.92 193.84h0.8v0.6h-0.8zM210.25 205.23h0.8v0.6h-0.8zM217.81 196.24h0.8v0.8h-0.8zM203.88 190.22h0.8v0.6h-0.8zM219.91 190.01h0.6v0.6h-0.6zM220.35 194.03h0.8v0.8h-0.8zM205.97 193.14h1.5v1.2h-1.5zM221.52 189.29h0.8v0.8h-0.8zM203.61 188.05h0.6v1h-0.6zM201.7 198.03h1v1h-1zM216.47 185.39h0.8v1.2h-0.8zM223.42 199.24h1.2v1.2h-1.2zM208.13 199.42h0.8v0.6h-0.8zM216.91 182.9h0.8v1.2h-0.8zM213.46 188.05h1v0.8h-1zM205.51 198.17h1.5v1.2h-1.5zM215.6 192.35h1.2v1.2h-1.2zM217.82 198.41h1.5v0.8h-1.5zM205.05 194.95h0.6v1h-0.6zM204.98 194.72h0.6v0.6h-0.6zM218.47 186.77h1.5v0.8h-1.5zM202.49 195.22h0.6v0.8h-0.6zM208.42 207.34h1.2v0.8h-1.2zM207.76 188.85h0.8v0.8h-0.8zM216.52 200.51h1.2v0.8h-1.2zM207.94 204.13h1v0.6h-1zM211.08 191.5h1.2v1h-1.2zM207.32 195.58h1v0.6h-1zM210.13 195.99h1v1.2h-1zM205.39 185.79h0.8v0.6h-0.8zM217.37 183.9h0.8v0.8h-0.8zM211.47 188.11h1.5v1h-1.5zM226.5 195.05h1.5v0.6h-1.5zM203.07 194.6h1.2v0.8h-1.2zM223.27 199.02h0.6v0.6h-0.6zM203.21 186.46h0.6v0.6h-0.6zM215.93 195.41h1.5v1.2h-1.5zM215.92 194.34h0.8v1h-0.8zM221.38 203.77h0.8v0.8h-0.8zM204.46 197.8h0.6v1.2h-0.6zM206.16 190.71h1.2v0.8h-1.2zM205.76 190.16h1.5v1.2h-1.5zM208.73 196.44h0.8v1h-0.8zM219.45 188.6h0.8v0.8h-0.8zM202.84 194.25h0.6v0.8h-0.6zM216.51 206.28h1.2v0.8h-1.2zM210.33 207.38h1.2v1h-1.2zM213.84 208.58h1.2v0.8h-1.2zM209.29 188.53h1v0.6h-1zM219.36 185.25h1.5v0.8h-1.5zM207.48 205.6h1v1h-1zM212.26 197.67h0.8v0.8h-0.8zM205.49 200.64h1v1h-1zM208.94 192.6h1v0.8h-1zM224.15 199.91h1v1h-1zM214.7 184.86h0.8v1h-0.8zM212.67 181.82h0.6v1.2h-0.6zM215.8 203.11h0.6v1h-0.6zM217.84 191.31h1.2v0.6h-1.2zM210.51 207.54h0.8v0.8h-0.8zM211.89 206.86h1v1h-1zM208.85 188.06h0.8v1.2h-0.8zM220.05 203.27h1.5v0.8h-1.5zM214.14 201.89h0.6v1h-0.6zM222.1 189.76h0.6v1h-0.6zM220.72 196.43h1.2v1.2h-1.2zM219.27 193.2h0.6v0.6h-0.6zM208.84 182.04h0.8v1h-0.8zM202.53 187.54h0.6v0.6h-0.6zM203.4 201.33h1.2v0.6h-1.2zM205.75 184.04h0.8v0.8h-0.8zM215.79 185.17h0.6v0.8h-0.6zM209.22 199.55h0.8v1h-0.8zM224.91 200.67h0.8v1h-0.8zM214.51 196.53h1.2v0.6h-1.2zM221.2 204.68h0.8v0.8h-0.8zM204.53 189.12h1.5v0.6h-1.5zM206.53 195.14h0.6v1h-0.6zM222.05 189.57h1v0.8h-1zM210.29 203.67h0.6v0.8h-0.6zM203.72 189.76h0.6v0.6h-0.6zM217.03 198.48h0.6v0.6h-0.6zM215.21 183.92h1.5v0.8h-1.5zM206.94 190.25h1.5v0.6h-1.5zM203.8 190.69h1.5v1.2h-1.5zM211.71 207.47h1v0.8h-1zM226.25 195.8h1.2v0.6h-1.2zM216.04 188.33h0.6v1.2h-0.6zM213.98 192.93h0.6v0.6h-0.6zM214.52 193.35h1v1h-1zM214.07 198.78h0.6v1h-0.6zM212.19 197.53h0.8v0.6h-0.8zM208.88 191.08h1v1h-1zM211.8 197.7h1.2v1h-1.2zM209.39 184.47h0.8v0.8h-0.8zM203.22 192.87h1.5v1h-1.5zM212.59 197.85h1.5v1h-1.5zM205.68 195.77h1.2v1h-1.2zM202.87 191.63h1.5v0.8h-1.5zM205.33 205.38h0.8v1.2h-0.8zM213.43 200.79h0.6v1.2h-0.6zM216.25 185.18h1.2v0.8h-1.2zM218.27 190.85h1.2v1.2h-1.2zM218.44 194.12h0.6v1.2h-0.6zM202.06 189.28h1.5v1.2h-1.5zM209.24 206.86h0.6v1h-0.6zM217.36 207.69h1.5v1h-1.5zM212.55 188.47h0.6v0.6h-0.6zM219.74 206.81h0.6v0.6h-0.6zM218.14 204.58h1.5v0.6h-1.5zM215.89 182.7h1.5v0.8h-1.5zM218.52 202.58h0.6v1h-0.6zM207.59 199.09h1v0.8h-1zM211.4 208.19h0.8v0.6h-0.8zM220.46 199.95h0.6v0.8h-0.6zM222.25 198.42h1v0.8h-1zM218.93 192.43h1v1h-1zM208.21 193.89h1v1h-1zM214.96 206.54h0.8v0.8h-0.8zM205.2 200.84h1.2v1h-1.2zM200.8 191.2h0.6v0.6h-0.6zM218.45 191.85h1.5v1.2h-1.5zM217.74 202.84h1.5v1.2h-1.5zM222.38 195.14h1.5v0.6h-1.5zM213.92 202.16h1v0.6h-1zM207.82 188.18h1.2v0.6h-1.2zM220.4 205.59h1.2v1.2h-1.2zM220.92 203.72h1.5v0.6h-1.5zM224.4 191.86h0.6v1h-0.6zM200.57 197.12h1v0.6h-1zM205.4 199.7h0.8v0.8h-0.8zM215.85 199.96h1v1.2h-1zM206.58 200.98h1.2v0.6h-1.2zM207.99 206.38h0.6v0.6h-0.6zM209.23 186.74h1.2v1.2h-1.2zM222.81 196.28h0.6v1h-0.6zM206.98 206.04h0.8v1.2h-0.8zM201.54 192.08h1.2v0.8h-1.2zM218.8 204.17h0.6v0.6h-0.6zM214.86 185.5h1.2v1h-1.2zM211.41 207.88h1.2v0.6h-1.2zM223.59 201.26h0.8v0.6h-0.8zM204.01 190.96h0.6v1.2h-0.6zM218.75 183.42h1.5v1h-1.5zM200.02 191.4h1v1.2h-1zM222.33 203.23h1.5v1h-1.5zM208.28 198.82h1v0.8h-1zM218.45 190.54h0.8v0.8h-0.8zM208.34 182.35h1.5v0.8h-1.5zM200.22 191.27h0.8v0.8h-0.8zM207.51 198.25h0.8v1.2h-0.8zM213.92 206.21h1v1.2h-1zM217.54 202.81h0.6v1h-0.6zM217.35 195.13h1v0.6h-1zM215.6 202.28h1.5v1h-1.5zM201.33 191.7h1.5v1h-1.5zM207.49 203.2h0.8v0.8h-0.8zM204.68 200.18h1.2v0.6h-1.2zM220.15 206.87h0.6v1.2h-0.6zM201.71 195.2h1.5v1h-1.5zM215.37 203.98h0.6v0.8h-0.6zM205.46 203.49h1v1h-1zM214.9 198.61h1v1.2h-1zM219.64 196.75h1.2v0.8h-1.2zM215.98 200.11h0.8v0.6h-0.8zM223.04 190.85h1.2v1h-1.2zM221.87 192.63h1v0.8h-1zM204.53 202.5h0.8v0.8h-0.8zM214.28 208.46h1.2v1h-1.2zM203.17 187.84h0.8v1h-0.8zM201.52 199.61h0.8v1.2h-0.8zM204.72 204.95h0.8v0.8h-0.8zM220.69 187.21h0.8v0.8h-0.8zM201.27 189.32h1v1h-1zM209.78 186.48h1.2v1.2h-1.2zM206.18 188.16h1.2v1h-1.2zM209.46 187.52h1.5v0.8h-1.5zM207.06 201.02h0.8v1h-0.8zM224.82 195.47h0.6v0.8h-0.6zM212.44 207.46h1v0.8h-1zM209.86 193.01h1.5v0.6h-1.5zM212.02 203.98h1v1h-1zM215.76 188.86h1.2v1.2h-1.2zM202.09 191.46h0.8v1h-0.8zM209.7 188.6h1.2v0.8h-1.2zM210.02 206.58h0.8v0.8h-0.8zM214.79 194.48h1.2v0.8h-1.2zM220.56 183.39h1v0.6h-1zM202.74 194.89h0.8v1h-0.8zM219.6 185.65h1.5v1.2h-1.5zM210.82 202.46h1v0.6h-1zM211.29 201.73h0.8v0.6h-0.8zM212 183.5h0.6v0.8h-0.6zM201.97 187.78h1v1h-1zM202.55 202.57h1.2v1.2h-1.2zM203.15 192.38h1.5v0.8h-1.5zM224.95 191.72h1v0.8h-1zM216.05 205.96h0.6v1h-0.6zM210.97 201.01h0.6v1h-0.6zM218.42 205.7h0.6v1h-0.6zM218.63 192.12h1.5v0.6h-1.5zM213.87 187.41h1v0.8h-1zM224.77 188.25h1.5v1.2h-1.5zM218.53 204.2h1v0.6h-1zM217.27 195.78h1.5v0.6h-1.5zM217.74 207.53h0.8v0.8h-0.8zM214.17 198.39h0.6v0.8h-0.6zM224.82 194.15h0.6v1h-0.6zM216.32 183.86h0.8v0.8h-0.8zM217.05 194.51h1.2v0.6h-1.2zM205.07 188.77h1.2v0.8h-1.2zM201.62 193.9h1v0.6h-1zM209.06 198.82h1v0.6h-1zM218.54 189.69h1.2v0.8h-1.2zM210.46 199.9h1.5v0.8h-1.5zM207.33 205.51h0.6v0.6h-0.6zM215.64 202.72h1v0.8h-1zM220.97 201.24h0.8v1h-0.8zM223 194.39h0.6v1.2h-0.6zM210.88 200.75h0.6v1.2h-0.6zM215.82 202.61h1v0.8h-1zM218.23 192.09h1.5v0.8h-1.5zM221.11 200.82h0.8v0.6h-0.8zM210.09 198.66h1.2v1.2h-1.2zM223.54 190.73h1.2v0.8h-1.2zM204.31 200.58h1.2v1h-1.2zM208 199.48h1v0.6h-1zM205.43 199.86h0.8v0.8h-0.8zM220.52 187.78h1.2v1.2h-1.2zM203.12 195.47h1v1.2h-1zM210.72 193.69h1.2v1h-1.2zM204.36 204.1h1.5v0.8h-1.5zM204.23 191.25h1.5v1.2h-1.5zM219.8 186.21h0.8v0.8h-0.8zM213.44 189.47h1v0.6h-1zM211.76 197.87h1v0.6h-1zM216.65 198.54h0.8v1h-0.8zM224.78 196.04h1.2v1h-1.2zM221.87 188.2h0.8v0.8h-0.8zM202.59 197.29h1v1.2h-1zM217.64 183.38h0.8v1h-0.8zM220.86 186.61h1.5v0.8h-1.5zM225.58 198.8h0.6v0.6h-0.6zM215.77 208.25h1.2v0.6h-1.2zM223.05 186.51h1v1h-1zM220.17 201.82h1.5v1.2h-1.5zM204.18 189.72h1v0.6h-1zM215.32 205.6h1.2v0.6h-1.2zM213.49 207.7h1.5v1.2h-1.5zM213.56 207.34h1v1.2h-1zM207.94 206.98h1.2v1h-1.2zM205.06 195.56h1v1.2h-1zM205.13 189.38h0.8v0.6h-0.8zM207.94 201.45h0.6v0.6h-0.6zM219.54 201.39h0.8v1h-0.8zM205.49 187.93h1v0.8h-1zM209.46 202.93h0.6v0.8h-0.6zM210.8 188.93h1v0.8h-1zM216.52 193.03h1v1h-1zM217.63 199.44h1v1.2h-1zM204.79 197.18h1v1h-1zM219.3 196.51h1.2v1h-1.2zM225.91 197.85h1.5v0.8h-1.5zM202.94 197.27h1.2v0.8h-1.2zM224.85 190.08h0.8v0.8h-0.8zM205.65 192.62h1.2v1h-1.2zM212.35 207.1h0.6v0.6h-0.6zM218.82 187.56h1.5v1h-1.5zM207.69 194.55h1.2v1h-1.2zM219.41 206.55h1.2v0.6h-1.2zM206.6 201.45h0.8v0.6h-0.8zM204.96 192.73h0.8v0.8h-0.8zM205.5 193.69h0.8v1.2h-0.8zM222.1 189.74h1.5v1h-1.5zM213.62 199.63h1.5v1h-1.5zM204.69 188.96h0.6v0.6h-0.6zM200.79 199.33h1v1.2h-1zM209.51 200.48h1.2v1.2h-1.2zM214.56 204.94h1.2v1.2h-1.2zM219.37 191.72h0.6v0.8h-0.6zM209.24 182.2h1.2v1h-1.2zM217.35 197.03h1.2v1h-1.2zM206.17 190.13h0.8v1h-0.8zM220.16 204.91h0.8v1h-0.8zM216.95 191.75h0.6v1h-0.6zM207.1 199.13h0.6v1h-0.6zM218.69 202.45h0.8v0.8h-0.8zM209.2 185.06h1v0.6h-1zM200.94 201.21h1.5v0.8h-1.5zM221.99 192.53h1v0.8h-1zM205.42 203.22h1v0.6h-1zM215.8 197.03h1.5v1.2h-1.5zM212.15 199.87h0.6v1.2h-0.6zM216.17 192.9h1v1h-1zM225.56 197.32h0.8v0.6h-0.8zM215.42 194.3h1.5v0.8h-1.5zM225.83 194.21h0.6v0.8h-0.6zM226.18 196.7h1.5v1.2h-1.5zM216.21 181.91h1v1.2h-1zM201.76 197.78h1.5v0.6h-1.5zM221.97 193.79h0.8v0.8h-0.8zM218 202.84h1v1h-1zM219.76 204.19h1.5v0.8h-1.5zM217.07 195.78h0.8v0.8h-0.8zM210.14 188.33h0.6v0.6h-0.6zM214.91 197.03h0.6v1h-0.6zM199.77 197.46h1.2v1h-1.2zM213.86 196.08h1.5v1.2h-1.5zM222.74 197.74h1.5v1.2h-1.5zM208.33 195.74h0.8v1.2h-0.8zM205.41 185.94h0.8v1h-0.8zM218.2 198.23h0.6v0.6h-0.6zM225.19 194.65h0.6v0.8h-0.6zM211.99 190.01h1.5v0.8h-1.5zM223.51 188.74h0.8v1h-0.8zM213.32 193.47h1.2v1h-1.2zM214.4 190.98h1.5v1.2h-1.5zM201.14 189.59h0.6v1.2h-0.6zM215.86 182.28h0.8v1h-0.8zM207.33 191.53h1.2v1h-1.2zM212.69 199.67h1v0.6h-1zM218.16 190.79h0.6v1h-0.6zM205.85 193.39h1.2v1h-1.2zM210.51 192.69h1.5v0.8h-1.5zM216.65 186.41h1.2v0.6h-1.2zM202.45 193.59h1.2v0.6h-1.2zM205.11 203.32h1.5v1.2h-1.5zM222.03 204.43h0.6v1.2h-0.6zM222.08 189.14h1v1h-1zM215.93 208.22h0.8v0.6h-0.8zM202.29 192.82h1.5v1.2h-1.5zM207.14 185.36h1.5v0.6h-1.5zM223.01 190.14h0.8v1h-0.8zM210.63 194.71h1.5v1h-1.5z" fill="#5250a2" opacity="0.72"/>
<circle cx="213.2" cy="195" r="13.9" fill="none" stroke="#5a58b0" stroke-width="0.9" opacity="0.55"/>
<circle cx="246" cy="195" r="15.3" fill="#fafafc"/>
<circle cx="246" cy="195" r="14.4" fill="#d9d9de" stroke="#9c9cac" stroke-width="0.7"/>
<path d="M236.75 197.78h0.9v0.7h-0.9zM256.16 194.72h0.5v0.5h-0.5zM241.28 202.51h0.5v0.5h-0.5zM232.96 196.11h0.5v0.7h-0.5zM251.44 187.01h0.7v0.7h-0.7zM235.14 199.77h0.5v0.9h-0.5zM250.03 206.36h0.9v0.5h-0.9zM256.77 202.31h0.9v0.9h-0.9zM245.32 200.89h0.7v0.7h-0.7zM244.88 194.42h0.5v0.9h-0.5zM248.12 207.78h0.7v0.5h-0.7zM243.22 182.92h0.9v0.9h-0.9zM243.71 199.94h0.9v0.5h-0.9zM257.27 196.75h0.5v0.7h-0.5zM243.16 182.76h0.5v0.9h-0.5zM249.57 183.34h0.7v0.9h-0.7zM234.85 196.54h0.5v0.5h-0.5zM249.76 206.83h0.9v0.5h-0.9zM251.2 192.97h0.9v0.5h-0.9zM234.88 191.56h0.7v0.9h-0.7zM246.16 186.34h0.5v0.7h-0.5zM248.8 192.02h0.7v0.7h-0.7zM248.34 200.27h0.9v0.7h-0.9zM235.02 203.1h0.9v0.7h-0.9zM248.68 203.99h0.7v0.7h-0.7zM245.98 203.04h0.5v0.5h-0.5zM245.36 201.13h0.5v0.5h-0.5zM234.23 188.13h0.9v0.9h-0.9zM247.75 200.79h0.5v0.5h-0.5zM246.69 193.46h0.5v0.5h-0.5zM243.22 190.59h0.5v0.9h-0.5zM243.15 207.35h0.5v0.7h-0.5zM245.96 185.12h0.5v0.9h-0.5zM254.26 203.12h0.7v0.5h-0.7zM250.89 197.73h0.9v0.7h-0.9zM242.52 199.14h0.9v0.7h-0.9zM240.03 187.14h0.7v0.9h-0.7zM236.97 192.21h0.7v0.7h-0.7zM248.2 188.39h0.9v0.9h-0.9zM256.95 187.78h0.7v0.5h-0.7zM246.94 186.7h0.9v0.5h-0.9zM256.18 188.98h0.7v0.7h-0.7zM236.14 195.3h0.5v0.7h-0.5zM235.18 200.42h0.9v0.9h-0.9zM244.24 182.99h0.9v0.7h-0.9zM254.78 192.34h0.9v0.5h-0.9zM254.14 206.03h0.9v0.7h-0.9zM245.83 188.61h0.9v0.5h-0.9zM246.43 195.61h0.5v0.5h-0.5zM241.22 205.42h0.5v0.7h-0.5zM251.54 194.79h0.5v0.7h-0.5zM236.26 195.05h0.5v0.7h-0.5zM240.96 203.3h0.7v0.5h-0.7zM247.69 194.39h0.9v0.9h-0.9zM243.86 189.18h0.9v0.5h-0.9zM239.92 196.49h0.7v0.9h-0.7zM241.36 198.54h0.5v0.9h-0.5zM257.42 192.91h0.9v0.7h-0.9zM252.18 207.25h0.9v0.9h-0.9zM254.8 187.9h0.5v0.5h-0.5zM238.55 205.48h0.7v0.7h-0.7zM247.8 191.98h0.5v0.9h-0.5zM243.6 185.26h0.7v0.5h-0.7zM257.98 199.23h0.5v0.7h-0.5zM254.67 191.43h0.5v0.5h-0.5zM234.87 191.96h0.5v0.7h-0.5zM239.89 188.45h0.9v0.5h-0.9zM234.74 191.27h0.5v0.5h-0.5zM252.57 201.92h0.5v0.7h-0.5zM253.95 205.57h0.7v0.5h-0.7zM249.34 187.33h0.9v0.9h-0.9zM247.93 208.13h0.9v0.7h-0.9zM245.96 207.41h0.7v0.9h-0.7zM243.35 183.53h0.7v0.7h-0.7zM256.31 194.32h0.5v0.9h-0.5zM249.44 191.76h0.5v0.5h-0.5zM255.54 201.72h0.5v0.5h-0.5zM246.85 199.31h0.9v0.7h-0.9zM238.2 203.45h0.5v0.7h-0.5zM239.86 197.39h0.7v0.9h-0.7zM252 184.79h0.9v0.9h-0.9zM239.13 191.21h0.7v0.7h-0.7zM235.97 193.02h0.5v0.7h-0.5zM248.15 182.75h0.5v0.5h-0.5zM235.94 203.02h0.9v0.9h-0.9zM234.08 200.96h0.5v0.7h-0.5z" fill="#6c6aa4" opacity="0.55"/>
<circle cx="279" cy="195" r="15.3" fill="#fafafc"/>
<circle cx="279" cy="195" r="14.4" fill="#d9d9de" stroke="#9c9cac" stroke-width="0.7"/>
<path d="M275.98 204.01h0.7v0.5h-0.7zM277.18 187.37h0.9v0.7h-0.9zM276.97 194.87h0.7v0.9h-0.7zM269.19 197.41h0.5v0.5h-0.5zM269.15 192.03h0.7v0.7h-0.7zM277.79 204.57h0.7v0.5h-0.7zM280.75 208.35h0.9v0.7h-0.9zM288.02 196.1h0.5v0.9h-0.5z" fill="#6c6aa4" opacity="0.55"/>
<line x1="330" y1="61.9" x2="330" y2="163.7" stroke="#000" stroke-width="1.2"/>
<line x1="329.5" y1="163.2" x2="493" y2="163.2" stroke="#000" stroke-width="1.2"/>
<line x1="327" y1="163.2" x2="330" y2="163.2" stroke="#000" stroke-width="1"/>
<text x="326.5" y="166" font-size="8.1" stroke="#000" stroke-width="0.08" font-weight="normal" text-anchor="end">0</text>
<line x1="327" y1="146.4" x2="330" y2="146.4" stroke="#000" stroke-width="1"/>
<text x="326.5" y="149.2" font-size="8.1" stroke="#000" stroke-width="0.08" font-weight="normal" text-anchor="end" textLength="8.11" lengthAdjust="spacingAndGlyphs">20</text>
<line x1="327" y1="129.6" x2="330" y2="129.6" stroke="#000" stroke-width="1"/>
<text x="326.5" y="132.4" font-size="8.1" stroke="#000" stroke-width="0.08" font-weight="normal" text-anchor="end" textLength="8.11" lengthAdjust="spacingAndGlyphs">40</text>
<line x1="327" y1="112.8" x2="330" y2="112.8" stroke="#000" stroke-width="1"/>
<text x="326.5" y="115.6" font-size="8.1" stroke="#000" stroke-width="0.08" font-weight="normal" text-anchor="end" textLength="8.11" lengthAdjust="spacingAndGlyphs">60</text>
<line x1="327" y1="96" x2="330" y2="96" stroke="#000" stroke-width="1"/>
<text x="326.5" y="98.8" font-size="8.1" stroke="#000" stroke-width="0.08" font-weight="normal" text-anchor="end" textLength="8.11" lengthAdjust="spacingAndGlyphs">80</text>
<line x1="327" y1="79.2" x2="330" y2="79.2" stroke="#000" stroke-width="1"/>
<text x="326.5" y="82" font-size="8.1" stroke="#000" stroke-width="0.08" font-weight="normal" text-anchor="end" textLength="12.16" lengthAdjust="spacingAndGlyphs">100</text>
<line x1="327" y1="62.4" x2="330" y2="62.4" stroke="#000" stroke-width="1"/>
<text x="326.5" y="65.2" font-size="8.1" stroke="#000" stroke-width="0.08" font-weight="normal" text-anchor="end" textLength="12.16" lengthAdjust="spacingAndGlyphs">120</text>
<text x="308.6" y="112.5" font-size="8.4" stroke="#000" stroke-width="0.25" text-anchor="middle" transform="rotate(-90 308.6 112.5)" textLength="95" lengthAdjust="spacingAndGlyphs">Relative cell viability (%)</text>
<rect x="334.2" y="79.2" width="8.25" height="84" fill="#1f8a1f" stroke="#222" stroke-width="0.35" stroke-opacity="0.6"/>
<line x1="338.32" y1="163.2" x2="338.32" y2="165.7" stroke="#000" stroke-width="0.8"/>
<text x="339.93" y="169.8" font-size="7" stroke="#000" stroke-width="0.2" font-weight="normal" text-anchor="end" transform="rotate(-45 339.93 169.8)">0</text>
<rect x="342.45" y="116.16" width="8.25" height="47.04" fill="#1f8a1f" stroke="#222" stroke-width="0.35" stroke-opacity="0.6"/>
<line x1="346.57" y1="116.16" x2="346.57" y2="111.12" stroke="#222" stroke-width="0.9"/>
<line x1="344.57" y1="111.12" x2="348.57" y2="111.12" stroke="#222" stroke-width="0.9"/>
<line x1="346.57" y1="163.2" x2="346.57" y2="165.7" stroke="#000" stroke-width="0.8"/>
<text x="348.18" y="169.8" font-size="7" stroke="#000" stroke-width="0.2" font-weight="normal" text-anchor="end" transform="rotate(-45 348.18 169.8)">0.03</text>
<rect x="350.7" y="129.6" width="8.25" height="33.6" fill="#1f8a1f" stroke="#222" stroke-width="0.35" stroke-opacity="0.6"/>
<line x1="354.82" y1="129.6" x2="354.82" y2="123.72" stroke="#222" stroke-width="0.9"/>
<line x1="352.82" y1="123.72" x2="356.82" y2="123.72" stroke="#222" stroke-width="0.9"/>
<line x1="354.82" y1="163.2" x2="354.82" y2="165.7" stroke="#000" stroke-width="0.8"/>
<text x="356.43" y="169.8" font-size="7" stroke="#000" stroke-width="0.2" font-weight="normal" text-anchor="end" transform="rotate(-45 356.43 169.8)">0.1</text>
<text x="346.57" y="187.6" font-size="8.5" stroke="#000" stroke-width="0.25" text-anchor="middle" textLength="19.12" lengthAdjust="spacingAndGlyphs">Crizo</text>
<rect x="368" y="79.2" width="8.25" height="84" fill="#7a1aa8" stroke="#222" stroke-width="0.35" stroke-opacity="0.6"/>
<line x1="372.12" y1="163.2" x2="372.12" y2="165.7" stroke="#000" stroke-width="0.8"/>
<text x="373.73" y="169.8" font-size="7" stroke="#000" stroke-width="0.2" font-weight="normal" text-anchor="end" transform="rotate(-45 373.73 169.8)">0</text>
<rect x="376.25" y="69.12" width="8.25" height="94.08" fill="#7a1aa8" stroke="#222" stroke-width="0.35" stroke-opacity="0.6"/>
<line x1="380.38" y1="69.12" x2="380.38" y2="66.6" stroke="#222" stroke-width="0.9"/>
<line x1="378.38" y1="66.6" x2="382.38" y2="66.6" stroke="#222" stroke-width="0.9"/>
<line x1="380.38" y1="163.2" x2="380.38" y2="165.7" stroke="#000" stroke-width="0.8"/>
<text x="381.98" y="169.8" font-size="7" stroke="#000" stroke-width="0.2" font-weight="normal" text-anchor="end" transform="rotate(-45 381.98 169.8)">0.03</text>
<rect x="384.5" y="111.12" width="8.25" height="52.08" fill="#7a1aa8" stroke="#222" stroke-width="0.35" stroke-opacity="0.6"/>
<line x1="388.62" y1="111.12" x2="388.62" y2="107.76" stroke="#222" stroke-width="0.9"/>
<line x1="386.62" y1="107.76" x2="390.62" y2="107.76" stroke="#222" stroke-width="0.9"/>
<line x1="388.62" y1="163.2" x2="388.62" y2="165.7" stroke="#000" stroke-width="0.8"/>
<text x="390.23" y="169.8" font-size="7" stroke="#000" stroke-width="0.2" font-weight="normal" text-anchor="end" transform="rotate(-45 390.23 169.8)">0.1</text>
<text x="380.38" y="187.6" font-size="8.5" stroke="#000" stroke-width="0.25" text-anchor="middle" textLength="14.88" lengthAdjust="spacingAndGlyphs">Ceri</text>
<rect x="401.3" y="79.2" width="8.25" height="84" fill="#ff8c1a" stroke="#222" stroke-width="0.35" stroke-opacity="0.6"/>
<line x1="405.43" y1="163.2" x2="405.43" y2="165.7" stroke="#000" stroke-width="0.8"/>
<text x="407.03" y="169.8" font-size="7" stroke="#000" stroke-width="0.2" font-weight="normal" text-anchor="end" transform="rotate(-45 407.03 169.8)">0</text>
<rect x="409.55" y="135.48" width="8.25" height="27.72" fill="#ff8c1a" stroke="#222" stroke-width="0.35" stroke-opacity="0.6"/>
<line x1="411.05" y1="135.18" x2="416.3" y2="135.18" stroke="#222" stroke-width="0.9"/>
<line x1="413.68" y1="163.2" x2="413.68" y2="165.7" stroke="#000" stroke-width="0.8"/>
<text x="415.28" y="169.8" font-size="7" stroke="#000" stroke-width="0.2" font-weight="normal" text-anchor="end" transform="rotate(-45 415.28 169.8)">0.03</text>
<rect x="417.8" y="148.92" width="8.25" height="14.28" fill="#ff8c1a" stroke="#222" stroke-width="0.35" stroke-opacity="0.6"/>
<line x1="421.93" y1="148.92" x2="421.93" y2="148.08" stroke="#222" stroke-width="0.9"/>
<line x1="419.93" y1="148.08" x2="423.93" y2="148.08" stroke="#222" stroke-width="0.9"/>
<line x1="421.93" y1="163.2" x2="421.93" y2="165.7" stroke="#000" stroke-width="0.8"/>
<text x="423.53" y="169.8" font-size="7" stroke="#000" stroke-width="0.2" font-weight="normal" text-anchor="end" transform="rotate(-45 423.53 169.8)">0.1</text>
<text x="413.68" y="187.6" font-size="8.5" stroke="#000" stroke-width="0.25" text-anchor="middle" textLength="19.56" lengthAdjust="spacingAndGlyphs">Entre</text>
<rect x="434.6" y="79.2" width="8.25" height="84" fill="#1c24e8" stroke="#222" stroke-width="0.35" stroke-opacity="0.6"/>
<line x1="438.73" y1="163.2" x2="438.73" y2="165.7" stroke="#000" stroke-width="0.8"/>
<text x="440.33" y="169.8" font-size="7" stroke="#000" stroke-width="0.2" font-weight="normal" text-anchor="end" transform="rotate(-45 440.33 169.8)">0</text>
<rect x="442.85" y="153.12" width="8.25" height="10.08" fill="#1c24e8" stroke="#222" stroke-width="0.35" stroke-opacity="0.6"/>
<line x1="444.35" y1="152.82" x2="449.6" y2="152.82" stroke="#222" stroke-width="0.9"/>
<line x1="446.98" y1="163.2" x2="446.98" y2="165.7" stroke="#000" stroke-width="0.8"/>
<text x="448.58" y="169.8" font-size="7" stroke="#000" stroke-width="0.2" font-weight="normal" text-anchor="end" transform="rotate(-45 448.58 169.8)">0.03</text>
<rect x="451.1" y="154.8" width="8.25" height="8.4" fill="#1c24e8" stroke="#222" stroke-width="0.35" stroke-opacity="0.6"/>
<line x1="452.6" y1="154.5" x2="457.85" y2="154.5" stroke="#222" stroke-width="0.9"/>
<line x1="455.23" y1="163.2" x2="455.23" y2="165.7" stroke="#000" stroke-width="0.8"/>
<text x="456.83" y="169.8" font-size="7" stroke="#000" stroke-width="0.2" font-weight="normal" text-anchor="end" transform="rotate(-45 456.83 169.8)">0.1</text>
<text x="446.98" y="187.6" font-size="8.5" stroke="#000" stroke-width="0.25" text-anchor="middle" textLength="18.7" lengthAdjust="spacingAndGlyphs">Lorla</text>
<rect x="468" y="79.2" width="8.25" height="84" fill="#f21c1c" stroke="#222" stroke-width="0.35" stroke-opacity="0.6"/>
<line x1="472.12" y1="163.2" x2="472.12" y2="165.7" stroke="#000" stroke-width="0.8"/>
<text x="473.73" y="169.8" font-size="7" stroke="#000" stroke-width="0.2" font-weight="normal" text-anchor="end" transform="rotate(-45 473.73 169.8)">0</text>
<rect x="476.25" y="149.76" width="8.25" height="13.44" fill="#f21c1c" stroke="#222" stroke-width="0.35" stroke-opacity="0.6"/>
<line x1="480.38" y1="149.76" x2="480.38" y2="141.36" stroke="#222" stroke-width="0.9"/>
<line x1="478.38" y1="141.36" x2="482.38" y2="141.36" stroke="#222" stroke-width="0.9"/>
<line x1="480.38" y1="163.2" x2="480.38" y2="165.7" stroke="#000" stroke-width="0.8"/>
<text x="481.98" y="169.8" font-size="7" stroke="#000" stroke-width="0.2" font-weight="normal" text-anchor="end" transform="rotate(-45 481.98 169.8)">0.03</text>
<rect x="484.5" y="158.16" width="8.25" height="5.04" fill="#f21c1c" stroke="#222" stroke-width="0.35" stroke-opacity="0.6"/>
<line x1="486" y1="157.86" x2="491.25" y2="157.86" stroke="#222" stroke-width="0.9"/>
<line x1="488.62" y1="163.2" x2="488.62" y2="165.7" stroke="#000" stroke-width="0.8"/>
<text x="490.23" y="169.8" font-size="7" stroke="#000" stroke-width="0.2" font-weight="normal" text-anchor="end" transform="rotate(-45 490.23 169.8)">0.1</text>
<text x="480.38" y="187.6" font-size="8.5" stroke="#000" stroke-width="0.25" text-anchor="middle" textLength="19.13" lengthAdjust="spacingAndGlyphs">Repo</text>
<text x="494" y="172.5" font-size="7" stroke="#000" stroke-width="0.05" textLength="26" lengthAdjust="spacingAndGlyphs">(µmol/L)</text>
<text x="447" y="147.2" font-size="7.5" stroke="#000" stroke-width="0.25" text-anchor="middle">*</text>
<text x="455.5" y="147.2" font-size="7.5" stroke="#000" stroke-width="0.25" text-anchor="middle">*</text>
<text x="480.5" y="136.7" font-size="7.5" stroke="#000" stroke-width="0.25" text-anchor="middle">*</text>
<text x="489" y="136.7" font-size="7.5" stroke="#000" stroke-width="0.25" text-anchor="middle">*</text>
<text x="1" y="235.5" font-size="13" stroke="#000" stroke-width="0.25">C</text>
<text x="45.95" y="248.8" font-size="7.5" stroke="#000" stroke-width="0.25" text-anchor="middle" textLength="16.88" lengthAdjust="spacingAndGlyphs">Crizo</text>
<line x1="35.7" y1="252.4" x2="56.2" y2="252.4" stroke="#222" stroke-width="1.3"/>
<text x="69.7" y="248.8" font-size="7.5" stroke="#000" stroke-width="0.25" text-anchor="middle" textLength="13.13" lengthAdjust="spacingAndGlyphs">Ceri</text>
<line x1="58.9" y1="252.4" x2="80.5" y2="252.4" stroke="#222" stroke-width="1.3"/>
<text x="94" y="248.8" font-size="7.5" stroke="#000" stroke-width="0.25" text-anchor="middle" textLength="17.25" lengthAdjust="spacingAndGlyphs">Entre</text>
<line x1="83.5" y1="252.4" x2="104.5" y2="252.4" stroke="#222" stroke-width="1.3"/>
<text x="119.6" y="248.8" font-size="7.5" stroke="#000" stroke-width="0.25" text-anchor="middle" textLength="16.5" lengthAdjust="spacingAndGlyphs">Lorla</text>
<line x1="108" y1="252.4" x2="131.2" y2="252.4" stroke="#222" stroke-width="1.3"/>
<text x="143.35" y="248.8" font-size="7.5" stroke="#000" stroke-width="0.25" text-anchor="middle" textLength="16.88" lengthAdjust="spacingAndGlyphs">Repo</text>
<line x1="133" y1="252.4" x2="153.7" y2="252.4" stroke="#222" stroke-width="1.3"/>
<text x="27.3" y="262.4" font-size="8" stroke="#000" stroke-width="0.08" font-weight="normal" text-anchor="middle">0</text>
<text x="39.78" y="262.4" font-size="8" stroke="#000" stroke-width="0.08" font-weight="normal" text-anchor="middle" textLength="10.01" lengthAdjust="spacingAndGlyphs">0.1</text>
<text x="52.26" y="262.4" font-size="8" stroke="#000" stroke-width="0.08" font-weight="normal" text-anchor="middle" textLength="10.01" lengthAdjust="spacingAndGlyphs">0.3</text>
<text x="64.74" y="262.4" font-size="8" stroke="#000" stroke-width="0.08" font-weight="normal" text-anchor="middle" textLength="14.01" lengthAdjust="spacingAndGlyphs">0.03</text>
<text x="77.22" y="262.4" font-size="8" stroke="#000" stroke-width="0.08" font-weight="normal" text-anchor="middle" textLength="10.01" lengthAdjust="spacingAndGlyphs">0.1</text>
<text x="89.7" y="262.4" font-size="8" stroke="#000" stroke-width="0.08" font-weight="normal" text-anchor="middle" textLength="14.01" lengthAdjust="spacingAndGlyphs">0.03</text>
<text x="102.18" y="262.4" font-size="8" stroke="#000" stroke-width="0.08" font-weight="normal" text-anchor="middle" textLength="10.01" lengthAdjust="spacingAndGlyphs">0.1</text>
<text x="114.66" y="262.4" font-size="8" stroke="#000" stroke-width="0.08" font-weight="normal" text-anchor="middle" textLength="14.01" lengthAdjust="spacingAndGlyphs">0.03</text>
<text x="127.14" y="262.4" font-size="8" stroke="#000" stroke-width="0.08" font-weight="normal" text-anchor="middle" textLength="10.01" lengthAdjust="spacingAndGlyphs">0.1</text>
<text x="139.62" y="262.4" font-size="8" stroke="#000" stroke-width="0.08" font-weight="normal" text-anchor="middle" textLength="14.01" lengthAdjust="spacingAndGlyphs">0.03</text>
<text x="152.1" y="262.4" font-size="8" stroke="#000" stroke-width="0.08" font-weight="normal" text-anchor="middle" textLength="10.01" lengthAdjust="spacingAndGlyphs">0.1</text>
<text x="168" y="262.3" font-size="7.5" stroke="#000" stroke-width="0.25" textLength="21.89" lengthAdjust="spacingAndGlyphs">µmol/L</text>
<defs><filter id="bl" x="-20%" y="-60%" width="140%" height="220%"><feGaussianBlur stdDeviation="0.55"/></filter></defs>
<rect x="18.3" y="268.2" width="142.5" height="13.4" fill="#d3d3d3"/>
<g filter="url(#bl)"><rect x="21.89" y="272.4" width="10.82" height="4.4" rx="1.4" fill="rgb(10,10,10)"/><rect x="34.89" y="273" width="9.79" height="3.2" rx="1.4" fill="rgb(39,39,39)"/><rect x="48.66" y="273.8" width="7.21" height="1.6" rx="0.8" fill="rgb(146,146,146)"/><rect x="59.07" y="271.9" width="11.33" height="5.4" rx="1.4" fill="rgb(10,10,10)"/><rect x="71.81" y="272.1" width="10.82" height="5" rx="1.4" fill="rgb(10,10,10)"/><rect x="84.81" y="272.9" width="9.79" height="3.4" rx="1.4" fill="rgb(29,29,29)"/><rect x="98.06" y="273.35" width="8.24" height="2.5" rx="1.25" fill="rgb(68,68,68)"/><rect x="135.76" y="273.6" width="7.73" height="2" rx="1" fill="rgb(78,78,78)"/><rect x="148.5" y="273.85" width="7.21" height="1.5" rx="0.75" fill="rgb(193,193,193)"/></g>
<text x="168" y="277.7" font-size="7" stroke="#000" stroke-width="0.25" textLength="23.1" lengthAdjust="spacingAndGlyphs">p-ROS1</text>
<rect x="18.3" y="285" width="142.5" height="13.4" fill="#d2d2d2"/>
<g filter="url(#bl)"><rect x="22.15" y="288.85" width="10.3" height="4.3" rx="1.4" fill="rgb(19,19,19)"/><rect x="34.63" y="288.85" width="10.3" height="4.3" rx="1.4" fill="rgb(19,19,19)"/><rect x="47.11" y="288.85" width="10.3" height="4.3" rx="1.4" fill="rgb(19,19,19)"/><rect x="59.59" y="288.85" width="10.3" height="4.3" rx="1.4" fill="rgb(19,19,19)"/><rect x="72.07" y="288.85" width="10.3" height="4.3" rx="1.4" fill="rgb(19,19,19)"/><rect x="84.55" y="288.85" width="10.3" height="4.3" rx="1.4" fill="rgb(19,19,19)"/><rect x="97.03" y="288.85" width="10.3" height="4.3" rx="1.4" fill="rgb(19,19,19)"/><rect x="109.51" y="288.85" width="10.3" height="4.3" rx="1.4" fill="rgb(19,19,19)"/><rect x="121.99" y="288.85" width="10.3" height="4.3" rx="1.4" fill="rgb(19,19,19)"/><rect x="134.47" y="288.85" width="10.3" height="4.3" rx="1.4" fill="rgb(19,19,19)"/><rect x="146.95" y="288.85" width="10.3" height="4.3" rx="1.4" fill="rgb(19,19,19)"/></g>
<text x="168" y="294.1" font-size="7" stroke="#000" stroke-width="0.25" textLength="21.35" lengthAdjust="spacingAndGlyphs">t-ROS1</text>
<rect x="18.3" y="302" width="142.5" height="13.4" fill="#d5d5d5"/>
<g filter="url(#bl)"><rect x="22.15" y="307.2" width="10.3" height="3.6" rx="1.4" fill="rgb(19,19,19)"/><rect x="34.89" y="307.6" width="9.79" height="2.8" rx="1.4" fill="rgb(58,58,58)"/><rect x="47.63" y="307.9" width="9.27" height="2.2" rx="1.1" fill="rgb(107,107,107)"/><rect x="59.85" y="307.75" width="9.79" height="2.5" rx="1.25" fill="rgb(78,78,78)"/><rect x="72.33" y="307.6" width="9.79" height="2.8" rx="1.4" fill="rgb(49,49,49)"/><rect x="85.06" y="307.9" width="9.27" height="2.2" rx="1.1" fill="rgb(117,117,117)"/><rect x="97.29" y="307.5" width="9.79" height="3" rx="1.4" fill="rgb(49,49,49)"/><rect x="110.28" y="308" width="8.76" height="2" rx="1" fill="rgb(136,136,136)"/><rect x="122.76" y="308" width="8.76" height="2" rx="1" fill="rgb(136,136,136)"/><rect x="135.24" y="307.95" width="8.76" height="2.1" rx="1.05" fill="rgb(127,127,127)"/><rect x="147.21" y="307.6" width="9.79" height="2.8" rx="1.4" fill="rgb(58,58,58)"/></g>
<text x="168" y="312.1" font-size="7" stroke="#000" stroke-width="0.25" textLength="18.89" lengthAdjust="spacingAndGlyphs">p-AKT</text>
<rect x="18.3" y="319.2" width="142.5" height="13.4" fill="#d3d3d3"/>
<g filter="url(#bl)"><rect x="21.89" y="323.95" width="10.82" height="5.3" rx="1.4" fill="rgb(10,10,10)"/><rect x="34.37" y="323.95" width="10.82" height="5.3" rx="1.4" fill="rgb(10,10,10)"/><rect x="46.85" y="323.95" width="10.82" height="5.3" rx="1.4" fill="rgb(10,10,10)"/><rect x="59.33" y="323.95" width="10.82" height="5.3" rx="1.4" fill="rgb(10,10,10)"/><rect x="71.81" y="323.95" width="10.82" height="5.3" rx="1.4" fill="rgb(10,10,10)"/><rect x="84.29" y="323.95" width="10.82" height="5.3" rx="1.4" fill="rgb(10,10,10)"/><rect x="96.77" y="323.95" width="10.82" height="5.3" rx="1.4" fill="rgb(10,10,10)"/><rect x="109.25" y="323.95" width="10.82" height="5.3" rx="1.4" fill="rgb(10,10,10)"/><rect x="121.73" y="323.95" width="10.82" height="5.3" rx="1.4" fill="rgb(10,10,10)"/><rect x="134.21" y="323.95" width="10.82" height="5.3" rx="1.4" fill="rgb(10,10,10)"/><rect x="146.69" y="323.95" width="10.82" height="5.3" rx="1.4" fill="rgb(10,10,10)"/></g>
<text x="168" y="329.7" font-size="7" stroke="#000" stroke-width="0.25" textLength="17.14" lengthAdjust="spacingAndGlyphs">t-AKT</text>
<rect x="18.3" y="335.7" width="142.5" height="13.4" fill="#d2d2d2"/>
<g filter="url(#bl)"><rect x="21.89" y="339.3" width="10.82" height="6" rx="1.4" fill="rgb(10,10,10)"/><rect x="34.63" y="340.1" width="10.3" height="4.4" rx="1.4" fill="rgb(19,19,19)"/><rect x="46.85" y="339.8" width="10.82" height="5" rx="1.4" fill="rgb(10,10,10)"/><rect x="59.59" y="340.3" width="10.3" height="4" rx="1.4" fill="rgb(68,68,68)"/><rect x="72.07" y="340.1" width="10.3" height="4.4" rx="1.4" fill="rgb(19,19,19)"/><rect x="84.55" y="340.3" width="10.3" height="4" rx="1.4" fill="rgb(68,68,68)"/><rect x="97.03" y="340.3" width="10.3" height="4" rx="1.4" fill="rgb(78,78,78)"/><rect x="109.51" y="340.1" width="10.3" height="4.4" rx="1.4" fill="rgb(19,19,19)"/><rect x="122.76" y="341.3" width="8.76" height="2" rx="1" fill="rgb(117,117,117)"/><rect x="134.47" y="340.3" width="10.3" height="4" rx="1.4" fill="rgb(39,39,39)"/><rect x="147.72" y="341.3" width="8.76" height="2" rx="1" fill="rgb(136,136,136)"/></g>
<text x="168" y="345.4" font-size="7" stroke="#000" stroke-width="0.25" textLength="19.25" lengthAdjust="spacingAndGlyphs">p-ERK</text>
<rect x="18.3" y="352.6" width="142.5" height="13.4" fill="#d3d3d3"/>
<g filter="url(#bl)"><rect x="21.74" y="357" width="11.12" height="5.2" rx="1.4" fill="rgb(10,10,10)"/><rect x="34.22" y="357" width="11.12" height="5.2" rx="1.4" fill="rgb(10,10,10)"/><rect x="46.7" y="357" width="11.12" height="5.2" rx="1.4" fill="rgb(10,10,10)"/><rect x="59.18" y="357" width="11.12" height="5.2" rx="1.4" fill="rgb(10,10,10)"/><rect x="71.66" y="357" width="11.12" height="5.2" rx="1.4" fill="rgb(10,10,10)"/><rect x="84.14" y="357" width="11.12" height="5.2" rx="1.4" fill="rgb(10,10,10)"/><rect x="96.62" y="357" width="11.12" height="5.2" rx="1.4" fill="rgb(10,10,10)"/><rect x="109.1" y="357" width="11.12" height="5.2" rx="1.4" fill="rgb(10,10,10)"/><rect x="121.58" y="357" width="11.12" height="5.2" rx="1.4" fill="rgb(10,10,10)"/><rect x="134.06" y="357" width="11.12" height="5.2" rx="1.4" fill="rgb(10,10,10)"/><rect x="146.54" y="357" width="11.12" height="5.2" rx="1.4" fill="rgb(10,10,10)"/></g>
<text x="168" y="362.7" font-size="7" stroke="#000" stroke-width="0.25" textLength="17.5" lengthAdjust="spacingAndGlyphs">t-ERK</text>
<rect x="18.3" y="369.7" width="142.5" height="13.4" fill="#d3d3d3"/>
<g filter="url(#bl)"><rect x="21.89" y="372.9" width="10.82" height="6" rx="1.4" fill="rgb(10,10,10)"/><rect x="35.15" y="374.9" width="9.27" height="2" rx="1" fill="rgb(78,78,78)"/><rect x="47.63" y="374.9" width="9.27" height="2" rx="1" fill="rgb(78,78,78)"/><rect x="59.33" y="373.15" width="10.82" height="5.5" rx="1.4" fill="rgb(10,10,10)"/><rect x="72.07" y="373.7" width="10.3" height="4.4" rx="1.4" fill="rgb(29,29,29)"/><rect x="85.06" y="374.9" width="9.27" height="2" rx="1" fill="rgb(88,88,88)"/><rect x="97.54" y="374.8" width="9.27" height="2.2" rx="1.1" fill="rgb(78,78,78)"/><rect x="110.02" y="374.8" width="9.27" height="2.2" rx="1.1" fill="rgb(78,78,78)"/><rect x="122.5" y="374.8" width="9.27" height="2.2" rx="1.1" fill="rgb(78,78,78)"/><rect x="134.99" y="374.8" width="9.27" height="2.2" rx="1.1" fill="rgb(78,78,78)"/><rect x="147.47" y="374.8" width="9.27" height="2.2" rx="1.1" fill="rgb(68,68,68)"/></g>
<text x="168" y="379" font-size="7" stroke="#000" stroke-width="0.25" textLength="24.96" lengthAdjust="spacingAndGlyphs">p-STAT3</text>
<rect x="18.3" y="386.8" width="142.5" height="13.4" fill="#e0e0e0"/>
<g filter="url(#bl)"><rect x="22.41" y="391.75" width="9.79" height="2.9" rx="1.4" fill="rgb(39,39,39)"/><rect x="34.89" y="391.75" width="9.79" height="2.9" rx="1.4" fill="rgb(39,39,39)"/><rect x="47.37" y="391.75" width="9.79" height="2.9" rx="1.4" fill="rgb(39,39,39)"/><rect x="59.85" y="391.75" width="9.79" height="2.9" rx="1.4" fill="rgb(39,39,39)"/><rect x="72.33" y="391.75" width="9.79" height="2.9" rx="1.4" fill="rgb(39,39,39)"/><rect x="84.81" y="391.75" width="9.79" height="2.9" rx="1.4" fill="rgb(39,39,39)"/><rect x="97.29" y="391.75" width="9.79" height="2.9" rx="1.4" fill="rgb(39,39,39)"/><rect x="109.77" y="391.75" width="9.79" height="2.9" rx="1.4" fill="rgb(39,39,39)"/><rect x="122.25" y="391.75" width="9.79" height="2.9" rx="1.4" fill="rgb(39,39,39)"/><rect x="134.73" y="391.75" width="9.79" height="2.9" rx="1.4" fill="rgb(39,39,39)"/><rect x="147.21" y="391.75" width="9.79" height="2.9" rx="1.4" fill="rgb(39,39,39)"/></g>
<text x="168" y="396.3" font-size="7" stroke="#000" stroke-width="0.25" textLength="23.21" lengthAdjust="spacingAndGlyphs">t-STAT3</text>
<rect x="18.3" y="403.4" width="142.5" height="13.4" fill="#d3d3d3"/>
<g filter="url(#bl)"><rect x="21.02" y="406.8" width="12.57" height="6" rx="1.4" fill="rgb(10,10,10)"/><rect x="33.5" y="406.8" width="12.57" height="6" rx="1.4" fill="rgb(10,10,10)"/><rect x="45.98" y="406.8" width="12.57" height="6" rx="1.4" fill="rgb(10,10,10)"/><rect x="58.46" y="406.8" width="12.57" height="6" rx="1.4" fill="rgb(10,10,10)"/><rect x="70.94" y="406.8" width="12.57" height="6" rx="1.4" fill="rgb(10,10,10)"/><rect x="83.42" y="406.8" width="12.57" height="6" rx="1.4" fill="rgb(10,10,10)"/><rect x="95.9" y="406.8" width="12.57" height="6" rx="1.4" fill="rgb(10,10,10)"/><rect x="108.38" y="406.8" width="12.57" height="6" rx="1.4" fill="rgb(10,10,10)"/><rect x="120.86" y="406.8" width="12.57" height="6" rx="1.4" fill="rgb(10,10,10)"/><rect x="133.34" y="406.8" width="12.57" height="6" rx="1.4" fill="rgb(10,10,10)"/><rect x="145.82" y="406.8" width="12.57" height="6" rx="1.4" fill="rgb(10,10,10)"/></g>
<text x="168" y="412.9" font-size="7" stroke="#000" stroke-width="0.25" textLength="21.69" lengthAdjust="spacingAndGlyphs">β-Actin</text>
<text x="201.5" y="236" font-size="13" stroke="#000" stroke-width="0.25">D</text>
<text x="314.8" y="229.4" font-size="9.6" stroke="#000" stroke-width="0.25" text-anchor="middle" textLength="79.5" lengthAdjust="spacingAndGlyphs">YU1078 xenograft</text>
<line x1="247.2" y1="235.35" x2="247.2" y2="330.1" stroke="#000" stroke-width="1.2"/>
<line x1="246.7" y1="329.6" x2="383.08" y2="329.6" stroke="#000" stroke-width="1.2"/>
<line x1="244.2" y1="329.6" x2="247.2" y2="329.6" stroke="#000" stroke-width="1"/>
<text x="244" y="332.3" font-size="7.85" stroke="#000" stroke-width="0.08" font-weight="normal" text-anchor="end">0</text>
<line x1="244.2" y1="298.35" x2="247.2" y2="298.35" stroke="#000" stroke-width="1"/>
<text x="244" y="301.05" font-size="7.85" stroke="#000" stroke-width="0.08" font-weight="normal" text-anchor="end" textLength="11.79" lengthAdjust="spacingAndGlyphs">500</text>
<line x1="244.2" y1="267.1" x2="247.2" y2="267.1" stroke="#000" stroke-width="1"/>
<text x="244" y="269.8" font-size="7.85" stroke="#000" stroke-width="0.08" font-weight="normal" text-anchor="end" textLength="17.68" lengthAdjust="spacingAndGlyphs">1,000</text>
<line x1="244.2" y1="235.85" x2="247.2" y2="235.85" stroke="#000" stroke-width="1"/>
<text x="244" y="238.55" font-size="7.85" stroke="#000" stroke-width="0.08" font-weight="normal" text-anchor="end" textLength="17.68" lengthAdjust="spacingAndGlyphs">1,500</text>
<line x1="260.02" y1="329.6" x2="260.02" y2="332.4" stroke="#000" stroke-width="1"/>
<text x="260.02" y="340.3" font-size="7.4" stroke="#000" stroke-width="0.08" font-weight="normal" text-anchor="middle">3</text>
<line x1="277.6" y1="329.6" x2="277.6" y2="332.4" stroke="#000" stroke-width="1"/>
<text x="277.6" y="340.3" font-size="7.4" stroke="#000" stroke-width="0.08" font-weight="normal" text-anchor="middle">6</text>
<line x1="295.18" y1="329.6" x2="295.18" y2="332.4" stroke="#000" stroke-width="1"/>
<text x="295.18" y="340.3" font-size="7.4" stroke="#000" stroke-width="0.08" font-weight="normal" text-anchor="middle">9</text>
<line x1="312.76" y1="329.6" x2="312.76" y2="332.4" stroke="#000" stroke-width="1"/>
<text x="312.76" y="340.3" font-size="7.4" stroke="#000" stroke-width="0.08" font-weight="normal" text-anchor="middle" textLength="7.41" lengthAdjust="spacingAndGlyphs">12</text>
<line x1="330.34" y1="329.6" x2="330.34" y2="332.4" stroke="#000" stroke-width="1"/>
<text x="330.34" y="340.3" font-size="7.4" stroke="#000" stroke-width="0.08" font-weight="normal" text-anchor="middle" textLength="7.41" lengthAdjust="spacingAndGlyphs">15</text>
<line x1="347.92" y1="329.6" x2="347.92" y2="332.4" stroke="#000" stroke-width="1"/>
<text x="347.92" y="340.3" font-size="7.4" stroke="#000" stroke-width="0.08" font-weight="normal" text-anchor="middle" textLength="7.41" lengthAdjust="spacingAndGlyphs">18</text>
<line x1="365.5" y1="329.6" x2="365.5" y2="332.4" stroke="#000" stroke-width="1"/>
<text x="365.5" y="340.3" font-size="7.4" stroke="#000" stroke-width="0.08" font-weight="normal" text-anchor="middle" textLength="7.41" lengthAdjust="spacingAndGlyphs">21</text>
<line x1="383.08" y1="329.6" x2="383.08" y2="332.4" stroke="#000" stroke-width="1"/>
<text x="383.08" y="340.3" font-size="7.4" stroke="#000" stroke-width="0.08" font-weight="normal" text-anchor="middle" textLength="7.41" lengthAdjust="spacingAndGlyphs">24</text>
<text x="316.5" y="350.6" font-size="7.9" stroke="#000" stroke-width="0.25" text-anchor="middle" textLength="17" lengthAdjust="spacingAndGlyphs">Days</text>
<text x="222.5" y="280.8" font-size="7.6" text-anchor="middle" textLength="72.5" lengthAdjust="spacingAndGlyphs" stroke="#000" stroke-width="0.2" transform="rotate(-90 222.5 280.8)">Tumor volume (mm<tspan font-size="5" dy="-2.5">3</tspan><tspan dy="2.5">)</tspan></text>
<path d="M248.3 317.1 L260.02 313.98 L271.74 307.73 L283.46 301.48 L295.18 295.23 L306.9 293.04 L318.62 288.66 L330.34 284.98 L342.06 285.54 L353.78 276.79 L365.5 275.54" stroke="#000" stroke-width="1.2" fill="none"/>
<circle cx="248.3" cy="317.1" r="2.4" fill="#000"/>
<line x1="260.02" y1="314.91" x2="260.02" y2="313.04" stroke="#000" stroke-width="1"/>
<line x1="258.02" y1="313.04" x2="262.02" y2="313.04" stroke="#000" stroke-width="1"/>
<line x1="258.02" y1="314.91" x2="262.02" y2="314.91" stroke="#000" stroke-width="1"/>
<circle cx="260.02" cy="313.98" r="2.4" fill="#000"/>
<line x1="271.74" y1="310.85" x2="271.74" y2="304.6" stroke="#000" stroke-width="1"/>
<line x1="269.74" y1="304.6" x2="273.74" y2="304.6" stroke="#000" stroke-width="1"/>
<line x1="269.74" y1="310.85" x2="273.74" y2="310.85" stroke="#000" stroke-width="1"/>
<circle cx="271.74" cy="307.73" r="2.4" fill="#000"/>
<line x1="283.46" y1="311.48" x2="283.46" y2="291.48" stroke="#000" stroke-width="1"/>
<line x1="281.46" y1="291.48" x2="285.46" y2="291.48" stroke="#000" stroke-width="1"/>
<line x1="281.46" y1="311.48" x2="285.46" y2="311.48" stroke="#000" stroke-width="1"/>
<circle cx="283.46" cy="301.48" r="2.4" fill="#000"/>
<line x1="295.18" y1="308.04" x2="295.18" y2="282.41" stroke="#000" stroke-width="1"/>
<line x1="293.18" y1="282.41" x2="297.18" y2="282.41" stroke="#000" stroke-width="1"/>
<line x1="293.18" y1="308.04" x2="297.18" y2="308.04" stroke="#000" stroke-width="1"/>
<circle cx="295.18" cy="295.23" r="2.4" fill="#000"/>
<line x1="306.9" y1="309.91" x2="306.9" y2="276.16" stroke="#000" stroke-width="1"/>
<line x1="304.9" y1="276.16" x2="308.9" y2="276.16" stroke="#000" stroke-width="1"/>
<line x1="304.9" y1="309.91" x2="308.9" y2="309.91" stroke="#000" stroke-width="1"/>
<circle cx="306.9" cy="293.04" r="2.4" fill="#000"/>
<line x1="318.62" y1="308.35" x2="318.62" y2="268.98" stroke="#000" stroke-width="1"/>
<line x1="316.62" y1="268.98" x2="320.62" y2="268.98" stroke="#000" stroke-width="1"/>
<line x1="316.62" y1="308.35" x2="320.62" y2="308.35" stroke="#000" stroke-width="1"/>
<circle cx="318.62" cy="288.66" r="2.4" fill="#000"/>
<line x1="330.34" y1="303.73" x2="330.34" y2="266.23" stroke="#000" stroke-width="1"/>
<line x1="328.34" y1="266.23" x2="332.34" y2="266.23" stroke="#000" stroke-width="1"/>
<line x1="328.34" y1="303.73" x2="332.34" y2="303.73" stroke="#000" stroke-width="1"/>
<circle cx="330.34" cy="284.98" r="2.4" fill="#000"/>
<line x1="342.06" y1="300.54" x2="342.06" y2="270.54" stroke="#000" stroke-width="1"/>
<line x1="340.06" y1="270.54" x2="344.06" y2="270.54" stroke="#000" stroke-width="1"/>
<line x1="340.06" y1="300.54" x2="344.06" y2="300.54" stroke="#000" stroke-width="1"/>
<circle cx="342.06" cy="285.54" r="2.4" fill="#000"/>
<line x1="353.78" y1="297.1" x2="353.78" y2="256.48" stroke="#000" stroke-width="1"/>
<line x1="351.78" y1="256.48" x2="355.78" y2="256.48" stroke="#000" stroke-width="1"/>
<line x1="351.78" y1="297.1" x2="355.78" y2="297.1" stroke="#000" stroke-width="1"/>
<circle cx="353.78" cy="276.79" r="2.4" fill="#000"/>
<line x1="365.5" y1="296.79" x2="365.5" y2="254.29" stroke="#000" stroke-width="1"/>
<line x1="363.5" y1="254.29" x2="367.5" y2="254.29" stroke="#000" stroke-width="1"/>
<line x1="363.5" y1="296.79" x2="367.5" y2="296.79" stroke="#000" stroke-width="1"/>
<circle cx="365.5" cy="275.54" r="2.4" fill="#000"/>
<path d="M248.3 317.1 L260.02 317.73 L271.74 318.35 L283.46 318.98 L295.18 320.23 L306.9 321.79 L318.62 322.6 L330.34 322.73 L342.06 322.85 L353.78 323.23 L365.5 323.35" stroke="#1f8a1f" stroke-width="1.2" fill="none"/>
<circle cx="248.3" cy="317.1" r="2.4" fill="#1f8a1f"/>
<circle cx="260.02" cy="317.73" r="2.4" fill="#1f8a1f"/>
<circle cx="271.74" cy="318.35" r="2.4" fill="#1f8a1f"/>
<circle cx="283.46" cy="318.98" r="2.4" fill="#1f8a1f"/>
<circle cx="295.18" cy="320.23" r="2.4" fill="#1f8a1f"/>
<circle cx="306.9" cy="321.79" r="2.4" fill="#1f8a1f"/>
<circle cx="318.62" cy="322.6" r="2.4" fill="#1f8a1f"/>
<circle cx="330.34" cy="322.73" r="2.4" fill="#1f8a1f"/>
<circle cx="342.06" cy="322.85" r="2.4" fill="#1f8a1f"/>
<circle cx="353.78" cy="323.23" r="2.4" fill="#1f8a1f"/>
<circle cx="365.5" cy="323.35" r="2.4" fill="#1f8a1f"/>
<path d="M248.3 317.1 L260.02 315.54 L271.74 314.6 L283.46 313.98 L295.18 312.41 L306.9 312.41 L318.62 308.66 L330.34 308.66 L342.06 308.98 L353.78 306.16 L365.5 303.35" stroke="#7a1aa8" stroke-width="1.2" fill="none"/>
<path d="M248.3 314.22L250.94 319.02L245.66 319.02Z" fill="#7a1aa8"/>
<line x1="260.02" y1="316.16" x2="260.02" y2="314.91" stroke="#7a1aa8" stroke-width="1"/>
<line x1="258.02" y1="314.91" x2="262.02" y2="314.91" stroke="#7a1aa8" stroke-width="1"/>
<line x1="258.02" y1="316.16" x2="262.02" y2="316.16" stroke="#7a1aa8" stroke-width="1"/>
<path d="M260.02 312.66L262.66 317.46L257.38 317.46Z" fill="#7a1aa8"/>
<line x1="271.74" y1="317.1" x2="271.74" y2="312.1" stroke="#7a1aa8" stroke-width="1"/>
<line x1="269.74" y1="312.1" x2="273.74" y2="312.1" stroke="#7a1aa8" stroke-width="1"/>
<line x1="269.74" y1="317.1" x2="273.74" y2="317.1" stroke="#7a1aa8" stroke-width="1"/>
<path d="M271.74 311.72L274.38 316.52L269.1 316.52Z" fill="#7a1aa8"/>
<line x1="283.46" y1="315.85" x2="283.46" y2="312.1" stroke="#7a1aa8" stroke-width="1"/>
<line x1="281.46" y1="312.1" x2="285.46" y2="312.1" stroke="#7a1aa8" stroke-width="1"/>
<line x1="281.46" y1="315.85" x2="285.46" y2="315.85" stroke="#7a1aa8" stroke-width="1"/>
<path d="M283.46 311.1L286.1 315.9L280.82 315.9Z" fill="#7a1aa8"/>
<line x1="295.18" y1="314.91" x2="295.18" y2="309.91" stroke="#7a1aa8" stroke-width="1"/>
<line x1="293.18" y1="309.91" x2="297.18" y2="309.91" stroke="#7a1aa8" stroke-width="1"/>
<line x1="293.18" y1="314.91" x2="297.18" y2="314.91" stroke="#7a1aa8" stroke-width="1"/>
<path d="M295.18 309.53L297.82 314.33L292.54 314.33Z" fill="#7a1aa8"/>
<line x1="306.9" y1="314.91" x2="306.9" y2="309.91" stroke="#7a1aa8" stroke-width="1"/>
<line x1="304.9" y1="309.91" x2="308.9" y2="309.91" stroke="#7a1aa8" stroke-width="1"/>
<line x1="304.9" y1="314.91" x2="308.9" y2="314.91" stroke="#7a1aa8" stroke-width="1"/>
<path d="M306.9 309.53L309.54 314.33L304.26 314.33Z" fill="#7a1aa8"/>
<line x1="318.62" y1="311.48" x2="318.62" y2="305.85" stroke="#7a1aa8" stroke-width="1"/>
<line x1="316.62" y1="305.85" x2="320.62" y2="305.85" stroke="#7a1aa8" stroke-width="1"/>
<line x1="316.62" y1="311.48" x2="320.62" y2="311.48" stroke="#7a1aa8" stroke-width="1"/>
<path d="M318.62 305.78L321.26 310.58L315.98 310.58Z" fill="#7a1aa8"/>
<line x1="330.34" y1="310.85" x2="330.34" y2="306.48" stroke="#7a1aa8" stroke-width="1"/>
<line x1="328.34" y1="306.48" x2="332.34" y2="306.48" stroke="#7a1aa8" stroke-width="1"/>
<line x1="328.34" y1="310.85" x2="332.34" y2="310.85" stroke="#7a1aa8" stroke-width="1"/>
<path d="M330.34 305.78L332.98 310.58L327.7 310.58Z" fill="#7a1aa8"/>
<line x1="342.06" y1="310.85" x2="342.06" y2="307.1" stroke="#7a1aa8" stroke-width="1"/>
<line x1="340.06" y1="307.1" x2="344.06" y2="307.1" stroke="#7a1aa8" stroke-width="1"/>
<line x1="340.06" y1="310.85" x2="344.06" y2="310.85" stroke="#7a1aa8" stroke-width="1"/>
<path d="M342.06 306.1L344.7 310.9L339.42 310.9Z" fill="#7a1aa8"/>
<line x1="353.78" y1="309.91" x2="353.78" y2="302.41" stroke="#7a1aa8" stroke-width="1"/>
<line x1="351.78" y1="302.41" x2="355.78" y2="302.41" stroke="#7a1aa8" stroke-width="1"/>
<line x1="351.78" y1="309.91" x2="355.78" y2="309.91" stroke="#7a1aa8" stroke-width="1"/>
<path d="M353.78 303.28L356.42 308.08L351.14 308.08Z" fill="#7a1aa8"/>
<line x1="365.5" y1="308.98" x2="365.5" y2="297.73" stroke="#7a1aa8" stroke-width="1"/>
<line x1="363.5" y1="297.73" x2="367.5" y2="297.73" stroke="#7a1aa8" stroke-width="1"/>
<line x1="363.5" y1="308.98" x2="367.5" y2="308.98" stroke="#7a1aa8" stroke-width="1"/>
<path d="M365.5 300.47L368.14 305.27L362.86 305.27Z" fill="#7a1aa8"/>
<path d="M248.3 317.1 L260.02 314.29 L271.74 316.16 L283.46 316.79 L295.18 317.41 L306.9 318.04 L318.62 318.48 L330.34 318.66 L342.06 318.66 L353.78 318.66 L365.5 318.66" stroke="#ff8c1a" stroke-width="1.2" fill="none"/>
<path d="M248.3 319.98L250.94 315.18L245.66 315.18Z" fill="#ff8c1a"/>
<line x1="260.02" y1="314.91" x2="260.02" y2="313.66" stroke="#ff8c1a" stroke-width="1"/>
<line x1="258.02" y1="313.66" x2="262.02" y2="313.66" stroke="#ff8c1a" stroke-width="1"/>
<line x1="258.02" y1="314.91" x2="262.02" y2="314.91" stroke="#ff8c1a" stroke-width="1"/>
<path d="M260.02 317.17L262.66 312.37L257.38 312.37Z" fill="#ff8c1a"/>
<line x1="271.74" y1="317.73" x2="271.74" y2="314.6" stroke="#ff8c1a" stroke-width="1"/>
<line x1="269.74" y1="314.6" x2="273.74" y2="314.6" stroke="#ff8c1a" stroke-width="1"/>
<line x1="269.74" y1="317.73" x2="273.74" y2="317.73" stroke="#ff8c1a" stroke-width="1"/>
<path d="M271.74 319.04L274.38 314.24L269.1 314.24Z" fill="#ff8c1a"/>
<line x1="283.46" y1="317.73" x2="283.46" y2="315.85" stroke="#ff8c1a" stroke-width="1"/>
<line x1="281.46" y1="315.85" x2="285.46" y2="315.85" stroke="#ff8c1a" stroke-width="1"/>
<line x1="281.46" y1="317.73" x2="285.46" y2="317.73" stroke="#ff8c1a" stroke-width="1"/>
<path d="M283.46 319.67L286.1 314.87L280.82 314.87Z" fill="#ff8c1a"/>
<line x1="295.18" y1="318.04" x2="295.18" y2="316.79" stroke="#ff8c1a" stroke-width="1"/>
<line x1="293.18" y1="316.79" x2="297.18" y2="316.79" stroke="#ff8c1a" stroke-width="1"/>
<line x1="293.18" y1="318.04" x2="297.18" y2="318.04" stroke="#ff8c1a" stroke-width="1"/>
<path d="M295.18 320.29L297.82 315.49L292.54 315.49Z" fill="#ff8c1a"/>
<line x1="306.9" y1="318.35" x2="306.9" y2="317.73" stroke="#ff8c1a" stroke-width="1"/>
<line x1="304.9" y1="317.73" x2="308.9" y2="317.73" stroke="#ff8c1a" stroke-width="1"/>
<line x1="304.9" y1="318.35" x2="308.9" y2="318.35" stroke="#ff8c1a" stroke-width="1"/>
<path d="M306.9 320.92L309.54 316.12L304.26 316.12Z" fill="#ff8c1a"/>
<line x1="318.62" y1="318.79" x2="318.62" y2="318.16" stroke="#ff8c1a" stroke-width="1"/>
<line x1="316.62" y1="318.16" x2="320.62" y2="318.16" stroke="#ff8c1a" stroke-width="1"/>
<line x1="316.62" y1="318.79" x2="320.62" y2="318.79" stroke="#ff8c1a" stroke-width="1"/>
<path d="M318.62 321.36L321.26 316.56L315.98 316.56Z" fill="#ff8c1a"/>
<line x1="330.34" y1="318.98" x2="330.34" y2="318.35" stroke="#ff8c1a" stroke-width="1"/>
<line x1="328.34" y1="318.35" x2="332.34" y2="318.35" stroke="#ff8c1a" stroke-width="1"/>
<line x1="328.34" y1="318.98" x2="332.34" y2="318.98" stroke="#ff8c1a" stroke-width="1"/>
<path d="M330.34 321.54L332.98 316.74L327.7 316.74Z" fill="#ff8c1a"/>
<line x1="342.06" y1="318.98" x2="342.06" y2="318.35" stroke="#ff8c1a" stroke-width="1"/>
<line x1="340.06" y1="318.35" x2="344.06" y2="318.35" stroke="#ff8c1a" stroke-width="1"/>
<line x1="340.06" y1="318.98" x2="344.06" y2="318.98" stroke="#ff8c1a" stroke-width="1"/>
<path d="M342.06 321.54L344.7 316.74L339.42 316.74Z" fill="#ff8c1a"/>
<line x1="353.78" y1="318.98" x2="353.78" y2="318.35" stroke="#ff8c1a" stroke-width="1"/>
<line x1="351.78" y1="318.35" x2="355.78" y2="318.35" stroke="#ff8c1a" stroke-width="1"/>
<line x1="351.78" y1="318.98" x2="355.78" y2="318.98" stroke="#ff8c1a" stroke-width="1"/>
<path d="M353.78 321.54L356.42 316.74L351.14 316.74Z" fill="#ff8c1a"/>
<line x1="365.5" y1="318.98" x2="365.5" y2="318.35" stroke="#ff8c1a" stroke-width="1"/>
<line x1="363.5" y1="318.35" x2="367.5" y2="318.35" stroke="#ff8c1a" stroke-width="1"/>
<line x1="363.5" y1="318.98" x2="367.5" y2="318.98" stroke="#ff8c1a" stroke-width="1"/>
<path d="M365.5 321.54L368.14 316.74L362.86 316.74Z" fill="#ff8c1a"/>
<path d="M248.3 317.1 L260.02 318.66 L271.74 320.23 L283.46 323.04 L295.18 324.91 L306.9 325.54 L318.62 326.16 L330.34 326.48 L342.06 326.79 L353.78 326.98 L365.5 327.1" stroke="#1c24e8" stroke-width="1.2" fill="none"/>
<path d="M248.3 313.98L250.94 317.1L248.3 320.22L245.66 317.1Z" fill="#1c24e8"/>
<path d="M260.02 315.54L262.66 318.66L260.02 321.78L257.38 318.66Z" fill="#1c24e8"/>
<path d="M271.74 317.11L274.38 320.23L271.74 323.35L269.1 320.23Z" fill="#1c24e8"/>
<path d="M283.46 319.92L286.1 323.04L283.46 326.16L280.82 323.04Z" fill="#1c24e8"/>
<path d="M295.18 321.79L297.82 324.91L295.18 328.03L292.54 324.91Z" fill="#1c24e8"/>
<path d="M306.9 322.42L309.54 325.54L306.9 328.66L304.26 325.54Z" fill="#1c24e8"/>
<path d="M318.62 323.04L321.26 326.16L318.62 329.28L315.98 326.16Z" fill="#1c24e8"/>
<path d="M330.34 323.36L332.98 326.48L330.34 329.6L327.7 326.48Z" fill="#1c24e8"/>
<path d="M342.06 323.67L344.7 326.79L342.06 329.91L339.42 326.79Z" fill="#1c24e8"/>
<path d="M353.78 323.86L356.42 326.98L353.78 330.1L351.14 326.98Z" fill="#1c24e8"/>
<path d="M365.5 323.98L368.14 327.1L365.5 330.22L362.86 327.1Z" fill="#1c24e8"/>
<path d="M248.3 317.1 L260.02 318.35 L271.74 324.29 L283.46 325.73 L295.18 327.73 L306.9 327.85 L318.62 328.04 L330.34 328.23 L342.06 328.35 L353.78 328.48 L365.5 328.48" stroke="#f21c1c" stroke-width="1.2" fill="none"/>
<path d="M248.3 313.98L250.94 317.1L248.3 320.22L245.66 317.1Z" fill="#f21c1c"/>
<path d="M260.02 315.23L262.66 318.35L260.02 321.47L257.38 318.35Z" fill="#f21c1c"/>
<path d="M271.74 321.17L274.38 324.29L271.74 327.41L269.1 324.29Z" fill="#f21c1c"/>
<path d="M283.46 322.61L286.1 325.73L283.46 328.85L280.82 325.73Z" fill="#f21c1c"/>
<path d="M295.18 324.61L297.82 327.73L295.18 330.85L292.54 327.73Z" fill="#f21c1c"/>
<path d="M306.9 324.73L309.54 327.85L306.9 330.97L304.26 327.85Z" fill="#f21c1c"/>
<path d="M318.62 324.92L321.26 328.04L318.62 331.16L315.98 328.04Z" fill="#f21c1c"/>
<path d="M330.34 325.11L332.98 328.23L330.34 331.35L327.7 328.23Z" fill="#f21c1c"/>
<path d="M342.06 325.23L344.7 328.35L342.06 331.47L339.42 328.35Z" fill="#f21c1c"/>
<path d="M353.78 325.36L356.42 328.48L353.78 331.6L351.14 328.48Z" fill="#f21c1c"/>
<path d="M365.5 325.36L368.14 328.48L365.5 331.6L362.86 328.48Z" fill="#f21c1c"/>
<line x1="376" y1="237" x2="386.5" y2="237" stroke="#000" stroke-width="1"/>
<circle cx="381.2" cy="237" r="2" fill="#000"/>
<text x="391.7" y="239.1" font-size="6.2" stroke="#000" stroke-width="0.25" textLength="19.23" lengthAdjust="spacingAndGlyphs">Vehicle</text>
<line x1="376" y1="244.35" x2="386.5" y2="244.35" stroke="#1f8a1f" stroke-width="1"/>
<circle cx="381.2" cy="244.35" r="2" fill="#1f8a1f"/>
<text x="391.7" y="246.45" font-size="6.2" stroke="#000" stroke-width="0.25" textLength="51.47" lengthAdjust="spacingAndGlyphs">Crizotinib 50 mg/kg</text>
<text x="458.8" y="247.25" font-size="8" stroke="#2a9a2a" stroke-width="0.3" fill="#2a9a2a" textLength="16.2" lengthAdjust="spacingAndGlyphs">150.7</text>
<circle cx="480" cy="244.15" r="0.95" fill="#222"/>
<circle cx="482.6" cy="244.15" r="0.95" fill="#222"/>
<line x1="376" y1="251.7" x2="386.5" y2="251.7" stroke="#7a1aa8" stroke-width="1"/>
<path d="M381.2 249.3L383.4 253.3L379 253.3Z" fill="#7a1aa8"/>
<text x="391.7" y="253.8" font-size="6.2" stroke="#000" stroke-width="0.25" textLength="48.37" lengthAdjust="spacingAndGlyphs">Ceritinib 25 mg/kg</text>
<text x="458.8" y="254.6" font-size="8" stroke="#7a4ab0" stroke-width="0.3" fill="#7a4ab0" textLength="13" lengthAdjust="spacingAndGlyphs">64.7</text>
<text x="479" y="253.7" font-size="7.6" stroke="#000" stroke-width="0.15" textLength="9" lengthAdjust="spacingAndGlyphs">n.s</text>
<line x1="376" y1="259.05" x2="386.5" y2="259.05" stroke="#ff8c1a" stroke-width="1"/>
<path d="M381.2 261.45L383.4 257.45L379 257.45Z" fill="#ff8c1a"/>
<text x="391.7" y="261.15" font-size="6.2" stroke="#000" stroke-width="0.25" textLength="56.43" lengthAdjust="spacingAndGlyphs">Entrectinib, 30 mg/kg</text>
<text x="458.8" y="261.95" font-size="8" stroke="#e0a030" stroke-width="0.3" fill="#e0a030" textLength="16.2" lengthAdjust="spacingAndGlyphs">124.9</text>
<circle cx="480" cy="258.85" r="0.95" fill="#222"/>
<circle cx="482.6" cy="258.85" r="0.95" fill="#222"/>
<line x1="376" y1="266.4" x2="386.5" y2="266.4" stroke="#1c24e8" stroke-width="1"/>
<path d="M381.2 263.8L383.4 266.4L381.2 269L379 266.4Z" fill="#1c24e8"/>
<text x="391.7" y="268.5" font-size="6.2" stroke="#000" stroke-width="0.25" textLength="51.16" lengthAdjust="spacingAndGlyphs">Lorlatinib 30 mg/kg</text>
<text x="458.8" y="269.3" font-size="8" stroke="#2a2ad0" stroke-width="0.3" fill="#2a2ad0" textLength="16.2" lengthAdjust="spacingAndGlyphs">189.2</text>
<circle cx="480" cy="266.2" r="0.95" fill="#222"/>
<circle cx="482.6" cy="266.2" r="0.95" fill="#222"/>
<circle cx="485.2" cy="266.2" r="0.95" fill="#222"/>
<line x1="376" y1="273.75" x2="386.5" y2="273.75" stroke="#f21c1c" stroke-width="1"/>
<path d="M381.2 271.15L383.4 273.75L381.2 276.35L379 273.75Z" fill="#f21c1c"/>
<text x="391.7" y="275.85" font-size="6.2" stroke="#000" stroke-width="0.25" textLength="61.7" lengthAdjust="spacingAndGlyphs">Repotrectinib 15 mg/kg</text>
<text x="458.8" y="276.65" font-size="8" stroke="#e02a2a" stroke-width="0.3" fill="#e02a2a" textLength="16.2" lengthAdjust="spacingAndGlyphs">189.2</text>
<circle cx="480" cy="273.55" r="0.95" fill="#222"/>
<circle cx="482.6" cy="273.55" r="0.95" fill="#222"/>
<circle cx="485.2" cy="273.55" r="0.95" fill="#222"/>
<text x="458.8" y="237.3" font-size="8.4" stroke="#000" stroke-width="0.3" textLength="10.5" lengthAdjust="spacingAndGlyphs">TGI</text>
<path d="M489 251.5 L494.6 251.5 L494.6 269 L492.3 269" stroke="#000" stroke-width="0.9" fill="none"/>
<path d="M488.5 265.5 L492.3 265.5 L492.3 273.2 L488.5 273.2" stroke="#000" stroke-width="0.9" fill="none"/>
<text x="498.8" y="262.6" font-size="7.2" stroke="#000" stroke-width="0.1" textLength="7.4" lengthAdjust="spacingAndGlyphs" font-style="italic">##</text>
<line x1="247.6" y1="349.05" x2="247.6" y2="421.8" stroke="#000" stroke-width="1.2"/>
<line x1="244.6" y1="421.3" x2="247.6" y2="421.3" stroke="#000" stroke-width="1"/>
<text x="242.3" y="424" font-size="7.8" stroke="#000" stroke-width="0.08" font-weight="normal" text-anchor="end" textLength="15.81" lengthAdjust="spacingAndGlyphs">−200</text>
<line x1="244.6" y1="411.05" x2="247.6" y2="411.05" stroke="#000" stroke-width="1"/>
<text x="242.3" y="413.75" font-size="7.8" stroke="#000" stroke-width="0.08" font-weight="normal" text-anchor="end" textLength="15.81" lengthAdjust="spacingAndGlyphs">−100</text>
<line x1="244.6" y1="400.8" x2="247.6" y2="400.8" stroke="#000" stroke-width="1"/>
<text x="242.3" y="403.5" font-size="7.8" stroke="#000" stroke-width="0.08" font-weight="normal" text-anchor="end">0</text>
<line x1="244.6" y1="390.55" x2="247.6" y2="390.55" stroke="#000" stroke-width="1"/>
<text x="242.3" y="393.25" font-size="7.8" stroke="#000" stroke-width="0.08" font-weight="normal" text-anchor="end" textLength="11.71" lengthAdjust="spacingAndGlyphs">100</text>
<line x1="244.6" y1="380.3" x2="247.6" y2="380.3" stroke="#000" stroke-width="1"/>
<text x="242.3" y="383" font-size="7.8" stroke="#000" stroke-width="0.08" font-weight="normal" text-anchor="end" textLength="11.71" lengthAdjust="spacingAndGlyphs">200</text>
<line x1="244.6" y1="370.05" x2="247.6" y2="370.05" stroke="#000" stroke-width="1"/>
<text x="242.3" y="372.75" font-size="7.8" stroke="#000" stroke-width="0.08" font-weight="normal" text-anchor="end" textLength="11.71" lengthAdjust="spacingAndGlyphs">300</text>
<line x1="244.6" y1="359.8" x2="247.6" y2="359.8" stroke="#000" stroke-width="1"/>
<text x="242.3" y="362.5" font-size="7.8" stroke="#000" stroke-width="0.08" font-weight="normal" text-anchor="end" textLength="11.71" lengthAdjust="spacingAndGlyphs">400</text>
<line x1="244.6" y1="349.55" x2="247.6" y2="349.55" stroke="#000" stroke-width="1"/>
<text x="242.3" y="352.25" font-size="7.8" stroke="#000" stroke-width="0.08" font-weight="normal" text-anchor="end" textLength="11.71" lengthAdjust="spacingAndGlyphs">500</text>
<line x1="247.6" y1="400.8" x2="446.5" y2="400.8" stroke="#222" stroke-width="1.4"/>
<text x="213" y="386" font-size="8.6" stroke="#000" stroke-width="0.25" text-anchor="middle" transform="rotate(-90 213 386)" textLength="97" lengthAdjust="spacingAndGlyphs">% Change of tumor volume</text>
<text x="222.2" y="386" font-size="8.6" stroke="#000" stroke-width="0.25" text-anchor="middle" transform="rotate(-90 222.2 386)" textLength="60" lengthAdjust="spacingAndGlyphs">(day 1 to day 21)</text>
<rect x="250" y="355.7" width="5.5" height="45.1" fill="#0a0a0a" stroke="#fff" stroke-width="0.4"/>
<rect x="255.5" y="359.29" width="5.5" height="41.51" fill="#0a0a0a" stroke="#fff" stroke-width="0.4"/>
<rect x="261" y="378.46" width="5.5" height="22.34" fill="#0a0a0a" stroke="#fff" stroke-width="0.4"/>
<rect x="266.5" y="378.46" width="5.5" height="22.34" fill="#0a0a0a" stroke="#fff" stroke-width="0.4"/>
<rect x="283.2" y="400.8" width="5.7" height="6.76" fill="#1f9a1f" stroke="#fff" stroke-width="0.4"/>
<rect x="288.9" y="400.8" width="5.7" height="2.87" fill="#1f9a1f" stroke="#fff" stroke-width="0.4"/>
<rect x="294.6" y="400.8" width="5.7" height="3.07" fill="#1f9a1f" stroke="#fff" stroke-width="0.4"/>
<rect x="300.3" y="400.8" width="5.7" height="5.12" fill="#1f9a1f" stroke="#fff" stroke-width="0.4"/>
<rect x="316.2" y="382.15" width="5.6" height="18.65" fill="#7a2ab0" stroke="#fff" stroke-width="0.4"/>
<rect x="321.8" y="394.34" width="5.6" height="6.46" fill="#7a2ab0" stroke="#fff" stroke-width="0.4"/>
<rect x="327.4" y="387.99" width="5.6" height="12.81" fill="#7a2ab0" stroke="#fff" stroke-width="0.4"/>
<rect x="333" y="392.19" width="5.6" height="8.61" fill="#7a2ab0" stroke="#fff" stroke-width="0.4"/>
<rect x="352.5" y="400.8" width="4.9" height="2.77" fill="#f2c040" stroke="#fff" stroke-width="0.4"/>
<rect x="357.4" y="400.8" width="4.9" height="2.77" fill="#f2c040" stroke="#fff" stroke-width="0.4"/>
<rect x="362.3" y="400.8" width="4.9" height="2.77" fill="#f2c040" stroke="#fff" stroke-width="0.4"/>
<rect x="367.2" y="400.8" width="4.9" height="2.77" fill="#f2c040" stroke="#fff" stroke-width="0.4"/>
<rect x="382.9" y="400.8" width="5.6" height="10.25" fill="#1a3ae8" stroke="#fff" stroke-width="0.4"/>
<rect x="388.5" y="400.8" width="5.6" height="8.71" fill="#1a3ae8" stroke="#fff" stroke-width="0.4"/>
<rect x="394.1" y="400.8" width="5.6" height="10.25" fill="#1a3ae8" stroke="#fff" stroke-width="0.4"/>
<rect x="399.7" y="400.8" width="5.6" height="7.89" fill="#1a3ae8" stroke="#fff" stroke-width="0.4"/>
<rect x="405.3" y="400.8" width="5.6" height="8.71" fill="#1a3ae8" stroke="#fff" stroke-width="0.4"/>
<rect x="415.8" y="400.8" width="5.65" height="9.94" fill="#f21c1c" stroke="#fff" stroke-width="0.4"/>
<rect x="421.45" y="400.8" width="5.65" height="10.25" fill="#f21c1c" stroke="#fff" stroke-width="0.4"/>
<rect x="427.1" y="400.8" width="5.65" height="9.02" fill="#f21c1c" stroke="#fff" stroke-width="0.4"/>
<rect x="432.75" y="400.8" width="5.65" height="9.02" fill="#f21c1c" stroke="#fff" stroke-width="0.4"/>
<rect x="438.4" y="400.8" width="5.65" height="9.02" fill="#f21c1c" stroke="#fff" stroke-width="0.4"/>
<text x="260.5" y="427.3" font-size="8.3" stroke="#000" stroke-width="0.25" text-anchor="middle" textLength="13.29" lengthAdjust="spacingAndGlyphs">Veh</text>
<text x="293.5" y="427.3" font-size="8.3" stroke="#000" stroke-width="0.25" text-anchor="middle" textLength="18.68" lengthAdjust="spacingAndGlyphs">Crizo</text>
<text x="325" y="427.3" font-size="8.3" stroke="#000" stroke-width="0.25" text-anchor="middle" textLength="14.53" lengthAdjust="spacingAndGlyphs">Ceri</text>
<text x="360.8" y="427.3" font-size="8.3" stroke="#000" stroke-width="0.25" text-anchor="middle" textLength="19.1" lengthAdjust="spacingAndGlyphs">Entre</text>
<text x="397.8" y="427.3" font-size="8.3" stroke="#000" stroke-width="0.25" text-anchor="middle" textLength="18.26" lengthAdjust="spacingAndGlyphs">Lorla</text>
<text x="431.5" y="427.3" font-size="8.3" stroke="#000" stroke-width="0.25" text-anchor="middle" textLength="18.68" lengthAdjust="spacingAndGlyphs">Repo</text>
<text x="1.5" y="461" font-size="13" stroke="#000" stroke-width="0.25">E</text>
<line x1="61" y1="480.2" x2="61" y2="593.1" stroke="#000" stroke-width="1.2"/>
<line x1="60.5" y1="592.6" x2="210" y2="592.6" stroke="#000" stroke-width="1.2"/>
<line x1="57.5" y1="592.6" x2="61" y2="592.6" stroke="#000" stroke-width="1"/>
<text x="54.8" y="595.9" font-size="10" stroke="#000" stroke-width="0.08" font-weight="normal" text-anchor="end">0</text>
<line x1="57.5" y1="555.3" x2="61" y2="555.3" stroke="#000" stroke-width="1"/>
<text x="54.8" y="558.6" font-size="10" stroke="#000" stroke-width="0.08" font-weight="normal" text-anchor="end" textLength="15.02" lengthAdjust="spacingAndGlyphs">500</text>
<line x1="57.5" y1="518" x2="61" y2="518" stroke="#000" stroke-width="1"/>
<text x="54.8" y="521.3" font-size="10" stroke="#000" stroke-width="0.08" font-weight="normal" text-anchor="end" textLength="22.52" lengthAdjust="spacingAndGlyphs">1,000</text>
<line x1="57.5" y1="480.7" x2="61" y2="480.7" stroke="#000" stroke-width="1"/>
<text x="54.8" y="484" font-size="10" stroke="#000" stroke-width="0.08" font-weight="normal" text-anchor="end" textLength="22.52" lengthAdjust="spacingAndGlyphs">1,500</text>
<line x1="85.5" y1="592.6" x2="85.5" y2="595.6" stroke="#000" stroke-width="1"/>
<text x="85.5" y="605" font-size="10" stroke="#000" stroke-width="0.08" font-weight="normal" text-anchor="middle" textLength="10.01" lengthAdjust="spacingAndGlyphs">20</text>
<line x1="110.4" y1="592.6" x2="110.4" y2="595.6" stroke="#000" stroke-width="1"/>
<text x="110.4" y="605" font-size="10" stroke="#000" stroke-width="0.08" font-weight="normal" text-anchor="middle" textLength="10.01" lengthAdjust="spacingAndGlyphs">40</text>
<line x1="135.3" y1="592.6" x2="135.3" y2="595.6" stroke="#000" stroke-width="1"/>
<text x="135.3" y="605" font-size="10" stroke="#000" stroke-width="0.08" font-weight="normal" text-anchor="middle" textLength="10.01" lengthAdjust="spacingAndGlyphs">60</text>
<line x1="160.2" y1="592.6" x2="160.2" y2="595.6" stroke="#000" stroke-width="1"/>
<text x="160.2" y="605" font-size="10" stroke="#000" stroke-width="0.08" font-weight="normal" text-anchor="middle" textLength="10.01" lengthAdjust="spacingAndGlyphs">80</text>
<line x1="185.1" y1="592.6" x2="185.1" y2="595.6" stroke="#000" stroke-width="1"/>
<text x="185.1" y="605" font-size="10" stroke="#000" stroke-width="0.08" font-weight="normal" text-anchor="middle" textLength="15.02" lengthAdjust="spacingAndGlyphs">100</text>
<line x1="210" y1="592.6" x2="210" y2="595.6" stroke="#000" stroke-width="1"/>
<text x="210" y="605" font-size="10" stroke="#000" stroke-width="0.08" font-weight="normal" text-anchor="middle" textLength="15.02" lengthAdjust="spacingAndGlyphs">120</text>
<text x="136.5" y="617.8" font-size="10" stroke="#000" stroke-width="0.25" text-anchor="middle" textLength="21.52" lengthAdjust="spacingAndGlyphs">Days</text>
<text x="27" y="536.5" font-size="8.6" text-anchor="middle" textLength="80.7" lengthAdjust="spacingAndGlyphs" stroke="#000" stroke-width="0.2" transform="rotate(-90 27 536.5)">Tumor volume (mm<tspan font-size="5.6" dy="-3">3</tspan><tspan dy="3">)</tspan></text>
<path d="M60.6 577.68 L62.59 580.86 L64.34 583.65 L66.33 586.04 L68.07 588.12 L70.06 589.32 L72.05 590.51 L73.05 591.11 L75.04 591.39 L77.03 591.68 L79.03 591.97 L79.28 592 L81.27 592.07 L83.26 592.15 L85.25 592.22 L85.5 592.23 L87.49 592.17 L89.48 592.11 L91.48 592.05 L92.97 592 L94.96 591.58 L96.95 591.15 L98.95 590.72 L99.94 590.51 L101.93 589.74 L103.93 588.96 L105.92 588.19 L107.91 587.41 L109.16 586.93 L111.15 586.4 L113.14 585.86 L115.01 585.36 L117 584.6 L118.99 583.83 L119.86 583.5 L121.85 582.31 L123.85 581.11 L124.59 580.66 L126.59 579.07 L128.58 577.48 L129.45 576.78 L131.44 575.21 L133.43 573.64 L134.18 573.05 L135.67 565.97 L137.67 561.95 L138.04 561.19 L140.03 552.72 L140.53 550.6 L142.52 547.23 L143.39 545.75 L145.38 546.51 L145.76 546.65 L147.75 549.81 L148.25 550.6 L150.24 554.07 L150.99 555.37 L152.48 549.56 L154.47 545.51 L155.34 543.74 L157.34 545.24 L159.33 546.74 L160.2 547.39 L162.19 544.45 L163.94 541.87 L165.93 537.5 L167.67 533.67 L169.66 533.07 L170.16 532.92 L172.15 533.64 L174.14 534.36 L174.89 534.64 L176.88 533.72 L178.63 532.92 L180.62 534.82 L181.37 535.53 L183.36 536.36 L185.35 537.19 L185.85 537.4" stroke="#1c24e8" stroke-width="1.2" fill="none"/>
<path d="M60.6 575.4L62.69 579.2L58.51 579.2Z" fill="#1c24e8"/>
<path d="M62.59 578.58L64.68 582.38L60.5 582.38Z" fill="#1c24e8"/>
<path d="M64.34 581.37L66.43 585.17L62.25 585.17Z" fill="#1c24e8"/>
<path d="M66.33 583.76L68.42 587.56L64.24 587.56Z" fill="#1c24e8"/>
<path d="M68.07 585.84L70.16 589.64L65.98 589.64Z" fill="#1c24e8"/>
<path d="M70.06 587.04L72.15 590.84L67.97 590.84Z" fill="#1c24e8"/>
<path d="M72.05 588.23L74.14 592.03L69.96 592.03Z" fill="#1c24e8"/>
<path d="M73.05 588.83L75.14 592.63L70.96 592.63Z" fill="#1c24e8"/>
<path d="M75.04 589.11L77.13 592.91L72.95 592.91Z" fill="#1c24e8"/>
<path d="M77.03 589.4L79.12 593.2L74.94 593.2Z" fill="#1c24e8"/>
<path d="M79.03 589.69L81.12 593.49L76.94 593.49Z" fill="#1c24e8"/>
<path d="M79.28 589.72L81.37 593.52L77.19 593.52Z" fill="#1c24e8"/>
<path d="M81.27 589.79L83.36 593.59L79.18 593.59Z" fill="#1c24e8"/>
<path d="M83.26 589.87L85.35 593.67L81.17 593.67Z" fill="#1c24e8"/>
<path d="M85.25 589.94L87.34 593.74L83.16 593.74Z" fill="#1c24e8"/>
<path d="M85.5 589.95L87.59 593.75L83.41 593.75Z" fill="#1c24e8"/>
<path d="M87.49 589.89L89.58 593.69L85.4 593.69Z" fill="#1c24e8"/>
<path d="M89.48 589.83L91.57 593.63L87.39 593.63Z" fill="#1c24e8"/>
<path d="M91.48 589.77L93.57 593.57L89.39 593.57Z" fill="#1c24e8"/>
<path d="M92.97 589.72L95.06 593.52L90.88 593.52Z" fill="#1c24e8"/>
<path d="M94.96 589.3L97.05 593.1L92.87 593.1Z" fill="#1c24e8"/>
<path d="M96.95 588.87L99.04 592.67L94.86 592.67Z" fill="#1c24e8"/>
<path d="M98.95 588.44L101.04 592.24L96.86 592.24Z" fill="#1c24e8"/>
<path d="M99.94 588.23L102.03 592.03L97.85 592.03Z" fill="#1c24e8"/>
<path d="M101.93 587.46L104.02 591.26L99.84 591.26Z" fill="#1c24e8"/>
<path d="M103.93 586.68L106.02 590.48L101.84 590.48Z" fill="#1c24e8"/>
<path d="M105.92 585.91L108.01 589.71L103.83 589.71Z" fill="#1c24e8"/>
<path d="M107.91 585.13L110 588.93L105.82 588.93Z" fill="#1c24e8"/>
<path d="M109.16 584.65L111.25 588.45L107.06 588.45Z" fill="#1c24e8"/>
<path d="M111.15 584.12L113.24 587.92L109.06 587.92Z" fill="#1c24e8"/>
<path d="M113.14 583.58L115.23 587.38L111.05 587.38Z" fill="#1c24e8"/>
<path d="M115.01 583.08L117.1 586.88L112.92 586.88Z" fill="#1c24e8"/>
<path d="M117 582.32L119.09 586.12L114.91 586.12Z" fill="#1c24e8"/>
<path d="M118.99 581.55L121.08 585.35L116.9 585.35Z" fill="#1c24e8"/>
<path d="M119.86 581.22L121.95 585.02L117.77 585.02Z" fill="#1c24e8"/>
<path d="M121.85 580.03L123.94 583.83L119.76 583.83Z" fill="#1c24e8"/>
<path d="M123.85 578.83L125.94 582.63L121.76 582.63Z" fill="#1c24e8"/>
<path d="M124.59 578.38L126.68 582.18L122.5 582.18Z" fill="#1c24e8"/>
<path d="M126.59 576.79L128.68 580.59L124.5 580.59Z" fill="#1c24e8"/>
<path d="M128.58 575.2L130.67 579L126.49 579Z" fill="#1c24e8"/>
<path d="M129.45 574.5L131.54 578.3L127.36 578.3Z" fill="#1c24e8"/>
<path d="M131.44 572.93L133.53 576.73L129.35 576.73Z" fill="#1c24e8"/>
<path d="M133.43 571.36L135.52 575.16L131.34 575.16Z" fill="#1c24e8"/>
<path d="M134.18 570.77L136.27 574.57L132.09 574.57Z" fill="#1c24e8"/>
<path d="M135.67 563.69L137.76 567.49L133.58 567.49Z" fill="#1c24e8"/>
<path d="M137.67 559.67L139.76 563.47L135.58 563.47Z" fill="#1c24e8"/>
<path d="M138.04 558.91L140.13 562.71L135.95 562.71Z" fill="#1c24e8"/>
<path d="M140.03 550.44L142.12 554.24L137.94 554.24Z" fill="#1c24e8"/>
<path d="M140.53 548.32L142.62 552.12L138.44 552.12Z" fill="#1c24e8"/>
<path d="M142.52 544.95L144.61 548.75L140.43 548.75Z" fill="#1c24e8"/>
<path d="M143.39 543.47L145.48 547.27L141.3 547.27Z" fill="#1c24e8"/>
<path d="M145.38 544.23L147.47 548.03L143.29 548.03Z" fill="#1c24e8"/>
<path d="M145.76 544.37L147.85 548.17L143.67 548.17Z" fill="#1c24e8"/>
<path d="M147.75 547.53L149.84 551.33L145.66 551.33Z" fill="#1c24e8"/>
<path d="M148.25 548.32L150.34 552.12L146.16 552.12Z" fill="#1c24e8"/>
<path d="M150.24 551.79L152.33 555.59L148.15 555.59Z" fill="#1c24e8"/>
<path d="M150.99 553.09L153.08 556.89L148.9 556.89Z" fill="#1c24e8"/>
<path d="M152.48 547.28L154.57 551.08L150.39 551.08Z" fill="#1c24e8"/>
<path d="M154.47 543.23L156.56 547.03L152.38 547.03Z" fill="#1c24e8"/>
<path d="M155.34 541.46L157.43 545.26L153.25 545.26Z" fill="#1c24e8"/>
<path d="M157.34 542.96L159.43 546.76L155.25 546.76Z" fill="#1c24e8"/>
<path d="M159.33 544.46L161.42 548.26L157.24 548.26Z" fill="#1c24e8"/>
<path d="M160.2 545.11L162.29 548.91L158.11 548.91Z" fill="#1c24e8"/>
<path d="M162.19 542.17L164.28 545.97L160.1 545.97Z" fill="#1c24e8"/>
<path d="M163.94 539.59L166.03 543.39L161.84 543.39Z" fill="#1c24e8"/>
<path d="M165.93 535.22L168.02 539.02L163.84 539.02Z" fill="#1c24e8"/>
<path d="M167.67 531.39L169.76 535.19L165.58 535.19Z" fill="#1c24e8"/>
<path d="M169.66 530.79L171.75 534.59L167.57 534.59Z" fill="#1c24e8"/>
<path d="M170.16 530.64L172.25 534.44L168.07 534.44Z" fill="#1c24e8"/>
<path d="M172.15 531.36L174.24 535.16L170.06 535.16Z" fill="#1c24e8"/>
<path d="M174.14 532.08L176.23 535.88L172.05 535.88Z" fill="#1c24e8"/>
<path d="M174.89 532.36L176.98 536.16L172.8 536.16Z" fill="#1c24e8"/>
<path d="M176.88 531.44L178.97 535.24L174.79 535.24Z" fill="#1c24e8"/>
<path d="M178.63 530.64L180.72 534.44L176.54 534.44Z" fill="#1c24e8"/>
<path d="M180.62 532.54L182.71 536.34L178.53 536.34Z" fill="#1c24e8"/>
<path d="M181.37 533.25L183.46 537.05L179.28 537.05Z" fill="#1c24e8"/>
<path d="M183.36 534.08L185.45 537.88L181.27 537.88Z" fill="#1c24e8"/>
<path d="M185.35 534.91L187.44 538.71L183.26 538.71Z" fill="#1c24e8"/>
<path d="M185.85 535.12L187.94 538.92L183.76 538.92Z" fill="#1c24e8"/>
<path d="M60.6 577.68 L62.59 580.07 L64.34 582.16 L66.33 583.35 L68.07 584.39 L70.06 584.69 L72.05 584.99 L73.05 585.14 L75.04 585.86 L77.03 586.57 L79.03 587.29 L81.02 588 L83.01 588.72 L85 589.44 L85.5 589.62 L87.49 589.85 L89.48 590.09 L91.48 590.33 L91.73 590.36 L93.72 590.34 L95.71 590.33 L97.7 590.31 L99.69 590.29 L99.94 590.29 L101.93 589.51 L103.93 588.74 L105.92 587.96 L107.91 587.19 L109.16 586.71 L111.15 586.2 L113.14 585.69 L115.01 585.21 L117 584.45 L118.99 583.68 L119.86 583.35 L121.85 582.12 L123.85 580.9 L124.59 580.44 L126.59 578.88 L128.58 577.32 L129.45 576.64 L131.44 575.44 L133.43 574.25 L134.18 573.8 L136.17 572.3 L138.04 570.89 L140.03 566.12 L142.02 564.57 L143.77 563.21 L145.76 562.01 L147.75 560.82 L149.74 560.57 L151.73 560.33 L151.98 560.3 L152.98 549.71 L154.35 545.9 L156.34 547.54 L158.33 549.18 L160.32 546.14 L162.32 543.09 L163.06 541.95 L165.06 539.29 L165.8 538.29 L167.79 534.38 L168.54 532.92 L170.53 534.05 L172.53 535.18 L173.15 535.53 L175.14 535.86 L177.13 536.18 L178.63 536.43 L180.62 536.96 L182.24 537.4 L184.23 538.38 L185.85 539.19" stroke="#f21c1c" stroke-width="1.2" fill="none"/>
<rect x="58.8" y="575.88" width="3.6" height="3.6" fill="#f21c1c"/>
<rect x="60.79" y="578.27" width="3.6" height="3.6" fill="#f21c1c"/>
<rect x="62.54" y="580.36" width="3.6" height="3.6" fill="#f21c1c"/>
<rect x="64.53" y="581.55" width="3.6" height="3.6" fill="#f21c1c"/>
<rect x="66.27" y="582.59" width="3.6" height="3.6" fill="#f21c1c"/>
<rect x="68.26" y="582.89" width="3.6" height="3.6" fill="#f21c1c"/>
<rect x="70.25" y="583.19" width="3.6" height="3.6" fill="#f21c1c"/>
<rect x="71.25" y="583.34" width="3.6" height="3.6" fill="#f21c1c"/>
<rect x="73.24" y="584.06" width="3.6" height="3.6" fill="#f21c1c"/>
<rect x="75.23" y="584.77" width="3.6" height="3.6" fill="#f21c1c"/>
<rect x="77.23" y="585.49" width="3.6" height="3.6" fill="#f21c1c"/>
<rect x="79.22" y="586.2" width="3.6" height="3.6" fill="#f21c1c"/>
<rect x="81.21" y="586.92" width="3.6" height="3.6" fill="#f21c1c"/>
<rect x="83.2" y="587.64" width="3.6" height="3.6" fill="#f21c1c"/>
<rect x="83.7" y="587.82" width="3.6" height="3.6" fill="#f21c1c"/>
<rect x="85.69" y="588.05" width="3.6" height="3.6" fill="#f21c1c"/>
<rect x="87.68" y="588.29" width="3.6" height="3.6" fill="#f21c1c"/>
<rect x="89.68" y="588.53" width="3.6" height="3.6" fill="#f21c1c"/>
<rect x="89.93" y="588.56" width="3.6" height="3.6" fill="#f21c1c"/>
<rect x="91.92" y="588.54" width="3.6" height="3.6" fill="#f21c1c"/>
<rect x="93.91" y="588.53" width="3.6" height="3.6" fill="#f21c1c"/>
<rect x="95.9" y="588.51" width="3.6" height="3.6" fill="#f21c1c"/>
<rect x="97.89" y="588.49" width="3.6" height="3.6" fill="#f21c1c"/>
<rect x="98.14" y="588.49" width="3.6" height="3.6" fill="#f21c1c"/>
<rect x="100.13" y="587.71" width="3.6" height="3.6" fill="#f21c1c"/>
<rect x="102.13" y="586.94" width="3.6" height="3.6" fill="#f21c1c"/>
<rect x="104.12" y="586.16" width="3.6" height="3.6" fill="#f21c1c"/>
<rect x="106.11" y="585.39" width="3.6" height="3.6" fill="#f21c1c"/>
<rect x="107.36" y="584.91" width="3.6" height="3.6" fill="#f21c1c"/>
<rect x="109.35" y="584.4" width="3.6" height="3.6" fill="#f21c1c"/>
<rect x="111.34" y="583.89" width="3.6" height="3.6" fill="#f21c1c"/>
<rect x="113.21" y="583.41" width="3.6" height="3.6" fill="#f21c1c"/>
<rect x="115.2" y="582.65" width="3.6" height="3.6" fill="#f21c1c"/>
<rect x="117.19" y="581.88" width="3.6" height="3.6" fill="#f21c1c"/>
<rect x="118.06" y="581.55" width="3.6" height="3.6" fill="#f21c1c"/>
<rect x="120.05" y="580.32" width="3.6" height="3.6" fill="#f21c1c"/>
<rect x="122.05" y="579.1" width="3.6" height="3.6" fill="#f21c1c"/>
<rect x="122.79" y="578.64" width="3.6" height="3.6" fill="#f21c1c"/>
<rect x="124.79" y="577.08" width="3.6" height="3.6" fill="#f21c1c"/>
<rect x="126.78" y="575.52" width="3.6" height="3.6" fill="#f21c1c"/>
<rect x="127.65" y="574.84" width="3.6" height="3.6" fill="#f21c1c"/>
<rect x="129.64" y="573.64" width="3.6" height="3.6" fill="#f21c1c"/>
<rect x="131.63" y="572.45" width="3.6" height="3.6" fill="#f21c1c"/>
<rect x="132.38" y="572" width="3.6" height="3.6" fill="#f21c1c"/>
<rect x="134.37" y="570.5" width="3.6" height="3.6" fill="#f21c1c"/>
<rect x="136.24" y="569.09" width="3.6" height="3.6" fill="#f21c1c"/>
<rect x="138.23" y="564.32" width="3.6" height="3.6" fill="#f21c1c"/>
<rect x="140.22" y="562.77" width="3.6" height="3.6" fill="#f21c1c"/>
<rect x="141.97" y="561.41" width="3.6" height="3.6" fill="#f21c1c"/>
<rect x="143.96" y="560.21" width="3.6" height="3.6" fill="#f21c1c"/>
<rect x="145.95" y="559.02" width="3.6" height="3.6" fill="#f21c1c"/>
<rect x="147.94" y="558.77" width="3.6" height="3.6" fill="#f21c1c"/>
<rect x="149.93" y="558.53" width="3.6" height="3.6" fill="#f21c1c"/>
<rect x="150.18" y="558.5" width="3.6" height="3.6" fill="#f21c1c"/>
<rect x="151.18" y="547.91" width="3.6" height="3.6" fill="#f21c1c"/>
<rect x="152.55" y="544.1" width="3.6" height="3.6" fill="#f21c1c"/>
<rect x="154.54" y="545.74" width="3.6" height="3.6" fill="#f21c1c"/>
<rect x="156.53" y="547.38" width="3.6" height="3.6" fill="#f21c1c"/>
<rect x="158.52" y="544.34" width="3.6" height="3.6" fill="#f21c1c"/>
<rect x="160.52" y="541.29" width="3.6" height="3.6" fill="#f21c1c"/>
<rect x="161.26" y="540.15" width="3.6" height="3.6" fill="#f21c1c"/>
<rect x="163.26" y="537.49" width="3.6" height="3.6" fill="#f21c1c"/>
<rect x="164" y="536.49" width="3.6" height="3.6" fill="#f21c1c"/>
<rect x="165.99" y="532.58" width="3.6" height="3.6" fill="#f21c1c"/>
<rect x="166.74" y="531.12" width="3.6" height="3.6" fill="#f21c1c"/>
<rect x="168.73" y="532.25" width="3.6" height="3.6" fill="#f21c1c"/>
<rect x="170.73" y="533.38" width="3.6" height="3.6" fill="#f21c1c"/>
<rect x="171.35" y="533.73" width="3.6" height="3.6" fill="#f21c1c"/>
<rect x="173.34" y="534.06" width="3.6" height="3.6" fill="#f21c1c"/>
<rect x="175.33" y="534.38" width="3.6" height="3.6" fill="#f21c1c"/>
<rect x="176.83" y="534.63" width="3.6" height="3.6" fill="#f21c1c"/>
<rect x="178.82" y="535.16" width="3.6" height="3.6" fill="#f21c1c"/>
<rect x="180.44" y="535.6" width="3.6" height="3.6" fill="#f21c1c"/>
<rect x="182.43" y="536.58" width="3.6" height="3.6" fill="#f21c1c"/>
<rect x="184.05" y="537.39" width="3.6" height="3.6" fill="#f21c1c"/>
<path d="M60.6 576.93 L62.59 579.56 L64.58 582.19 L66.58 584.81 L66.83 585.14 L68.82 586.57 L70.81 588 L72.8 589.44 L73.05 589.62 L75.04 589.91 L77.03 590.21 L79.03 590.51 L81.02 590.81 L83.01 591.11 L85 591.41 L85.5 591.48 L87.49 591.48 L89.48 591.48 L91.48 591.48 L93.47 591.48 L95.46 591.48 L97.45 591.48 L99.44 591.48 L101.44 591.48 L103.43 591.48 L105.42 591.48 L107.41 591.48 L109.4 591.48 L111.4 591.48 L113.39 591.48 L115.38 591.48 L117.37 591.48 L119.36 591.48 L121.36 591.48 L123.35 591.48 L125.34 591.48 L127.33 591.48 L129.32 591.48 L131.32 591.48 L133.31 591.48 L135.3 591.48 L137.29 591.48 L139.28 591.48 L141.28 591.48 L143.27 591.48 L145.26 591.48 L147.25 591.48 L149.24 591.48 L150.24 591.48 L151.24 586.71 L153.23 581.15 L154.85 576.64 L156.84 577.33 L158.83 578.02 L160.2 578.5 L162.19 577.9 L164.18 577.31 L166.18 576.71 L168.17 576.11 L169.41 575.74 L171.41 575.5 L173.4 575.25 L175.39 575.01 L176.76 574.85 L178.75 575.17 L180.74 575.5 L182.24 575.74 L184.23 576.73 L185.85 577.53" stroke="#e070d0" stroke-width="1.2" fill="none"/>
<path d="M60.6 574.89L62.47 578.29L58.73 578.29Z" fill="#e070d0"/>
<path d="M62.59 577.52L64.46 580.92L60.72 580.92Z" fill="#e070d0"/>
<path d="M64.58 580.15L66.45 583.55L62.71 583.55Z" fill="#e070d0"/>
<path d="M66.58 582.77L68.45 586.17L64.71 586.17Z" fill="#e070d0"/>
<path d="M66.83 583.1L68.7 586.5L64.95 586.5Z" fill="#e070d0"/>
<path d="M68.82 584.53L70.69 587.93L66.95 587.93Z" fill="#e070d0"/>
<path d="M70.81 585.96L72.68 589.36L68.94 589.36Z" fill="#e070d0"/>
<path d="M72.8 587.4L74.67 590.8L70.93 590.8Z" fill="#e070d0"/>
<path d="M73.05 587.58L74.92 590.98L71.18 590.98Z" fill="#e070d0"/>
<path d="M75.04 587.87L76.91 591.27L73.17 591.27Z" fill="#e070d0"/>
<path d="M77.03 588.17L78.9 591.57L75.16 591.57Z" fill="#e070d0"/>
<path d="M79.03 588.47L80.9 591.87L77.16 591.87Z" fill="#e070d0"/>
<path d="M81.02 588.77L82.89 592.17L79.15 592.17Z" fill="#e070d0"/>
<path d="M83.01 589.07L84.88 592.47L81.14 592.47Z" fill="#e070d0"/>
<path d="M85 589.37L86.87 592.77L83.13 592.77Z" fill="#e070d0"/>
<path d="M85.5 589.44L87.37 592.84L83.63 592.84Z" fill="#e070d0"/>
<path d="M87.49 589.44L89.36 592.84L85.62 592.84Z" fill="#e070d0"/>
<path d="M89.48 589.44L91.35 592.84L87.61 592.84Z" fill="#e070d0"/>
<path d="M91.48 589.44L93.35 592.84L89.61 592.84Z" fill="#e070d0"/>
<path d="M93.47 589.44L95.34 592.84L91.6 592.84Z" fill="#e070d0"/>
<path d="M95.46 589.44L97.33 592.84L93.59 592.84Z" fill="#e070d0"/>
<path d="M97.45 589.44L99.32 592.84L95.58 592.84Z" fill="#e070d0"/>
<path d="M99.44 589.44L101.31 592.84L97.57 592.84Z" fill="#e070d0"/>
<path d="M101.44 589.44L103.31 592.84L99.57 592.84Z" fill="#e070d0"/>
<path d="M103.43 589.44L105.3 592.84L101.56 592.84Z" fill="#e070d0"/>
<path d="M105.42 589.44L107.29 592.84L103.55 592.84Z" fill="#e070d0"/>
<path d="M107.41 589.44L109.28 592.84L105.54 592.84Z" fill="#e070d0"/>
<path d="M109.4 589.44L111.27 592.84L107.53 592.84Z" fill="#e070d0"/>
<path d="M111.4 589.44L113.27 592.84L109.53 592.84Z" fill="#e070d0"/>
<path d="M113.39 589.44L115.26 592.84L111.52 592.84Z" fill="#e070d0"/>
<path d="M115.38 589.44L117.25 592.84L113.51 592.84Z" fill="#e070d0"/>
<path d="M117.37 589.44L119.24 592.84L115.5 592.84Z" fill="#e070d0"/>
<path d="M119.36 589.44L121.23 592.84L117.49 592.84Z" fill="#e070d0"/>
<path d="M121.36 589.44L123.23 592.84L119.49 592.84Z" fill="#e070d0"/>
<path d="M123.35 589.44L125.22 592.84L121.48 592.84Z" fill="#e070d0"/>
<path d="M125.34 589.44L127.21 592.84L123.47 592.84Z" fill="#e070d0"/>
<path d="M127.33 589.44L129.2 592.84L125.46 592.84Z" fill="#e070d0"/>
<path d="M129.32 589.44L131.19 592.84L127.45 592.84Z" fill="#e070d0"/>
<path d="M131.32 589.44L133.19 592.84L129.45 592.84Z" fill="#e070d0"/>
<path d="M133.31 589.44L135.18 592.84L131.44 592.84Z" fill="#e070d0"/>
<path d="M135.3 589.44L137.17 592.84L133.43 592.84Z" fill="#e070d0"/>
<path d="M137.29 589.44L139.16 592.84L135.42 592.84Z" fill="#e070d0"/>
<path d="M139.28 589.44L141.15 592.84L137.41 592.84Z" fill="#e070d0"/>
<path d="M141.28 589.44L143.15 592.84L139.41 592.84Z" fill="#e070d0"/>
<path d="M143.27 589.44L145.14 592.84L141.4 592.84Z" fill="#e070d0"/>
<path d="M145.26 589.44L147.13 592.84L143.39 592.84Z" fill="#e070d0"/>
<path d="M147.25 589.44L149.12 592.84L145.38 592.84Z" fill="#e070d0"/>
<path d="M149.24 589.44L151.11 592.84L147.37 592.84Z" fill="#e070d0"/>
<path d="M150.24 589.44L152.11 592.84L148.37 592.84Z" fill="#e070d0"/>
<path d="M151.24 584.67L153.11 588.07L149.37 588.07Z" fill="#e070d0"/>
<path d="M153.23 579.11L155.1 582.51L151.36 582.51Z" fill="#e070d0"/>
<path d="M154.85 574.6L156.72 578L152.98 578Z" fill="#e070d0"/>
<path d="M156.84 575.29L158.71 578.69L154.97 578.69Z" fill="#e070d0"/>
<path d="M158.83 575.98L160.7 579.38L156.96 579.38Z" fill="#e070d0"/>
<path d="M160.2 576.46L162.07 579.86L158.33 579.86Z" fill="#e070d0"/>
<path d="M162.19 575.86L164.06 579.26L160.32 579.26Z" fill="#e070d0"/>
<path d="M164.18 575.27L166.05 578.67L162.31 578.67Z" fill="#e070d0"/>
<path d="M166.18 574.67L168.05 578.07L164.31 578.07Z" fill="#e070d0"/>
<path d="M168.17 574.07L170.04 577.47L166.3 577.47Z" fill="#e070d0"/>
<path d="M169.41 573.7L171.28 577.1L167.54 577.1Z" fill="#e070d0"/>
<path d="M171.41 573.46L173.28 576.86L169.53 576.86Z" fill="#e070d0"/>
<path d="M173.4 573.21L175.27 576.61L171.53 576.61Z" fill="#e070d0"/>
<path d="M175.39 572.97L177.26 576.37L173.52 576.37Z" fill="#e070d0"/>
<path d="M176.76 572.81L178.63 576.21L174.89 576.21Z" fill="#e070d0"/>
<path d="M178.75 573.13L180.62 576.53L176.88 576.53Z" fill="#e070d0"/>
<path d="M180.74 573.46L182.61 576.86L178.87 576.86Z" fill="#e070d0"/>
<path d="M182.24 573.7L184.11 577.1L180.37 577.1Z" fill="#e070d0"/>
<path d="M184.23 574.69L186.1 578.09L182.36 578.09Z" fill="#e070d0"/>
<path d="M185.85 575.49L187.72 578.89L183.98 578.89Z" fill="#e070d0"/>
<path d="M60.6 578.43 L62.59 580.34 L64.58 582.25 L66.58 584.16 L66.83 584.39 L68.82 585.35 L70.81 586.3 L72.8 587.26 L73.05 587.38 L75.04 587.8 L77.03 588.21 L79.03 588.63 L81.02 589.05 L83.01 589.47 L85 589.88 L85.5 589.99 L87.49 589.99 L89.48 589.99 L91.48 589.99 L93.47 589.99 L95.46 589.99 L97.45 589.99 L99.44 589.99 L101.44 589.99 L103.43 589.99 L105.42 589.99 L107.41 589.99 L109.4 589.99 L111.4 589.99 L113.39 589.99 L115.38 589.99 L117.37 589.99 L119.36 589.99 L121.36 589.99 L123.35 589.99 L125.34 589.99 L127.33 589.99 L129.32 589.99 L131.32 589.99 L133.31 589.99 L135.3 589.99 L137.29 589.99 L139.28 589.99 L141.28 589.99 L143.27 589.99 L145.26 589.99 L147.25 589.99 L149.24 589.99 L151.24 589.99 L153.23 589.99 L153.98 589.99 L155.97 589.75 L157.96 589.51 L159.95 589.27 L160.2 589.24 L162.19 589.21 L164.18 589.18 L166.18 589.15 L168.17 589.12 L170.16 589.09 L172.15 589.06 L174.14 589.03 L176.14 589 L178.13 588.97 L180.12 588.94 L182.11 588.91 L184.1 588.88 L185.1 588.87" stroke="#1f8a1f" stroke-width="1.3" fill="none"/>
<circle cx="60.6" cy="578.43" r="1.6" fill="#1f8a1f"/>
<circle cx="62.59" cy="580.34" r="1.6" fill="#1f8a1f"/>
<circle cx="64.58" cy="582.25" r="1.6" fill="#1f8a1f"/>
<circle cx="66.58" cy="584.16" r="1.6" fill="#1f8a1f"/>
<circle cx="66.83" cy="584.39" r="1.6" fill="#1f8a1f"/>
<circle cx="68.82" cy="585.35" r="1.6" fill="#1f8a1f"/>
<circle cx="70.81" cy="586.3" r="1.6" fill="#1f8a1f"/>
<circle cx="72.8" cy="587.26" r="1.6" fill="#1f8a1f"/>
<circle cx="73.05" cy="587.38" r="1.6" fill="#1f8a1f"/>
<circle cx="75.04" cy="587.8" r="1.6" fill="#1f8a1f"/>
<circle cx="77.03" cy="588.21" r="1.6" fill="#1f8a1f"/>
<circle cx="79.03" cy="588.63" r="1.6" fill="#1f8a1f"/>
<circle cx="81.02" cy="589.05" r="1.6" fill="#1f8a1f"/>
<circle cx="83.01" cy="589.47" r="1.6" fill="#1f8a1f"/>
<circle cx="85" cy="589.88" r="1.6" fill="#1f8a1f"/>
<circle cx="85.5" cy="589.99" r="1.6" fill="#1f8a1f"/>
<circle cx="87.49" cy="589.99" r="1.6" fill="#1f8a1f"/>
<circle cx="89.48" cy="589.99" r="1.6" fill="#1f8a1f"/>
<circle cx="91.48" cy="589.99" r="1.6" fill="#1f8a1f"/>
<circle cx="93.47" cy="589.99" r="1.6" fill="#1f8a1f"/>
<circle cx="95.46" cy="589.99" r="1.6" fill="#1f8a1f"/>
<circle cx="97.45" cy="589.99" r="1.6" fill="#1f8a1f"/>
<circle cx="99.44" cy="589.99" r="1.6" fill="#1f8a1f"/>
<circle cx="101.44" cy="589.99" r="1.6" fill="#1f8a1f"/>
<circle cx="103.43" cy="589.99" r="1.6" fill="#1f8a1f"/>
<circle cx="105.42" cy="589.99" r="1.6" fill="#1f8a1f"/>
<circle cx="107.41" cy="589.99" r="1.6" fill="#1f8a1f"/>
<circle cx="109.4" cy="589.99" r="1.6" fill="#1f8a1f"/>
<circle cx="111.4" cy="589.99" r="1.6" fill="#1f8a1f"/>
<circle cx="113.39" cy="589.99" r="1.6" fill="#1f8a1f"/>
<circle cx="115.38" cy="589.99" r="1.6" fill="#1f8a1f"/>
<circle cx="117.37" cy="589.99" r="1.6" fill="#1f8a1f"/>
<circle cx="119.36" cy="589.99" r="1.6" fill="#1f8a1f"/>
<circle cx="121.36" cy="589.99" r="1.6" fill="#1f8a1f"/>
<circle cx="123.35" cy="589.99" r="1.6" fill="#1f8a1f"/>
<circle cx="125.34" cy="589.99" r="1.6" fill="#1f8a1f"/>
<circle cx="127.33" cy="589.99" r="1.6" fill="#1f8a1f"/>
<circle cx="129.32" cy="589.99" r="1.6" fill="#1f8a1f"/>
<circle cx="131.32" cy="589.99" r="1.6" fill="#1f8a1f"/>
<circle cx="133.31" cy="589.99" r="1.6" fill="#1f8a1f"/>
<circle cx="135.3" cy="589.99" r="1.6" fill="#1f8a1f"/>
<circle cx="137.29" cy="589.99" r="1.6" fill="#1f8a1f"/>
<circle cx="139.28" cy="589.99" r="1.6" fill="#1f8a1f"/>
<circle cx="141.28" cy="589.99" r="1.6" fill="#1f8a1f"/>
<circle cx="143.27" cy="589.99" r="1.6" fill="#1f8a1f"/>
<circle cx="145.26" cy="589.99" r="1.6" fill="#1f8a1f"/>
<circle cx="147.25" cy="589.99" r="1.6" fill="#1f8a1f"/>
<circle cx="149.24" cy="589.99" r="1.6" fill="#1f8a1f"/>
<circle cx="151.24" cy="589.99" r="1.6" fill="#1f8a1f"/>
<circle cx="153.23" cy="589.99" r="1.6" fill="#1f8a1f"/>
<circle cx="153.98" cy="589.99" r="1.6" fill="#1f8a1f"/>
<circle cx="155.97" cy="589.75" r="1.6" fill="#1f8a1f"/>
<circle cx="157.96" cy="589.51" r="1.6" fill="#1f8a1f"/>
<circle cx="159.95" cy="589.27" r="1.6" fill="#1f8a1f"/>
<circle cx="160.2" cy="589.24" r="1.6" fill="#1f8a1f"/>
<circle cx="162.19" cy="589.21" r="1.6" fill="#1f8a1f"/>
<circle cx="164.18" cy="589.18" r="1.6" fill="#1f8a1f"/>
<circle cx="166.18" cy="589.15" r="1.6" fill="#1f8a1f"/>
<circle cx="168.17" cy="589.12" r="1.6" fill="#1f8a1f"/>
<circle cx="170.16" cy="589.09" r="1.6" fill="#1f8a1f"/>
<circle cx="172.15" cy="589.06" r="1.6" fill="#1f8a1f"/>
<circle cx="174.14" cy="589.03" r="1.6" fill="#1f8a1f"/>
<circle cx="176.14" cy="589" r="1.6" fill="#1f8a1f"/>
<circle cx="178.13" cy="588.97" r="1.6" fill="#1f8a1f"/>
<circle cx="180.12" cy="588.94" r="1.6" fill="#1f8a1f"/>
<circle cx="182.11" cy="588.91" r="1.6" fill="#1f8a1f"/>
<circle cx="184.1" cy="588.88" r="1.6" fill="#1f8a1f"/>
<circle cx="185.1" cy="588.87" r="1.6" fill="#1f8a1f"/>
<path d="M60.6 577.68 L62.59 579.47 L64.58 581.26 L65.58 582.16 L67.57 583.05 L69.56 583.95 L70.56 584.39 L72.55 584.69 L74.54 584.99 L75.54 585.14 L77.53 585.74 L79.52 586.33 L80.52 586.63 L82.51 587.68 L84.5 588.72 L85.5 589.24 L87.49 589.36 L89.48 589.48 L91.48 589.6 L93.47 589.72 L95.46 589.84 L97.45 589.96 L97.95 589.99 L99.94 589.99 L101.93 589.99 L103.93 589.99 L105.92 589.99 L107.91 589.99 L109.9 589.99 L111.89 589.99 L113.89 589.99 L115.88 589.99 L117.87 589.99 L119.86 589.99 L121.85 589.99 L123.85 589.99 L125.84 589.99 L127.83 589.99 L129.82 589.99 L131.81 589.99 L133.81 589.99 L135.8 589.99 L137.79 589.99 L139.78 589.99 L141.77 589.99 L143.77 589.99 L145.76 589.99 L147.75 589.99 L149.74 589.99 L151.73 589.99 L153.73 589.99 L153.98 589.99 L155.97 589.68 L157.96 589.37 L159.95 589.06 L160.2 589.02 L162.19 589.01 L164.18 589 L166.18 588.98 L168.17 588.97 L170.16 588.96 L172.15 588.95 L174.14 588.94 L176.14 588.92 L178.13 588.91 L180.12 588.9 L182.11 588.89 L184.1 588.88 L185.1 588.87" stroke="#44e044" stroke-width="1.3" fill="none"/>
<circle cx="60.6" cy="577.68" r="1.8" fill="#44e044"/>
<circle cx="62.59" cy="579.47" r="1.8" fill="#44e044"/>
<circle cx="64.58" cy="581.26" r="1.8" fill="#44e044"/>
<circle cx="65.58" cy="582.16" r="1.8" fill="#44e044"/>
<circle cx="67.57" cy="583.05" r="1.8" fill="#44e044"/>
<circle cx="69.56" cy="583.95" r="1.8" fill="#44e044"/>
<circle cx="70.56" cy="584.39" r="1.8" fill="#44e044"/>
<circle cx="72.55" cy="584.69" r="1.8" fill="#44e044"/>
<circle cx="74.54" cy="584.99" r="1.8" fill="#44e044"/>
<circle cx="75.54" cy="585.14" r="1.8" fill="#44e044"/>
<circle cx="77.53" cy="585.74" r="1.8" fill="#44e044"/>
<circle cx="79.52" cy="586.33" r="1.8" fill="#44e044"/>
<circle cx="80.52" cy="586.63" r="1.8" fill="#44e044"/>
<circle cx="82.51" cy="587.68" r="1.8" fill="#44e044"/>
<circle cx="84.5" cy="588.72" r="1.8" fill="#44e044"/>
<circle cx="85.5" cy="589.24" r="1.8" fill="#44e044"/>
<circle cx="87.49" cy="589.36" r="1.8" fill="#44e044"/>
<circle cx="89.48" cy="589.48" r="1.8" fill="#44e044"/>
<circle cx="91.48" cy="589.6" r="1.8" fill="#44e044"/>
<circle cx="93.47" cy="589.72" r="1.8" fill="#44e044"/>
<circle cx="95.46" cy="589.84" r="1.8" fill="#44e044"/>
<circle cx="97.45" cy="589.96" r="1.8" fill="#44e044"/>
<circle cx="97.95" cy="589.99" r="1.8" fill="#44e044"/>
<circle cx="99.94" cy="589.99" r="1.8" fill="#44e044"/>
<circle cx="101.93" cy="589.99" r="1.8" fill="#44e044"/>
<circle cx="103.93" cy="589.99" r="1.8" fill="#44e044"/>
<circle cx="105.92" cy="589.99" r="1.8" fill="#44e044"/>
<circle cx="107.91" cy="589.99" r="1.8" fill="#44e044"/>
<circle cx="109.9" cy="589.99" r="1.8" fill="#44e044"/>
<circle cx="111.89" cy="589.99" r="1.8" fill="#44e044"/>
<circle cx="113.89" cy="589.99" r="1.8" fill="#44e044"/>
<circle cx="115.88" cy="589.99" r="1.8" fill="#44e044"/>
<circle cx="117.87" cy="589.99" r="1.8" fill="#44e044"/>
<circle cx="119.86" cy="589.99" r="1.8" fill="#44e044"/>
<circle cx="121.85" cy="589.99" r="1.8" fill="#44e044"/>
<circle cx="123.85" cy="589.99" r="1.8" fill="#44e044"/>
<circle cx="125.84" cy="589.99" r="1.8" fill="#44e044"/>
<circle cx="127.83" cy="589.99" r="1.8" fill="#44e044"/>
<circle cx="129.82" cy="589.99" r="1.8" fill="#44e044"/>
<circle cx="131.81" cy="589.99" r="1.8" fill="#44e044"/>
<circle cx="133.81" cy="589.99" r="1.8" fill="#44e044"/>
<circle cx="135.8" cy="589.99" r="1.8" fill="#44e044"/>
<circle cx="137.79" cy="589.99" r="1.8" fill="#44e044"/>
<circle cx="139.78" cy="589.99" r="1.8" fill="#44e044"/>
<circle cx="141.77" cy="589.99" r="1.8" fill="#44e044"/>
<circle cx="143.77" cy="589.99" r="1.8" fill="#44e044"/>
<circle cx="145.76" cy="589.99" r="1.8" fill="#44e044"/>
<circle cx="147.75" cy="589.99" r="1.8" fill="#44e044"/>
<circle cx="149.74" cy="589.99" r="1.8" fill="#44e044"/>
<circle cx="151.73" cy="589.99" r="1.8" fill="#44e044"/>
<circle cx="153.73" cy="589.99" r="1.8" fill="#44e044"/>
<circle cx="153.98" cy="589.99" r="1.8" fill="#44e044"/>
<circle cx="155.97" cy="589.68" r="1.8" fill="#44e044"/>
<circle cx="157.96" cy="589.37" r="1.8" fill="#44e044"/>
<circle cx="159.95" cy="589.06" r="1.8" fill="#44e044"/>
<circle cx="160.2" cy="589.02" r="1.8" fill="#44e044"/>
<circle cx="162.19" cy="589.01" r="1.8" fill="#44e044"/>
<circle cx="164.18" cy="589" r="1.8" fill="#44e044"/>
<circle cx="166.18" cy="588.98" r="1.8" fill="#44e044"/>
<circle cx="168.17" cy="588.97" r="1.8" fill="#44e044"/>
<circle cx="170.16" cy="588.96" r="1.8" fill="#44e044"/>
<circle cx="172.15" cy="588.95" r="1.8" fill="#44e044"/>
<circle cx="174.14" cy="588.94" r="1.8" fill="#44e044"/>
<circle cx="176.14" cy="588.92" r="1.8" fill="#44e044"/>
<circle cx="178.13" cy="588.91" r="1.8" fill="#44e044"/>
<circle cx="180.12" cy="588.9" r="1.8" fill="#44e044"/>
<circle cx="182.11" cy="588.89" r="1.8" fill="#44e044"/>
<circle cx="184.1" cy="588.88" r="1.8" fill="#44e044"/>
<circle cx="185.1" cy="588.87" r="1.8" fill="#44e044"/>
<path d="M60.6 576.93 L62.59 578.92 L64.34 580.66 L66.33 581.86 L68.07 582.9 L70.06 583.44 L72.05 583.98 L73.05 584.24 L75.04 584.65 L77.03 585.06 L79.03 585.46 L79.28 585.51 L81.27 586.35 L83.26 587.18 L85.25 588.02 L85.5 588.12 L87.49 588.24 L89.48 588.36 L91.48 588.48 L91.73 588.5 L93.72 588.5 L95.71 588.5 L97.7 588.5 L99.69 588.5 L101.69 588.5 L103.68 588.5 L105.67 588.5 L107.66 588.5 L109.65 588.5 L111.65 588.5 L113.64 588.5 L115.63 588.5 L117.62 588.5 L119.61 588.5 L121.61 588.5 L123.6 588.5 L125.59 588.5 L127.58 588.5 L129.57 588.5 L131.57 588.5 L133.56 588.5 L135.55 588.5 L137.54 588.5 L139.53 588.5 L141.53 588.5 L143.52 588.5 L145.51 588.5 L147.5 588.5 L149.49 588.5 L151.49 588.5 L153.48 590.59 L153.98 591.11 L155.97 591.11 L157.96 591.11 L159.95 591.11 L161.94 591.11 L163.93 591.11 L165.93 591.11 L167.92 591.11 L169.91 591.11 L171.9 591.11 L173.89 591.11 L175.89 591.11 L177.88 591.11 L179.87 591.11 L181.86 591.11 L183.85 591.11 L185.1 591.11" stroke="#f0a040" stroke-width="1.3" fill="none"/>
<path d="M60.6 579.21L62.69 575.41L58.51 575.41Z" fill="#f0a040"/>
<path d="M62.59 581.2L64.68 577.4L60.5 577.4Z" fill="#f0a040"/>
<path d="M64.34 582.94L66.43 579.14L62.25 579.14Z" fill="#f0a040"/>
<path d="M66.33 584.14L68.42 580.34L64.24 580.34Z" fill="#f0a040"/>
<path d="M68.07 585.18L70.16 581.38L65.98 581.38Z" fill="#f0a040"/>
<path d="M70.06 585.72L72.15 581.92L67.97 581.92Z" fill="#f0a040"/>
<path d="M72.05 586.26L74.14 582.46L69.96 582.46Z" fill="#f0a040"/>
<path d="M73.05 586.52L75.14 582.72L70.96 582.72Z" fill="#f0a040"/>
<path d="M75.04 586.93L77.13 583.13L72.95 583.13Z" fill="#f0a040"/>
<path d="M77.03 587.34L79.12 583.54L74.94 583.54Z" fill="#f0a040"/>
<path d="M79.03 587.74L81.12 583.94L76.94 583.94Z" fill="#f0a040"/>
<path d="M79.28 587.79L81.37 583.99L77.19 583.99Z" fill="#f0a040"/>
<path d="M81.27 588.63L83.36 584.83L79.18 584.83Z" fill="#f0a040"/>
<path d="M83.26 589.46L85.35 585.66L81.17 585.66Z" fill="#f0a040"/>
<path d="M85.25 590.3L87.34 586.5L83.16 586.5Z" fill="#f0a040"/>
<path d="M85.5 590.4L87.59 586.6L83.41 586.6Z" fill="#f0a040"/>
<path d="M87.49 590.52L89.58 586.72L85.4 586.72Z" fill="#f0a040"/>
<path d="M89.48 590.64L91.57 586.84L87.39 586.84Z" fill="#f0a040"/>
<path d="M91.48 590.76L93.57 586.96L89.39 586.96Z" fill="#f0a040"/>
<path d="M91.73 590.78L93.82 586.98L89.64 586.98Z" fill="#f0a040"/>
<path d="M93.72 590.78L95.81 586.98L91.63 586.98Z" fill="#f0a040"/>
<path d="M95.71 590.78L97.8 586.98L93.62 586.98Z" fill="#f0a040"/>
<path d="M97.7 590.78L99.79 586.98L95.61 586.98Z" fill="#f0a040"/>
<path d="M99.69 590.78L101.78 586.98L97.6 586.98Z" fill="#f0a040"/>
<path d="M101.69 590.78L103.78 586.98L99.6 586.98Z" fill="#f0a040"/>
<path d="M103.68 590.78L105.77 586.98L101.59 586.98Z" fill="#f0a040"/>
<path d="M105.67 590.78L107.76 586.98L103.58 586.98Z" fill="#f0a040"/>
<path d="M107.66 590.78L109.75 586.98L105.57 586.98Z" fill="#f0a040"/>
<path d="M109.65 590.78L111.74 586.98L107.56 586.98Z" fill="#f0a040"/>
<path d="M111.65 590.78L113.74 586.98L109.56 586.98Z" fill="#f0a040"/>
<path d="M113.64 590.78L115.73 586.98L111.55 586.98Z" fill="#f0a040"/>
<path d="M115.63 590.78L117.72 586.98L113.54 586.98Z" fill="#f0a040"/>
<path d="M117.62 590.78L119.71 586.98L115.53 586.98Z" fill="#f0a040"/>
<path d="M119.61 590.78L121.7 586.98L117.52 586.98Z" fill="#f0a040"/>
<path d="M121.61 590.78L123.7 586.98L119.52 586.98Z" fill="#f0a040"/>
<path d="M123.6 590.78L125.69 586.98L121.51 586.98Z" fill="#f0a040"/>
<path d="M125.59 590.78L127.68 586.98L123.5 586.98Z" fill="#f0a040"/>
<path d="M127.58 590.78L129.67 586.98L125.49 586.98Z" fill="#f0a040"/>
<path d="M129.57 590.78L131.66 586.98L127.48 586.98Z" fill="#f0a040"/>
<path d="M131.57 590.78L133.66 586.98L129.48 586.98Z" fill="#f0a040"/>
<path d="M133.56 590.78L135.65 586.98L131.47 586.98Z" fill="#f0a040"/>
<path d="M135.55 590.78L137.64 586.98L133.46 586.98Z" fill="#f0a040"/>
<path d="M137.54 590.78L139.63 586.98L135.45 586.98Z" fill="#f0a040"/>
<path d="M139.53 590.78L141.62 586.98L137.44 586.98Z" fill="#f0a040"/>
<path d="M141.53 590.78L143.62 586.98L139.44 586.98Z" fill="#f0a040"/>
<path d="M143.52 590.78L145.61 586.98L141.43 586.98Z" fill="#f0a040"/>
<path d="M145.51 590.78L147.6 586.98L143.42 586.98Z" fill="#f0a040"/>
<path d="M147.5 590.78L149.59 586.98L145.41 586.98Z" fill="#f0a040"/>
<path d="M149.49 590.78L151.58 586.98L147.4 586.98Z" fill="#f0a040"/>
<path d="M151.49 590.78L153.58 586.98L149.4 586.98Z" fill="#f0a040"/>
<path d="M153.48 592.87L155.57 589.07L151.39 589.07Z" fill="#f0a040"/>
<path d="M153.98 593.39L156.07 589.59L151.89 589.59Z" fill="#f0a040"/>
<path d="M155.97 593.39L158.06 589.59L153.88 589.59Z" fill="#f0a040"/>
<path d="M157.96 593.39L160.05 589.59L155.87 589.59Z" fill="#f0a040"/>
<path d="M159.95 593.39L162.04 589.59L157.86 589.59Z" fill="#f0a040"/>
<path d="M161.94 593.39L164.03 589.59L159.85 589.59Z" fill="#f0a040"/>
<path d="M163.93 593.39L166.02 589.59L161.84 589.59Z" fill="#f0a040"/>
<path d="M165.93 593.39L168.02 589.59L163.84 589.59Z" fill="#f0a040"/>
<path d="M167.92 593.39L170.01 589.59L165.83 589.59Z" fill="#f0a040"/>
<path d="M169.91 593.39L172 589.59L167.82 589.59Z" fill="#f0a040"/>
<path d="M171.9 593.39L173.99 589.59L169.81 589.59Z" fill="#f0a040"/>
<path d="M173.89 593.39L175.98 589.59L171.8 589.59Z" fill="#f0a040"/>
<path d="M175.89 593.39L177.98 589.59L173.8 589.59Z" fill="#f0a040"/>
<path d="M177.88 593.39L179.97 589.59L175.79 589.59Z" fill="#f0a040"/>
<path d="M179.87 593.39L181.96 589.59L177.78 589.59Z" fill="#f0a040"/>
<path d="M181.86 593.39L183.95 589.59L179.77 589.59Z" fill="#f0a040"/>
<path d="M183.85 593.39L185.94 589.59L181.76 589.59Z" fill="#f0a040"/>
<path d="M185.1 593.39L187.19 589.59L183.01 589.59Z" fill="#f0a040"/>
<path d="M60.6 579.92 L62.59 582.6 L64.58 585.29 L65.58 586.63 L67.57 588.12 L69.56 589.62 L70.56 590.36 L72.55 590.7 L74.54 591.04 L76.54 591.39 L78.53 591.73 L79.28 591.85 L81.27 591.86 L83.26 591.86 L85.25 591.86 L87.24 591.87 L89.24 591.87 L91.23 591.87 L93.22 591.87 L95.21 591.88 L97.2 591.88 L99.2 591.88 L101.19 591.88 L103.18 591.89 L105.17 591.89 L107.16 591.89 L109.16 591.9 L111.15 591.9 L113.14 591.9 L115.13 591.9 L117.12 591.91 L119.12 591.91 L121.11 591.91 L123.1 591.92 L125.09 591.92 L127.08 591.92 L129.08 591.92 L131.07 591.93 L133.06 591.93 L135.05 591.93 L137.04 591.94 L139.04 591.94 L141.03 591.94 L143.02 591.94 L145.01 591.95 L147 591.95 L149 591.95 L150.99 591.96 L152.98 591.96 L154.97 591.96 L156.96 591.96 L158.95 591.97 L160.95 591.97 L162.94 591.97 L164.93 591.97 L166.92 591.98 L168.91 591.98 L170.91 591.98 L172.9 591.99 L174.89 591.99 L176.88 591.99 L178.87 591.99 L180.87 592 L182.86 592 L184.85 592 L185.1 592" stroke="#2a8a8a" stroke-width="1.2" fill="none"/>
<rect x="59.1" y="578.42" width="3" height="3" fill="#2a8a8a"/>
<rect x="61.09" y="581.1" width="3" height="3" fill="#2a8a8a"/>
<rect x="63.08" y="583.79" width="3" height="3" fill="#2a8a8a"/>
<rect x="64.08" y="585.13" width="3" height="3" fill="#2a8a8a"/>
<rect x="66.07" y="586.62" width="3" height="3" fill="#2a8a8a"/>
<rect x="68.06" y="588.12" width="3" height="3" fill="#2a8a8a"/>
<rect x="69.06" y="588.86" width="3" height="3" fill="#2a8a8a"/>
<rect x="71.05" y="589.2" width="3" height="3" fill="#2a8a8a"/>
<rect x="73.04" y="589.54" width="3" height="3" fill="#2a8a8a"/>
<rect x="75.04" y="589.89" width="3" height="3" fill="#2a8a8a"/>
<rect x="77.03" y="590.23" width="3" height="3" fill="#2a8a8a"/>
<rect x="77.78" y="590.35" width="3" height="3" fill="#2a8a8a"/>
<rect x="79.77" y="590.36" width="3" height="3" fill="#2a8a8a"/>
<rect x="81.76" y="590.36" width="3" height="3" fill="#2a8a8a"/>
<rect x="83.75" y="590.36" width="3" height="3" fill="#2a8a8a"/>
<rect x="85.74" y="590.37" width="3" height="3" fill="#2a8a8a"/>
<rect x="87.74" y="590.37" width="3" height="3" fill="#2a8a8a"/>
<rect x="89.73" y="590.37" width="3" height="3" fill="#2a8a8a"/>
<rect x="91.72" y="590.37" width="3" height="3" fill="#2a8a8a"/>
<rect x="93.71" y="590.38" width="3" height="3" fill="#2a8a8a"/>
<rect x="95.7" y="590.38" width="3" height="3" fill="#2a8a8a"/>
<rect x="97.7" y="590.38" width="3" height="3" fill="#2a8a8a"/>
<rect x="99.69" y="590.38" width="3" height="3" fill="#2a8a8a"/>
<rect x="101.68" y="590.39" width="3" height="3" fill="#2a8a8a"/>
<rect x="103.67" y="590.39" width="3" height="3" fill="#2a8a8a"/>
<rect x="105.66" y="590.39" width="3" height="3" fill="#2a8a8a"/>
<rect x="107.66" y="590.4" width="3" height="3" fill="#2a8a8a"/>
<rect x="109.65" y="590.4" width="3" height="3" fill="#2a8a8a"/>
<rect x="111.64" y="590.4" width="3" height="3" fill="#2a8a8a"/>
<rect x="113.63" y="590.4" width="3" height="3" fill="#2a8a8a"/>
<rect x="115.62" y="590.41" width="3" height="3" fill="#2a8a8a"/>
<rect x="117.62" y="590.41" width="3" height="3" fill="#2a8a8a"/>
<rect x="119.61" y="590.41" width="3" height="3" fill="#2a8a8a"/>
<rect x="121.6" y="590.42" width="3" height="3" fill="#2a8a8a"/>
<rect x="123.59" y="590.42" width="3" height="3" fill="#2a8a8a"/>
<rect x="125.58" y="590.42" width="3" height="3" fill="#2a8a8a"/>
<rect x="127.58" y="590.42" width="3" height="3" fill="#2a8a8a"/>
<rect x="129.57" y="590.43" width="3" height="3" fill="#2a8a8a"/>
<rect x="131.56" y="590.43" width="3" height="3" fill="#2a8a8a"/>
<rect x="133.55" y="590.43" width="3" height="3" fill="#2a8a8a"/>
<rect x="135.54" y="590.44" width="3" height="3" fill="#2a8a8a"/>
<rect x="137.54" y="590.44" width="3" height="3" fill="#2a8a8a"/>
<rect x="139.53" y="590.44" width="3" height="3" fill="#2a8a8a"/>
<rect x="141.52" y="590.44" width="3" height="3" fill="#2a8a8a"/>
<rect x="143.51" y="590.45" width="3" height="3" fill="#2a8a8a"/>
<rect x="145.5" y="590.45" width="3" height="3" fill="#2a8a8a"/>
<rect x="147.5" y="590.45" width="3" height="3" fill="#2a8a8a"/>
<rect x="149.49" y="590.46" width="3" height="3" fill="#2a8a8a"/>
<rect x="151.48" y="590.46" width="3" height="3" fill="#2a8a8a"/>
<rect x="153.47" y="590.46" width="3" height="3" fill="#2a8a8a"/>
<rect x="155.46" y="590.46" width="3" height="3" fill="#2a8a8a"/>
<rect x="157.45" y="590.47" width="3" height="3" fill="#2a8a8a"/>
<rect x="159.45" y="590.47" width="3" height="3" fill="#2a8a8a"/>
<rect x="161.44" y="590.47" width="3" height="3" fill="#2a8a8a"/>
<rect x="163.43" y="590.47" width="3" height="3" fill="#2a8a8a"/>
<rect x="165.42" y="590.48" width="3" height="3" fill="#2a8a8a"/>
<rect x="167.41" y="590.48" width="3" height="3" fill="#2a8a8a"/>
<rect x="169.41" y="590.48" width="3" height="3" fill="#2a8a8a"/>
<rect x="171.4" y="590.49" width="3" height="3" fill="#2a8a8a"/>
<rect x="173.39" y="590.49" width="3" height="3" fill="#2a8a8a"/>
<rect x="175.38" y="590.49" width="3" height="3" fill="#2a8a8a"/>
<rect x="177.37" y="590.49" width="3" height="3" fill="#2a8a8a"/>
<rect x="179.37" y="590.5" width="3" height="3" fill="#2a8a8a"/>
<rect x="181.36" y="590.5" width="3" height="3" fill="#2a8a8a"/>
<rect x="183.35" y="590.5" width="3" height="3" fill="#2a8a8a"/>
<rect x="183.6" y="590.5" width="3" height="3" fill="#2a8a8a"/>
<path d="M60.6 580.66 L62.59 582.65 L64.34 584.39 L66.33 586.78 L68.07 588.87 L70.06 589.77 L72.05 590.66 L73.05 591.11 L75.04 591.39 L77.03 591.68 L79.03 591.97 L79.28 592 L81.27 592.01 L83.26 592.01 L85.25 592.02 L87.24 592.02 L89.24 592.02 L91.23 592.03 L93.22 592.03 L95.21 592.04 L97.2 592.04 L99.2 592.05 L101.19 592.05 L103.18 592.05 L105.17 592.06 L107.16 592.06 L109.16 592.07 L111.15 592.07 L113.14 592.07 L115.13 592.08 L117.12 592.08 L119.12 592.09 L121.11 592.09 L123.1 592.1 L125.09 592.1 L127.08 592.1 L129.08 592.11 L131.07 592.11 L133.06 592.12 L135.05 592.12 L137.04 592.13 L139.04 592.13 L141.03 592.13 L143.02 592.14 L145.01 592.14 L147 592.15 L149 592.15 L150.99 592.15 L152.98 592.16 L154.97 592.16 L156.96 592.17 L158.95 592.17 L160.95 592.18 L162.94 592.18 L164.93 592.18 L166.92 592.19 L168.91 592.19 L170.91 592.2 L172.9 592.2 L174.89 592.21 L176.88 592.21 L178.87 592.21 L180.87 592.22 L182.86 592.22 L184.85 592.23 L185.1 592.23" stroke="#3a0a70" stroke-width="2.2" fill="none"/>
<path d="M60.6 578.19L62.69 580.66L60.6 583.13L58.51 580.66Z" fill="#3a0a70"/>
<path d="M62.59 580.18L64.68 582.65L62.59 585.12L60.5 582.65Z" fill="#3a0a70"/>
<path d="M64.34 581.92L66.43 584.39L64.34 586.86L62.25 584.39Z" fill="#3a0a70"/>
<path d="M66.33 584.31L68.42 586.78L66.33 589.25L64.24 586.78Z" fill="#3a0a70"/>
<path d="M68.07 586.4L70.16 588.87L68.07 591.34L65.98 588.87Z" fill="#3a0a70"/>
<path d="M70.06 587.3L72.15 589.77L70.06 592.24L67.97 589.77Z" fill="#3a0a70"/>
<path d="M72.05 588.19L74.14 590.66L72.05 593.13L69.96 590.66Z" fill="#3a0a70"/>
<path d="M73.05 588.64L75.14 591.11L73.05 593.58L70.96 591.11Z" fill="#3a0a70"/>
<path d="M75.04 588.92L77.13 591.39L75.04 593.86L72.95 591.39Z" fill="#3a0a70"/>
<path d="M77.03 589.21L79.12 591.68L77.03 594.15L74.94 591.68Z" fill="#3a0a70"/>
<path d="M79.03 589.5L81.12 591.97L79.03 594.44L76.94 591.97Z" fill="#3a0a70"/>
<path d="M79.28 589.53L81.37 592L79.28 594.47L77.19 592Z" fill="#3a0a70"/>
<path d="M81.27 589.54L83.36 592.01L81.27 594.48L79.18 592.01Z" fill="#3a0a70"/>
<path d="M83.26 589.54L85.35 592.01L83.26 594.48L81.17 592.01Z" fill="#3a0a70"/>
<path d="M85.25 589.55L87.34 592.02L85.25 594.49L83.16 592.02Z" fill="#3a0a70"/>
<path d="M87.24 589.55L89.33 592.02L87.24 594.49L85.15 592.02Z" fill="#3a0a70"/>
<path d="M89.24 589.55L91.33 592.02L89.24 594.49L87.15 592.02Z" fill="#3a0a70"/>
<path d="M91.23 589.56L93.32 592.03L91.23 594.5L89.14 592.03Z" fill="#3a0a70"/>
<path d="M93.22 589.56L95.31 592.03L93.22 594.5L91.13 592.03Z" fill="#3a0a70"/>
<path d="M95.21 589.57L97.3 592.04L95.21 594.51L93.12 592.04Z" fill="#3a0a70"/>
<path d="M97.2 589.57L99.29 592.04L97.2 594.51L95.11 592.04Z" fill="#3a0a70"/>
<path d="M99.2 589.58L101.29 592.05L99.2 594.52L97.11 592.05Z" fill="#3a0a70"/>
<path d="M101.19 589.58L103.28 592.05L101.19 594.52L99.1 592.05Z" fill="#3a0a70"/>
<path d="M103.18 589.58L105.27 592.05L103.18 594.52L101.09 592.05Z" fill="#3a0a70"/>
<path d="M105.17 589.59L107.26 592.06L105.17 594.53L103.08 592.06Z" fill="#3a0a70"/>
<path d="M107.16 589.59L109.25 592.06L107.16 594.53L105.07 592.06Z" fill="#3a0a70"/>
<path d="M109.16 589.6L111.25 592.07L109.16 594.54L107.07 592.07Z" fill="#3a0a70"/>
<path d="M111.15 589.6L113.24 592.07L111.15 594.54L109.06 592.07Z" fill="#3a0a70"/>
<path d="M113.14 589.6L115.23 592.07L113.14 594.54L111.05 592.07Z" fill="#3a0a70"/>
<path d="M115.13 589.61L117.22 592.08L115.13 594.55L113.04 592.08Z" fill="#3a0a70"/>
<path d="M117.12 589.61L119.21 592.08L117.12 594.55L115.03 592.08Z" fill="#3a0a70"/>
<path d="M119.12 589.62L121.21 592.09L119.12 594.56L117.03 592.09Z" fill="#3a0a70"/>
<path d="M121.11 589.62L123.2 592.09L121.11 594.56L119.02 592.09Z" fill="#3a0a70"/>
<path d="M123.1 589.63L125.19 592.1L123.1 594.57L121.01 592.1Z" fill="#3a0a70"/>
<path d="M125.09 589.63L127.18 592.1L125.09 594.57L123 592.1Z" fill="#3a0a70"/>
<path d="M127.08 589.63L129.17 592.1L127.08 594.57L124.99 592.1Z" fill="#3a0a70"/>
<path d="M129.08 589.64L131.17 592.11L129.08 594.58L126.99 592.11Z" fill="#3a0a70"/>
<path d="M131.07 589.64L133.16 592.11L131.07 594.58L128.98 592.11Z" fill="#3a0a70"/>
<path d="M133.06 589.65L135.15 592.12L133.06 594.59L130.97 592.12Z" fill="#3a0a70"/>
<path d="M135.05 589.65L137.14 592.12L135.05 594.59L132.96 592.12Z" fill="#3a0a70"/>
<path d="M137.04 589.66L139.13 592.13L137.04 594.6L134.95 592.13Z" fill="#3a0a70"/>
<path d="M139.04 589.66L141.13 592.13L139.04 594.6L136.95 592.13Z" fill="#3a0a70"/>
<path d="M141.03 589.66L143.12 592.13L141.03 594.6L138.94 592.13Z" fill="#3a0a70"/>
<path d="M143.02 589.67L145.11 592.14L143.02 594.61L140.93 592.14Z" fill="#3a0a70"/>
<path d="M145.01 589.67L147.1 592.14L145.01 594.61L142.92 592.14Z" fill="#3a0a70"/>
<path d="M147 589.68L149.09 592.15L147 594.62L144.91 592.15Z" fill="#3a0a70"/>
<path d="M149 589.68L151.09 592.15L149 594.62L146.91 592.15Z" fill="#3a0a70"/>
<path d="M150.99 589.68L153.08 592.15L150.99 594.62L148.9 592.15Z" fill="#3a0a70"/>
<path d="M152.98 589.69L155.07 592.16L152.98 594.63L150.89 592.16Z" fill="#3a0a70"/>
<path d="M154.97 589.69L157.06 592.16L154.97 594.63L152.88 592.16Z" fill="#3a0a70"/>
<path d="M156.96 589.7L159.05 592.17L156.96 594.64L154.87 592.17Z" fill="#3a0a70"/>
<path d="M158.95 589.7L161.04 592.17L158.95 594.64L156.86 592.17Z" fill="#3a0a70"/>
<path d="M160.95 589.71L163.04 592.18L160.95 594.65L158.86 592.18Z" fill="#3a0a70"/>
<path d="M162.94 589.71L165.03 592.18L162.94 594.65L160.85 592.18Z" fill="#3a0a70"/>
<path d="M164.93 589.71L167.02 592.18L164.93 594.65L162.84 592.18Z" fill="#3a0a70"/>
<path d="M166.92 589.72L169.01 592.19L166.92 594.66L164.83 592.19Z" fill="#3a0a70"/>
<path d="M168.91 589.72L171 592.19L168.91 594.66L166.82 592.19Z" fill="#3a0a70"/>
<path d="M170.91 589.73L173 592.2L170.91 594.67L168.82 592.2Z" fill="#3a0a70"/>
<path d="M172.9 589.73L174.99 592.2L172.9 594.67L170.81 592.2Z" fill="#3a0a70"/>
<path d="M174.89 589.74L176.98 592.21L174.89 594.68L172.8 592.21Z" fill="#3a0a70"/>
<path d="M176.88 589.74L178.97 592.21L176.88 594.68L174.79 592.21Z" fill="#3a0a70"/>
<path d="M178.87 589.74L180.96 592.21L178.87 594.68L176.78 592.21Z" fill="#3a0a70"/>
<path d="M180.87 589.75L182.96 592.22L180.87 594.69L178.78 592.22Z" fill="#3a0a70"/>
<path d="M182.86 589.75L184.95 592.22L182.86 594.69L180.77 592.22Z" fill="#3a0a70"/>
<path d="M184.85 589.76L186.94 592.23L184.85 594.7L182.76 592.23Z" fill="#3a0a70"/>
<path d="M185.1 589.76L187.19 592.23L185.1 594.7L183.01 592.23Z" fill="#3a0a70"/>
<path d="M70.56 584.84 L72.55 585.08 L73.05 585.14 L75.04 584.24 L75.54 584.02 L77.53 583.42 L78.03 583.27 L80.02 582.98 L80.52 582.9 L82.39 584.39 L84.25 587.38" stroke="#f21c1c" stroke-width="1.2" fill="none"/>
<rect x="68.86" y="583.14" width="3.4" height="3.4" fill="#f21c1c"/>
<rect x="70.85" y="583.38" width="3.4" height="3.4" fill="#f21c1c"/>
<rect x="71.35" y="583.44" width="3.4" height="3.4" fill="#f21c1c"/>
<rect x="73.34" y="582.54" width="3.4" height="3.4" fill="#f21c1c"/>
<rect x="73.84" y="582.32" width="3.4" height="3.4" fill="#f21c1c"/>
<rect x="75.83" y="581.72" width="3.4" height="3.4" fill="#f21c1c"/>
<rect x="76.33" y="581.57" width="3.4" height="3.4" fill="#f21c1c"/>
<rect x="78.32" y="581.28" width="3.4" height="3.4" fill="#f21c1c"/>
<rect x="78.82" y="581.2" width="3.4" height="3.4" fill="#f21c1c"/>
<rect x="80.69" y="582.69" width="3.4" height="3.4" fill="#f21c1c"/>
<rect x="82.55" y="585.68" width="3.4" height="3.4" fill="#f21c1c"/>
<path d="M62.3 577.5 L64.45 575.3 L66.4 569.5 L69 562.4 L70.9 554 L73.5 550.2 L76.7 544.7 L78.6 534 L81.6 532.1 L83.8 519.2 L86.6 515.3" stroke="#000" stroke-width="1.2" fill="none"/>
<circle cx="62.3" cy="577.5" r="2.6" fill="#000"/>
<circle cx="64.45" cy="575.3" r="2.6" fill="#000"/>
<circle cx="66.4" cy="569.5" r="2.6" fill="#000"/>
<circle cx="69" cy="562.4" r="2.6" fill="#000"/>
<circle cx="70.9" cy="554" r="2.6" fill="#000"/>
<circle cx="73.5" cy="550.2" r="2.6" fill="#000"/>
<circle cx="76.7" cy="544.7" r="2.6" fill="#000"/>
<circle cx="78.6" cy="534" r="2.6" fill="#000"/>
<circle cx="81.6" cy="532.1" r="2.6" fill="#000"/>
<circle cx="83.8" cy="519.2" r="2.6" fill="#000"/>
<circle cx="86.6" cy="515.3" r="2.6" fill="#000"/>
<line x1="87" y1="542.4" x2="87" y2="580" stroke="#6a1f7a" stroke-width="1.3"/>
<path d="M83.5 577.5L90.5 577.5L87 584.6Z" fill="#6a1f7a"/>
<text x="90" y="551.3" font-size="9.3" stroke="#6a1f7a" stroke-width="0.12" fill="#6a1f7a" textLength="34.5" lengthAdjust="spacingAndGlyphs">Off drug</text>
<text x="90" y="561.3" font-size="9.3" stroke="#6a1f7a" stroke-width="0.12" fill="#6a1f7a" textLength="37" lengthAdjust="spacingAndGlyphs">at 21 day</text>
<line x1="75" y1="458" x2="87.5" y2="458" stroke="#000" stroke-width="1.2"/>
<circle cx="81.2" cy="458" r="2.2" fill="#000"/>
<text x="95" y="460.6" font-size="7.8" stroke="#000" stroke-width="0.25" textLength="24.2" lengthAdjust="spacingAndGlyphs">Vehicle</text>
<line x1="75" y1="466.45" x2="87.5" y2="466.45" stroke="#1c24e8" stroke-width="1.2"/>
<path d="M81.2 463.81L83.62 468.21L78.78 468.21Z" fill="#1c24e8"/>
<text x="95" y="469.05" font-size="7.8" stroke="#000" stroke-width="0.25" textLength="23.41" lengthAdjust="spacingAndGlyphs">Lorla-1</text>
<line x1="75" y1="474.9" x2="87.5" y2="474.9" stroke="#f21c1c" stroke-width="1.2"/>
<rect x="79" y="472.7" width="4.4" height="4.4" fill="#f21c1c"/>
<text x="95" y="477.5" font-size="7.8" stroke="#000" stroke-width="0.25" textLength="23.41" lengthAdjust="spacingAndGlyphs">Lorla-2</text>
<line x1="75" y1="483.35" x2="87.5" y2="483.35" stroke="#1f7a1f" stroke-width="1.2"/>
<circle cx="81.2" cy="483.35" r="2.2" fill="#1f7a1f"/>
<text x="95" y="485.95" font-size="7.8" stroke="#000" stroke-width="0.25" textLength="23.41" lengthAdjust="spacingAndGlyphs">Lorla-3</text>
<line x1="75" y1="491.8" x2="87.5" y2="491.8" stroke="#44ee44" stroke-width="1.2"/>
<circle cx="81.2" cy="491.8" r="2.2" fill="#44ee44"/>
<text x="95" y="494.4" font-size="7.8" stroke="#000" stroke-width="0.25" textLength="23.41" lengthAdjust="spacingAndGlyphs">Lorla-4</text>
<line x1="130" y1="466.4" x2="142.5" y2="466.4" stroke="#e070d0" stroke-width="1.2"/>
<path d="M136.2 463.76L138.62 468.16L133.78 468.16Z" fill="#e070d0"/>
<text x="151" y="469" font-size="7.8" stroke="#000" stroke-width="0.25" textLength="23.79" lengthAdjust="spacingAndGlyphs">Repo-1</text>
<line x1="130" y1="474.85" x2="142.5" y2="474.85" stroke="#2a8a8a" stroke-width="1.2"/>
<rect x="134" y="472.65" width="4.4" height="4.4" fill="#2a8a8a"/>
<text x="151" y="477.45" font-size="7.8" stroke="#000" stroke-width="0.25" textLength="23.79" lengthAdjust="spacingAndGlyphs">Repo-2</text>
<line x1="130" y1="483.3" x2="142.5" y2="483.3" stroke="#ff8c1a" stroke-width="1.2"/>
<path d="M136.2 485.94L138.62 481.54L133.78 481.54Z" fill="#ff8c1a"/>
<text x="151" y="485.9" font-size="7.8" stroke="#000" stroke-width="0.25" textLength="23.79" lengthAdjust="spacingAndGlyphs">Repo-3</text>
<line x1="130" y1="491.75" x2="142.5" y2="491.75" stroke="#3a0a6a" stroke-width="1.2"/>
<path d="M136.2 488.89L138.62 491.75L136.2 494.61L133.78 491.75Z" fill="#3a0a6a"/>
<text x="151" y="494.35" font-size="7.8" stroke="#000" stroke-width="0.25" textLength="23.79" lengthAdjust="spacingAndGlyphs">Repo-4</text>
<text x="225.5" y="461" font-size="13" stroke="#000" stroke-width="0.25">F</text>
<line x1="284.2" y1="479" x2="284.2" y2="593.1" stroke="#000" stroke-width="1.2"/>
<line x1="283.7" y1="592.6" x2="403.8" y2="592.6" stroke="#000" stroke-width="1.2"/>
<line x1="280.7" y1="592.6" x2="284.2" y2="592.6" stroke="#000" stroke-width="1"/>
<text x="278.5" y="595.9" font-size="10" stroke="#000" stroke-width="0.08" font-weight="normal" text-anchor="end">0</text>
<line x1="280.7" y1="554.9" x2="284.2" y2="554.9" stroke="#000" stroke-width="1"/>
<text x="278.5" y="558.2" font-size="10" stroke="#000" stroke-width="0.08" font-weight="normal" text-anchor="end" textLength="15.02" lengthAdjust="spacingAndGlyphs">500</text>
<line x1="280.7" y1="517.2" x2="284.2" y2="517.2" stroke="#000" stroke-width="1"/>
<text x="278.5" y="520.5" font-size="10" stroke="#000" stroke-width="0.08" font-weight="normal" text-anchor="end" textLength="22.52" lengthAdjust="spacingAndGlyphs">1,000</text>
<line x1="280.7" y1="479.5" x2="284.2" y2="479.5" stroke="#000" stroke-width="1"/>
<text x="278.5" y="482.8" font-size="10" stroke="#000" stroke-width="0.08" font-weight="normal" text-anchor="end" textLength="22.52" lengthAdjust="spacingAndGlyphs">1,500</text>
<line x1="307.6" y1="592.6" x2="307.6" y2="595.6" stroke="#000" stroke-width="1"/>
<text x="307.6" y="605" font-size="10" stroke="#000" stroke-width="0.08" font-weight="normal" text-anchor="middle" textLength="10.01" lengthAdjust="spacingAndGlyphs">20</text>
<line x1="331.4" y1="592.6" x2="331.4" y2="595.6" stroke="#000" stroke-width="1"/>
<text x="331.4" y="605" font-size="10" stroke="#000" stroke-width="0.08" font-weight="normal" text-anchor="middle" textLength="10.01" lengthAdjust="spacingAndGlyphs">40</text>
<line x1="355.2" y1="592.6" x2="355.2" y2="595.6" stroke="#000" stroke-width="1"/>
<text x="355.2" y="605" font-size="10" stroke="#000" stroke-width="0.08" font-weight="normal" text-anchor="middle" textLength="10.01" lengthAdjust="spacingAndGlyphs">60</text>
<line x1="379" y1="592.6" x2="379" y2="595.6" stroke="#000" stroke-width="1"/>
<text x="379" y="605" font-size="10" stroke="#000" stroke-width="0.08" font-weight="normal" text-anchor="middle" textLength="10.01" lengthAdjust="spacingAndGlyphs">80</text>
<line x1="402.8" y1="592.6" x2="402.8" y2="595.6" stroke="#000" stroke-width="1"/>
<text x="402.8" y="605" font-size="10" stroke="#000" stroke-width="0.08" font-weight="normal" text-anchor="middle" textLength="15.02" lengthAdjust="spacingAndGlyphs">100</text>
<text x="357.5" y="617.8" font-size="10" stroke="#000" stroke-width="0.25" text-anchor="middle" textLength="21.52" lengthAdjust="spacingAndGlyphs">Days</text>
<text x="251" y="536.5" font-size="8.6" text-anchor="middle" textLength="80.7" lengthAdjust="spacingAndGlyphs" stroke="#000" stroke-width="0.2" transform="rotate(-90 251 536.5)">Tumor volume (mm<tspan font-size="5.6" dy="-3">3</tspan><tspan dy="3">)</tspan></text>
<path d="M284 581 L286 585.5 L288 588 L291 589.8 L295 591 L297.5 591.4 L300 591.8 L302.43 591.8 L304.86 591.81 L307.29 591.81 L309.71 591.82 L312.14 591.82 L314.57 591.83 L317 591.83 L319.43 591.84 L321.86 591.84 L324.29 591.85 L326.71 591.85 L329.14 591.86 L331.57 591.86 L334 591.87 L336.43 591.87 L338.86 591.88 L341.29 591.88 L343.71 591.89 L346.14 591.89 L348.57 591.9 L351 591.9 L353.43 591.9 L355.86 591.91 L358.29 591.91 L360.71 591.92 L363.14 591.92 L365.57 591.93 L368 591.93 L370.43 591.94 L372.86 591.94 L375.29 591.95 L377.71 591.95 L380.14 591.96 L382.57 591.96 L385 591.97 L387.43 591.97 L389.86 591.98 L392.29 591.98 L394.71 591.99 L397.14 591.99 L399.57 592 L402 592" stroke="#f21c1c" stroke-width="1.2" fill="none"/>
<path d="M284 578.4L286.2 581L284 583.6L281.8 581Z" fill="#f21c1c"/>
<path d="M286 582.9L288.2 585.5L286 588.1L283.8 585.5Z" fill="#f21c1c"/>
<path d="M288 585.4L290.2 588L288 590.6L285.8 588Z" fill="#f21c1c"/>
<path d="M291 587.2L293.2 589.8L291 592.4L288.8 589.8Z" fill="#f21c1c"/>
<path d="M295 588.4L297.2 591L295 593.6L292.8 591Z" fill="#f21c1c"/>
<path d="M297.5 588.8L299.7 591.4L297.5 594L295.3 591.4Z" fill="#f21c1c"/>
<path d="M300 589.2L302.2 591.8L300 594.4L297.8 591.8Z" fill="#f21c1c"/>
<path d="M302.43 589.2L304.63 591.8L302.43 594.4L300.23 591.8Z" fill="#f21c1c"/>
<path d="M304.86 589.21L307.06 591.81L304.86 594.41L302.66 591.81Z" fill="#f21c1c"/>
<path d="M307.29 589.21L309.49 591.81L307.29 594.41L305.09 591.81Z" fill="#f21c1c"/>
<path d="M309.71 589.22L311.91 591.82L309.71 594.42L307.51 591.82Z" fill="#f21c1c"/>
<path d="M312.14 589.22L314.34 591.82L312.14 594.42L309.94 591.82Z" fill="#f21c1c"/>
<path d="M314.57 589.23L316.77 591.83L314.57 594.43L312.37 591.83Z" fill="#f21c1c"/>
<path d="M317 589.23L319.2 591.83L317 594.43L314.8 591.83Z" fill="#f21c1c"/>
<path d="M319.43 589.24L321.63 591.84L319.43 594.44L317.23 591.84Z" fill="#f21c1c"/>
<path d="M321.86 589.24L324.06 591.84L321.86 594.44L319.66 591.84Z" fill="#f21c1c"/>
<path d="M324.29 589.25L326.49 591.85L324.29 594.45L322.09 591.85Z" fill="#f21c1c"/>
<path d="M326.71 589.25L328.91 591.85L326.71 594.45L324.51 591.85Z" fill="#f21c1c"/>
<path d="M329.14 589.26L331.34 591.86L329.14 594.46L326.94 591.86Z" fill="#f21c1c"/>
<path d="M331.57 589.26L333.77 591.86L331.57 594.46L329.37 591.86Z" fill="#f21c1c"/>
<path d="M334 589.27L336.2 591.87L334 594.47L331.8 591.87Z" fill="#f21c1c"/>
<path d="M336.43 589.27L338.63 591.87L336.43 594.47L334.23 591.87Z" fill="#f21c1c"/>
<path d="M338.86 589.28L341.06 591.88L338.86 594.48L336.66 591.88Z" fill="#f21c1c"/>
<path d="M341.29 589.28L343.49 591.88L341.29 594.48L339.09 591.88Z" fill="#f21c1c"/>
<path d="M343.71 589.29L345.91 591.89L343.71 594.49L341.51 591.89Z" fill="#f21c1c"/>
<path d="M346.14 589.29L348.34 591.89L346.14 594.49L343.94 591.89Z" fill="#f21c1c"/>
<path d="M348.57 589.3L350.77 591.9L348.57 594.5L346.37 591.9Z" fill="#f21c1c"/>
<path d="M351 589.3L353.2 591.9L351 594.5L348.8 591.9Z" fill="#f21c1c"/>
<path d="M353.43 589.3L355.63 591.9L353.43 594.5L351.23 591.9Z" fill="#f21c1c"/>
<path d="M355.86 589.31L358.06 591.91L355.86 594.51L353.66 591.91Z" fill="#f21c1c"/>
<path d="M358.29 589.31L360.49 591.91L358.29 594.51L356.09 591.91Z" fill="#f21c1c"/>
<path d="M360.71 589.32L362.91 591.92L360.71 594.52L358.51 591.92Z" fill="#f21c1c"/>
<path d="M363.14 589.32L365.34 591.92L363.14 594.52L360.94 591.92Z" fill="#f21c1c"/>
<path d="M365.57 589.33L367.77 591.93L365.57 594.53L363.37 591.93Z" fill="#f21c1c"/>
<path d="M368 589.33L370.2 591.93L368 594.53L365.8 591.93Z" fill="#f21c1c"/>
<path d="M370.43 589.34L372.63 591.94L370.43 594.54L368.23 591.94Z" fill="#f21c1c"/>
<path d="M372.86 589.34L375.06 591.94L372.86 594.54L370.66 591.94Z" fill="#f21c1c"/>
<path d="M375.29 589.35L377.49 591.95L375.29 594.55L373.09 591.95Z" fill="#f21c1c"/>
<path d="M377.71 589.35L379.91 591.95L377.71 594.55L375.51 591.95Z" fill="#f21c1c"/>
<path d="M380.14 589.36L382.34 591.96L380.14 594.56L377.94 591.96Z" fill="#f21c1c"/>
<path d="M382.57 589.36L384.77 591.96L382.57 594.56L380.37 591.96Z" fill="#f21c1c"/>
<path d="M385 589.37L387.2 591.97L385 594.57L382.8 591.97Z" fill="#f21c1c"/>
<path d="M387.43 589.37L389.63 591.97L387.43 594.57L385.23 591.97Z" fill="#f21c1c"/>
<path d="M389.86 589.38L392.06 591.98L389.86 594.58L387.66 591.98Z" fill="#f21c1c"/>
<path d="M392.29 589.38L394.49 591.98L392.29 594.58L390.09 591.98Z" fill="#f21c1c"/>
<path d="M394.71 589.39L396.91 591.99L394.71 594.59L392.51 591.99Z" fill="#f21c1c"/>
<path d="M397.14 589.39L399.34 591.99L397.14 594.59L394.94 591.99Z" fill="#f21c1c"/>
<path d="M399.57 589.4L401.77 592L399.57 594.6L397.37 592Z" fill="#f21c1c"/>
<path d="M402 589.4L404.2 592L402 594.6L399.8 592Z" fill="#f21c1c"/>
<path d="M284 578 L287 575 L290 572 L292.5 571 L295 570 L297.5 568.5 L300 567 L302.5 566 L305 565 L307.5 564 L310 563 L313 561 L317 563 L319.5 565.5 L322 568 L326 566 L330 563 L332.5 560.5 L335 558 L337.5 555.5 L340 553 L342.5 551 L345 549 L347.5 548 L350 547 L354 548 L357 552 L360 565 L363 575 L367 579 L369.5 579.5 L372 580 L375 581.5 L378 583 L381.5 584 L385 585 L387.5 585.25 L390 585.5 L392.5 585.75 L395 586 L398.5 586.5 L402 587" stroke="#b040e0" stroke-width="1.2" fill="none"/>
<rect x="282" y="576" width="4" height="4" fill="#b040e0"/>
<rect x="285" y="573" width="4" height="4" fill="#b040e0"/>
<rect x="288" y="570" width="4" height="4" fill="#b040e0"/>
<rect x="290.5" y="569" width="4" height="4" fill="#b040e0"/>
<rect x="293" y="568" width="4" height="4" fill="#b040e0"/>
<rect x="295.5" y="566.5" width="4" height="4" fill="#b040e0"/>
<rect x="298" y="565" width="4" height="4" fill="#b040e0"/>
<rect x="300.5" y="564" width="4" height="4" fill="#b040e0"/>
<rect x="303" y="563" width="4" height="4" fill="#b040e0"/>
<rect x="305.5" y="562" width="4" height="4" fill="#b040e0"/>
<rect x="308" y="561" width="4" height="4" fill="#b040e0"/>
<rect x="311" y="559" width="4" height="4" fill="#b040e0"/>
<rect x="315" y="561" width="4" height="4" fill="#b040e0"/>
<rect x="317.5" y="563.5" width="4" height="4" fill="#b040e0"/>
<rect x="320" y="566" width="4" height="4" fill="#b040e0"/>
<rect x="324" y="564" width="4" height="4" fill="#b040e0"/>
<rect x="328" y="561" width="4" height="4" fill="#b040e0"/>
<rect x="330.5" y="558.5" width="4" height="4" fill="#b040e0"/>
<rect x="333" y="556" width="4" height="4" fill="#b040e0"/>
<rect x="335.5" y="553.5" width="4" height="4" fill="#b040e0"/>
<rect x="338" y="551" width="4" height="4" fill="#b040e0"/>
<rect x="340.5" y="549" width="4" height="4" fill="#b040e0"/>
<rect x="343" y="547" width="4" height="4" fill="#b040e0"/>
<rect x="345.5" y="546" width="4" height="4" fill="#b040e0"/>
<rect x="348" y="545" width="4" height="4" fill="#b040e0"/>
<rect x="352" y="546" width="4" height="4" fill="#b040e0"/>
<rect x="355" y="550" width="4" height="4" fill="#b040e0"/>
<rect x="358" y="563" width="4" height="4" fill="#b040e0"/>
<rect x="361" y="573" width="4" height="4" fill="#b040e0"/>
<rect x="365" y="577" width="4" height="4" fill="#b040e0"/>
<rect x="367.5" y="577.5" width="4" height="4" fill="#b040e0"/>
<rect x="370" y="578" width="4" height="4" fill="#b040e0"/>
<rect x="373" y="579.5" width="4" height="4" fill="#b040e0"/>
<rect x="376" y="581" width="4" height="4" fill="#b040e0"/>
<rect x="379.5" y="582" width="4" height="4" fill="#b040e0"/>
<rect x="383" y="583" width="4" height="4" fill="#b040e0"/>
<rect x="385.5" y="583.25" width="4" height="4" fill="#b040e0"/>
<rect x="388" y="583.5" width="4" height="4" fill="#b040e0"/>
<rect x="390.5" y="583.75" width="4" height="4" fill="#b040e0"/>
<rect x="393" y="584" width="4" height="4" fill="#b040e0"/>
<rect x="396.5" y="584.5" width="4" height="4" fill="#b040e0"/>
<rect x="400" y="585" width="4" height="4" fill="#b040e0"/>
<path d="M284 578 L288 572 L291 563 L294 566 L297 560 L300 565 L302.5 561 L305 557 L309 548 L312 545 L315 544 L318 548 L321 556 L325 565 L327.5 570.5 L330 576 L332.5 577.5 L335 579 L337.5 580 L340 581 L342.5 580 L345 579 L347.5 580.5 L350 582 L352.5 581 L355 580 L357.5 581 L360 582 L362.5 581 L365 580 L367.5 581 L370 582 L372.5 581 L375 580 L377.5 581 L380 582 L382.5 581 L385 580 L387.5 581 L390 582 L392.5 581 L395 580 L398.5 580.5 L402 581" stroke="#2a962a" stroke-width="1.2" fill="none"/>
<path d="M284 575.84L285.98 579.44L282.02 579.44Z" fill="#2a962a"/>
<path d="M288 569.84L289.98 573.44L286.02 573.44Z" fill="#2a962a"/>
<path d="M291 560.84L292.98 564.44L289.02 564.44Z" fill="#2a962a"/>
<path d="M294 563.84L295.98 567.44L292.02 567.44Z" fill="#2a962a"/>
<path d="M297 557.84L298.98 561.44L295.02 561.44Z" fill="#2a962a"/>
<path d="M300 562.84L301.98 566.44L298.02 566.44Z" fill="#2a962a"/>
<path d="M302.5 558.84L304.48 562.44L300.52 562.44Z" fill="#2a962a"/>
<path d="M305 554.84L306.98 558.44L303.02 558.44Z" fill="#2a962a"/>
<path d="M309 545.84L310.98 549.44L307.02 549.44Z" fill="#2a962a"/>
<path d="M312 542.84L313.98 546.44L310.02 546.44Z" fill="#2a962a"/>
<path d="M315 541.84L316.98 545.44L313.02 545.44Z" fill="#2a962a"/>
<path d="M318 545.84L319.98 549.44L316.02 549.44Z" fill="#2a962a"/>
<path d="M321 553.84L322.98 557.44L319.02 557.44Z" fill="#2a962a"/>
<path d="M325 562.84L326.98 566.44L323.02 566.44Z" fill="#2a962a"/>
<path d="M327.5 568.34L329.48 571.94L325.52 571.94Z" fill="#2a962a"/>
<path d="M330 573.84L331.98 577.44L328.02 577.44Z" fill="#2a962a"/>
<path d="M332.5 575.34L334.48 578.94L330.52 578.94Z" fill="#2a962a"/>
<path d="M335 576.84L336.98 580.44L333.02 580.44Z" fill="#2a962a"/>
<path d="M337.5 577.84L339.48 581.44L335.52 581.44Z" fill="#2a962a"/>
<path d="M340 578.84L341.98 582.44L338.02 582.44Z" fill="#2a962a"/>
<path d="M342.5 577.84L344.48 581.44L340.52 581.44Z" fill="#2a962a"/>
<path d="M345 576.84L346.98 580.44L343.02 580.44Z" fill="#2a962a"/>
<path d="M347.5 578.34L349.48 581.94L345.52 581.94Z" fill="#2a962a"/>
<path d="M350 579.84L351.98 583.44L348.02 583.44Z" fill="#2a962a"/>
<path d="M352.5 578.84L354.48 582.44L350.52 582.44Z" fill="#2a962a"/>
<path d="M355 577.84L356.98 581.44L353.02 581.44Z" fill="#2a962a"/>
<path d="M357.5 578.84L359.48 582.44L355.52 582.44Z" fill="#2a962a"/>
<path d="M360 579.84L361.98 583.44L358.02 583.44Z" fill="#2a962a"/>
<path d="M362.5 578.84L364.48 582.44L360.52 582.44Z" fill="#2a962a"/>
<path d="M365 577.84L366.98 581.44L363.02 581.44Z" fill="#2a962a"/>
<path d="M367.5 578.84L369.48 582.44L365.52 582.44Z" fill="#2a962a"/>
<path d="M370 579.84L371.98 583.44L368.02 583.44Z" fill="#2a962a"/>
<path d="M372.5 578.84L374.48 582.44L370.52 582.44Z" fill="#2a962a"/>
<path d="M375 577.84L376.98 581.44L373.02 581.44Z" fill="#2a962a"/>
<path d="M377.5 578.84L379.48 582.44L375.52 582.44Z" fill="#2a962a"/>
<path d="M380 579.84L381.98 583.44L378.02 583.44Z" fill="#2a962a"/>
<path d="M382.5 578.84L384.48 582.44L380.52 582.44Z" fill="#2a962a"/>
<path d="M385 577.84L386.98 581.44L383.02 581.44Z" fill="#2a962a"/>
<path d="M387.5 578.84L389.48 582.44L385.52 582.44Z" fill="#2a962a"/>
<path d="M390 579.84L391.98 583.44L388.02 583.44Z" fill="#2a962a"/>
<path d="M392.5 578.84L394.48 582.44L390.52 582.44Z" fill="#2a962a"/>
<path d="M395 577.84L396.98 581.44L393.02 581.44Z" fill="#2a962a"/>
<path d="M398.5 578.34L400.48 581.94L396.52 581.94Z" fill="#2a962a"/>
<path d="M402 578.84L403.98 582.44L400.02 582.44Z" fill="#2a962a"/>
<path d="M284 578 L287 575 L290 572 L293 570 L296 568 L300 566 L302.5 563 L305 560 L307.5 555.5 L310 551 L312.5 548.5 L315 546 L318 550 L320 557 L323 566 L326 575 L329 581 L332 584 L336 585.5 L340 586 L342.5 586.12 L345 586.25 L347.5 586.38 L350 586.5 L352.5 586.62 L355 586.75 L357.5 586.88 L360 587 L362.5 587.06 L365 587.12 L367.5 587.19 L370 587.25 L372.5 587.31 L375 587.38 L377.5 587.44 L380 587.5 L382.44 587.56 L384.89 587.61 L387.33 587.67 L389.78 587.72 L392.22 587.78 L394.67 587.83 L397.11 587.89 L399.56 587.94 L402 588" stroke="#1c24e8" stroke-width="1.2" fill="none"/>
<path d="M284 575.4L286.2 578L284 580.6L281.8 578Z" fill="#1c24e8"/>
<path d="M287 572.4L289.2 575L287 577.6L284.8 575Z" fill="#1c24e8"/>
<path d="M290 569.4L292.2 572L290 574.6L287.8 572Z" fill="#1c24e8"/>
<path d="M293 567.4L295.2 570L293 572.6L290.8 570Z" fill="#1c24e8"/>
<path d="M296 565.4L298.2 568L296 570.6L293.8 568Z" fill="#1c24e8"/>
<path d="M300 563.4L302.2 566L300 568.6L297.8 566Z" fill="#1c24e8"/>
<path d="M302.5 560.4L304.7 563L302.5 565.6L300.3 563Z" fill="#1c24e8"/>
<path d="M305 557.4L307.2 560L305 562.6L302.8 560Z" fill="#1c24e8"/>
<path d="M307.5 552.9L309.7 555.5L307.5 558.1L305.3 555.5Z" fill="#1c24e8"/>
<path d="M310 548.4L312.2 551L310 553.6L307.8 551Z" fill="#1c24e8"/>
<path d="M312.5 545.9L314.7 548.5L312.5 551.1L310.3 548.5Z" fill="#1c24e8"/>
<path d="M315 543.4L317.2 546L315 548.6L312.8 546Z" fill="#1c24e8"/>
<path d="M318 547.4L320.2 550L318 552.6L315.8 550Z" fill="#1c24e8"/>
<path d="M320 554.4L322.2 557L320 559.6L317.8 557Z" fill="#1c24e8"/>
<path d="M323 563.4L325.2 566L323 568.6L320.8 566Z" fill="#1c24e8"/>
<path d="M326 572.4L328.2 575L326 577.6L323.8 575Z" fill="#1c24e8"/>
<path d="M329 578.4L331.2 581L329 583.6L326.8 581Z" fill="#1c24e8"/>
<path d="M332 581.4L334.2 584L332 586.6L329.8 584Z" fill="#1c24e8"/>
<path d="M336 582.9L338.2 585.5L336 588.1L333.8 585.5Z" fill="#1c24e8"/>
<path d="M340 583.4L342.2 586L340 588.6L337.8 586Z" fill="#1c24e8"/>
<path d="M342.5 583.52L344.7 586.12L342.5 588.73L340.3 586.12Z" fill="#1c24e8"/>
<path d="M345 583.65L347.2 586.25L345 588.85L342.8 586.25Z" fill="#1c24e8"/>
<path d="M347.5 583.77L349.7 586.38L347.5 588.98L345.3 586.38Z" fill="#1c24e8"/>
<path d="M350 583.9L352.2 586.5L350 589.1L347.8 586.5Z" fill="#1c24e8"/>
<path d="M352.5 584.02L354.7 586.62L352.5 589.23L350.3 586.62Z" fill="#1c24e8"/>
<path d="M355 584.15L357.2 586.75L355 589.35L352.8 586.75Z" fill="#1c24e8"/>
<path d="M357.5 584.27L359.7 586.88L357.5 589.48L355.3 586.88Z" fill="#1c24e8"/>
<path d="M360 584.4L362.2 587L360 589.6L357.8 587Z" fill="#1c24e8"/>
<path d="M362.5 584.46L364.7 587.06L362.5 589.66L360.3 587.06Z" fill="#1c24e8"/>
<path d="M365 584.52L367.2 587.12L365 589.73L362.8 587.12Z" fill="#1c24e8"/>
<path d="M367.5 584.59L369.7 587.19L367.5 589.79L365.3 587.19Z" fill="#1c24e8"/>
<path d="M370 584.65L372.2 587.25L370 589.85L367.8 587.25Z" fill="#1c24e8"/>
<path d="M372.5 584.71L374.7 587.31L372.5 589.91L370.3 587.31Z" fill="#1c24e8"/>
<path d="M375 584.77L377.2 587.38L375 589.98L372.8 587.38Z" fill="#1c24e8"/>
<path d="M377.5 584.84L379.7 587.44L377.5 590.04L375.3 587.44Z" fill="#1c24e8"/>
<path d="M380 584.9L382.2 587.5L380 590.1L377.8 587.5Z" fill="#1c24e8"/>
<path d="M382.44 584.96L384.64 587.56L382.44 590.16L380.24 587.56Z" fill="#1c24e8"/>
<path d="M384.89 585.01L387.09 587.61L384.89 590.21L382.69 587.61Z" fill="#1c24e8"/>
<path d="M387.33 585.07L389.53 587.67L387.33 590.27L385.13 587.67Z" fill="#1c24e8"/>
<path d="M389.78 585.12L391.98 587.72L389.78 590.32L387.58 587.72Z" fill="#1c24e8"/>
<path d="M392.22 585.18L394.42 587.78L392.22 590.38L390.02 587.78Z" fill="#1c24e8"/>
<path d="M394.67 585.23L396.87 587.83L394.67 590.43L392.47 587.83Z" fill="#1c24e8"/>
<path d="M397.11 585.29L399.31 587.89L397.11 590.49L394.91 587.89Z" fill="#1c24e8"/>
<path d="M399.56 585.34L401.76 587.94L399.56 590.54L397.36 587.94Z" fill="#1c24e8"/>
<path d="M402 585.4L404.2 588L402 590.6L399.8 588Z" fill="#1c24e8"/>
<path d="M283.1 578 L288.4 568.5 L291.5 562.2 L293.6 553.9 L296.8 547.6 L298.9 543.4 L301 532.9 L303 530.8 L305.2 518.2 L307.3 517.2 L309.4 511.9 L311.4 506.7 L313.5 502.5 L315.6 498.3 L317.7 491 L319.8 488.9 L323 486.8" stroke="#000" stroke-width="1.2" fill="none"/>
<circle cx="283.1" cy="578" r="2.7" fill="#000"/>
<circle cx="288.4" cy="568.5" r="2.7" fill="#000"/>
<circle cx="291.5" cy="562.2" r="2.7" fill="#000"/>
<circle cx="293.6" cy="553.9" r="2.7" fill="#000"/>
<circle cx="296.8" cy="547.6" r="2.7" fill="#000"/>
<circle cx="298.9" cy="543.4" r="2.7" fill="#000"/>
<circle cx="301" cy="532.9" r="2.7" fill="#000"/>
<circle cx="303" cy="530.8" r="2.7" fill="#000"/>
<circle cx="305.2" cy="518.2" r="2.7" fill="#000"/>
<circle cx="307.3" cy="517.2" r="2.7" fill="#000"/>
<circle cx="309.4" cy="511.9" r="2.7" fill="#000"/>
<circle cx="311.4" cy="506.7" r="2.7" fill="#000"/>
<circle cx="313.5" cy="502.5" r="2.7" fill="#000"/>
<circle cx="315.6" cy="498.3" r="2.7" fill="#000"/>
<circle cx="317.7" cy="491" r="2.7" fill="#000"/>
<circle cx="319.8" cy="488.9" r="2.7" fill="#000"/>
<circle cx="323" cy="486.8" r="2.7" fill="#000"/>
<line x1="315.3" y1="517" x2="315.3" y2="562" stroke="#8a4a20" stroke-width="1.1" stroke-dasharray="2.5 1.5"/>
<line x1="350.8" y1="533.2" x2="350.8" y2="567" stroke="#8a4a20" stroke-width="1.1" stroke-dasharray="2.5 1.5"/>
<line x1="315.3" y1="533.2" x2="398" y2="533.2" stroke="#8a4a20" stroke-width="1.1"/>
<line x1="350.8" y1="543.8" x2="398" y2="543.8" stroke="#8a4a20" stroke-width="1.1"/>
<path d="M397 530.5L403 533.2L397 535.9Z" fill="#8a4a20"/>
<path d="M397 541.1L403 543.8L397 546.5Z" fill="#8a4a20"/>
<text x="320" y="529.8" font-size="9.8" stroke="#8a4a20" stroke-width="0.25" fill="#8a4a20" textLength="86" lengthAdjust="spacingAndGlyphs">Shift to Repotrectinib</text>
<line x1="377" y1="468.8" x2="389.5" y2="468.8" stroke="#000" stroke-width="1.2"/>
<circle cx="383.2" cy="468.8" r="2.2" fill="#000"/>
<text x="397" y="471.3" font-size="7.3" stroke="#000" stroke-width="0.25" textLength="22.65" lengthAdjust="spacingAndGlyphs">Vehicle</text>
<line x1="377" y1="477.65" x2="389.5" y2="477.65" stroke="#2a962a" stroke-width="1.2"/>
<path d="M383.2 475.01L385.62 479.41L380.78 479.41Z" fill="#2a962a"/>
<text x="397" y="480.15" font-size="7.3" stroke="#000" stroke-width="0.25" textLength="44.9" lengthAdjust="spacingAndGlyphs">Ceri to Repo-1</text>
<line x1="377" y1="486.5" x2="389.5" y2="486.5" stroke="#b040e0" stroke-width="1.2"/>
<rect x="381" y="484.3" width="4.4" height="4.4" fill="#b040e0"/>
<text x="397" y="489" font-size="7.3" stroke="#000" stroke-width="0.25" textLength="44.9" lengthAdjust="spacingAndGlyphs">Ceri to Repo-2</text>
<line x1="377" y1="495.35" x2="389.5" y2="495.35" stroke="#1c24e8" stroke-width="1.2"/>
<path d="M383.2 492.49L385.62 495.35L383.2 498.21L380.78 495.35Z" fill="#1c24e8"/>
<text x="397" y="497.85" font-size="7.3" stroke="#000" stroke-width="0.25" textLength="44.9" lengthAdjust="spacingAndGlyphs">Ceri to Repo-3</text>
<line x1="377" y1="504.2" x2="389.5" y2="504.2" stroke="#f21c1c" stroke-width="1.2"/>
<path d="M383.2 501.34L385.62 504.2L383.2 507.06L380.78 504.2Z" fill="#f21c1c"/>
<text x="397" y="506.7" font-size="7.3" stroke="#000" stroke-width="0.25" textLength="42.34" lengthAdjust="spacingAndGlyphs">Repotrectinib</text></svg>
</body></html>
